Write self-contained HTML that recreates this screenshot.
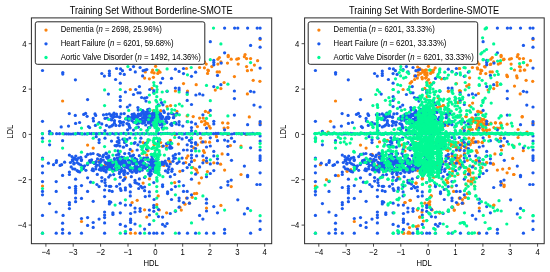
<!DOCTYPE html>
<html><head><meta charset="utf-8"><title>Borderline-SMOTE scatter</title>
<style>
html,body{margin:0;padding:0;background:#fff;}
svg{display:block;}
text{font-family:"Liberation Sans",Arial,sans-serif;fill:#000;}
.t{font-size:9px;}
.l{font-size:9px;}
.ti{font-size:10px;}
</style></head><body>
<svg width="550" height="272" viewBox="0 0 550 272">
<rect width="550" height="272" fill="#fff"/>
<g fill="#fb820c">
<circle cx="62.6" cy="101.0" r="1.62"/>
<circle cx="152.6" cy="70.0" r="1.62"/>
<circle cx="151.9" cy="72.2" r="1.62"/>
<circle cx="154.1" cy="72.9" r="1.62"/>
<circle cx="158.5" cy="70.7" r="1.62"/>
<circle cx="160.0" cy="72.2" r="1.62"/>
<circle cx="157.8" cy="73.4" r="1.62"/>
<circle cx="155.6" cy="66.3" r="1.62"/>
<circle cx="144.6" cy="78.1" r="1.62"/>
<circle cx="149.4" cy="78.8" r="1.62"/>
<circle cx="153.4" cy="77.3" r="1.62"/>
<circle cx="145.3" cy="71.9" r="1.62"/>
<circle cx="186.5" cy="68.5" r="1.62"/>
<circle cx="183.5" cy="83.6" r="1.62"/>
<circle cx="130.3" cy="89.5" r="1.62"/>
<circle cx="151.9" cy="88.4" r="1.62"/>
<circle cx="175.4" cy="91.0" r="1.62"/>
<circle cx="187.5" cy="91.0" r="1.62"/>
<circle cx="219.4" cy="57.5" r="1.62"/>
<circle cx="217.9" cy="59.2" r="1.62"/>
<circle cx="220.9" cy="61.9" r="1.62"/>
<circle cx="217.9" cy="64.1" r="1.62"/>
<circle cx="228.2" cy="56.7" r="1.62"/>
<circle cx="231.2" cy="59.2" r="1.62"/>
<circle cx="227.5" cy="63.1" r="1.62"/>
<circle cx="236.8" cy="59.2" r="1.62"/>
<circle cx="238.5" cy="58.6" r="1.62"/>
<circle cx="238.2" cy="64.1" r="1.62"/>
<circle cx="244.4" cy="56.7" r="1.62"/>
<circle cx="246.6" cy="58.6" r="1.62"/>
<circle cx="250.6" cy="58.6" r="1.62"/>
<circle cx="254.4" cy="65.1" r="1.62"/>
<circle cx="257.6" cy="60.7" r="1.62"/>
<circle cx="246.6" cy="66.6" r="1.62"/>
<circle cx="247.4" cy="70.7" r="1.62"/>
<circle cx="251.5" cy="70.0" r="1.62"/>
<circle cx="204.4" cy="61.9" r="1.62"/>
<circle cx="206.2" cy="64.1" r="1.62"/>
<circle cx="199.6" cy="67.5" r="1.62"/>
<circle cx="204.4" cy="67.8" r="1.62"/>
<circle cx="207.9" cy="70.0" r="1.62"/>
<circle cx="208.4" cy="70.7" r="1.62"/>
<circle cx="207.6" cy="73.4" r="1.62"/>
<circle cx="211.8" cy="66.6" r="1.62"/>
<circle cx="217.2" cy="71.9" r="1.62"/>
<circle cx="219.4" cy="71.9" r="1.62"/>
<circle cx="234.4" cy="76.6" r="1.62"/>
<circle cx="253.2" cy="80.3" r="1.62"/>
<circle cx="259.9" cy="81.3" r="1.62"/>
<circle cx="196.2" cy="84.7" r="1.62"/>
<circle cx="224.1" cy="82.5" r="1.62"/>
<circle cx="220.9" cy="88.6" r="1.62"/>
<circle cx="215.3" cy="90.1" r="1.62"/>
<circle cx="247.4" cy="93.9" r="1.62"/>
<circle cx="260.1" cy="39.5" r="1.62"/>
<circle cx="228.2" cy="55.4" r="1.62"/>
<circle cx="245.1" cy="54.5" r="1.62"/>
<circle cx="167.1" cy="106.6" r="1.62"/>
<circle cx="170.6" cy="105.6" r="1.62"/>
<circle cx="176.9" cy="111.4" r="1.62"/>
<circle cx="160.7" cy="110.7" r="1.62"/>
<circle cx="174.7" cy="115.1" r="1.62"/>
<circle cx="187.2" cy="115.9" r="1.62"/>
<circle cx="153.4" cy="110.7" r="1.62"/>
<circle cx="205.4" cy="111.4" r="1.62"/>
<circle cx="208.4" cy="112.5" r="1.62"/>
<circle cx="199.6" cy="118.1" r="1.62"/>
<circle cx="193.2" cy="116.6" r="1.62"/>
<circle cx="203.2" cy="118.1" r="1.62"/>
<circle cx="201.5" cy="121.7" r="1.62"/>
<circle cx="204.7" cy="121.0" r="1.62"/>
<circle cx="206.2" cy="123.2" r="1.62"/>
<circle cx="207.6" cy="123.6" r="1.62"/>
<circle cx="204.7" cy="124.7" r="1.62"/>
<circle cx="209.1" cy="126.1" r="1.62"/>
<circle cx="210.3" cy="128.1" r="1.62"/>
<circle cx="197.4" cy="126.6" r="1.62"/>
<circle cx="222.6" cy="122.8" r="1.62"/>
<circle cx="227.9" cy="123.2" r="1.62"/>
<circle cx="227.9" cy="127.6" r="1.62"/>
<circle cx="224.1" cy="128.1" r="1.62"/>
<circle cx="249.3" cy="116.9" r="1.62"/>
<circle cx="260.1" cy="123.2" r="1.62"/>
<circle cx="87.6" cy="145.1" r="1.62"/>
<circle cx="93.2" cy="148.1" r="1.62"/>
<circle cx="99.1" cy="155.1" r="1.62"/>
<circle cx="99.1" cy="161.3" r="1.62"/>
<circle cx="105.0" cy="165.4" r="1.62"/>
<circle cx="147.5" cy="141.6" r="1.62"/>
<circle cx="143.1" cy="142.6" r="1.62"/>
<circle cx="132.1" cy="151.0" r="1.62"/>
<circle cx="154.1" cy="144.8" r="1.62"/>
<circle cx="160.7" cy="142.6" r="1.62"/>
<circle cx="162.2" cy="146.3" r="1.62"/>
<circle cx="166.6" cy="145.6" r="1.62"/>
<circle cx="170.3" cy="140.4" r="1.62"/>
<circle cx="178.4" cy="144.1" r="1.62"/>
<circle cx="147.9" cy="150.7" r="1.62"/>
<circle cx="143.1" cy="153.6" r="1.62"/>
<circle cx="146.8" cy="155.1" r="1.62"/>
<circle cx="151.9" cy="159.5" r="1.62"/>
<circle cx="168.8" cy="160.3" r="1.62"/>
<circle cx="170.3" cy="162.5" r="1.62"/>
<circle cx="149.7" cy="167.2" r="1.62"/>
<circle cx="186.5" cy="158.1" r="1.62"/>
<circle cx="187.9" cy="155.9" r="1.62"/>
<circle cx="185.7" cy="162.5" r="1.62"/>
<circle cx="179.9" cy="171.3" r="1.62"/>
<circle cx="163.7" cy="165.4" r="1.62"/>
<circle cx="200.6" cy="138.2" r="1.62"/>
<circle cx="216.5" cy="136.7" r="1.62"/>
<circle cx="201.5" cy="142.2" r="1.62"/>
<circle cx="205.4" cy="141.9" r="1.62"/>
<circle cx="209.6" cy="142.2" r="1.62"/>
<circle cx="193.7" cy="147.8" r="1.62"/>
<circle cx="197.4" cy="144.8" r="1.62"/>
<circle cx="203.5" cy="150.7" r="1.62"/>
<circle cx="204.4" cy="152.5" r="1.62"/>
<circle cx="230.4" cy="145.6" r="1.62"/>
<circle cx="241.0" cy="146.0" r="1.62"/>
<circle cx="222.1" cy="153.9" r="1.62"/>
<circle cx="194.4" cy="160.3" r="1.62"/>
<circle cx="203.5" cy="160.3" r="1.62"/>
<circle cx="206.9" cy="162.5" r="1.62"/>
<circle cx="213.8" cy="162.8" r="1.62"/>
<circle cx="220.6" cy="164.2" r="1.62"/>
<circle cx="224.6" cy="170.1" r="1.62"/>
<circle cx="196.6" cy="170.1" r="1.62"/>
<circle cx="195.6" cy="169.1" r="1.62"/>
<circle cx="197.4" cy="172.5" r="1.62"/>
<circle cx="207.4" cy="171.6" r="1.62"/>
<circle cx="241.0" cy="174.5" r="1.62"/>
<circle cx="192.9" cy="167.6" r="1.62"/>
<circle cx="42.5" cy="186.0" r="1.62"/>
<circle cx="125.4" cy="177.5" r="1.62"/>
<circle cx="149.4" cy="178.9" r="1.62"/>
<circle cx="143.1" cy="183.1" r="1.62"/>
<circle cx="174.7" cy="182.6" r="1.62"/>
<circle cx="137.2" cy="200.3" r="1.62"/>
<circle cx="132.1" cy="202.5" r="1.62"/>
<circle cx="158.2" cy="195.9" r="1.62"/>
<circle cx="156.8" cy="204.7" r="1.62"/>
<circle cx="144.6" cy="209.8" r="1.62"/>
<circle cx="166.6" cy="212.8" r="1.62"/>
<circle cx="181.3" cy="210.1" r="1.62"/>
<circle cx="185.0" cy="204.2" r="1.62"/>
<circle cx="186.5" cy="198.1" r="1.62"/>
<circle cx="189.4" cy="203.2" r="1.62"/>
<circle cx="179.9" cy="207.2" r="1.62"/>
<circle cx="201.5" cy="177.8" r="1.62"/>
<circle cx="199.1" cy="183.1" r="1.62"/>
<circle cx="231.2" cy="186.6" r="1.62"/>
<circle cx="194.4" cy="193.6" r="1.62"/>
<circle cx="196.6" cy="193.4" r="1.62"/>
<circle cx="192.2" cy="197.3" r="1.62"/>
<circle cx="220.9" cy="205.4" r="1.62"/>
<circle cx="206.5" cy="208.1" r="1.62"/>
<circle cx="81.5" cy="221.5" r="1.62"/>
<circle cx="159.3" cy="210.0" r="1.62"/>
<circle cx="146.8" cy="217.1" r="1.62"/>
<circle cx="130.6" cy="233.2" r="1.62"/>
<circle cx="135.3" cy="233.2" r="1.62"/>
<circle cx="175.0" cy="134.5" r="1.62"/>
<circle cx="216.0" cy="134.5" r="1.62"/>
<circle cx="228.0" cy="134.5" r="1.62"/>
<circle cx="246.0" cy="134.5" r="1.62"/>
</g>
<g fill="#1b5aec">
<circle cx="42.5" cy="70.5" r="1.62"/>
<circle cx="62.8" cy="72.6" r="1.62"/>
<circle cx="62.8" cy="74.1" r="1.62"/>
<circle cx="75.4" cy="79.8" r="1.62"/>
<circle cx="101.8" cy="73.5" r="1.62"/>
<circle cx="104.4" cy="76.1" r="1.62"/>
<circle cx="109.4" cy="71.1" r="1.62"/>
<circle cx="109.4" cy="73.5" r="1.62"/>
<circle cx="109.4" cy="75.5" r="1.62"/>
<circle cx="87.6" cy="99.6" r="1.62"/>
<circle cx="108.4" cy="94.1" r="1.62"/>
<circle cx="69.3" cy="113.6" r="1.62"/>
<circle cx="75.3" cy="115.4" r="1.62"/>
<circle cx="83.7" cy="114.4" r="1.62"/>
<circle cx="85.6" cy="113.4" r="1.62"/>
<circle cx="87.1" cy="116.3" r="1.62"/>
<circle cx="95.0" cy="113.9" r="1.62"/>
<circle cx="95.7" cy="115.4" r="1.62"/>
<circle cx="93.2" cy="118.4" r="1.62"/>
<circle cx="93.5" cy="121.0" r="1.62"/>
<circle cx="103.5" cy="114.8" r="1.62"/>
<circle cx="106.5" cy="114.4" r="1.62"/>
<circle cx="109.4" cy="113.9" r="1.62"/>
<circle cx="105.0" cy="118.4" r="1.62"/>
<circle cx="107.2" cy="118.1" r="1.62"/>
<circle cx="42.5" cy="121.3" r="1.62"/>
<circle cx="75.6" cy="123.4" r="1.62"/>
<circle cx="79.6" cy="122.5" r="1.62"/>
<circle cx="61.2" cy="126.9" r="1.62"/>
<circle cx="68.5" cy="126.1" r="1.62"/>
<circle cx="88.5" cy="126.6" r="1.62"/>
<circle cx="89.6" cy="127.6" r="1.62"/>
<circle cx="95.4" cy="125.4" r="1.62"/>
<circle cx="99.1" cy="122.5" r="1.62"/>
<circle cx="101.8" cy="123.9" r="1.62"/>
<circle cx="106.5" cy="125.4" r="1.62"/>
<circle cx="109.4" cy="126.9" r="1.62"/>
<circle cx="49.6" cy="131.3" r="1.62"/>
<circle cx="105.0" cy="130.6" r="1.62"/>
<circle cx="116.6" cy="68.5" r="1.62"/>
<circle cx="120.6" cy="68.9" r="1.62"/>
<circle cx="122.5" cy="70.7" r="1.62"/>
<circle cx="120.3" cy="73.6" r="1.62"/>
<circle cx="124.3" cy="74.4" r="1.62"/>
<circle cx="115.6" cy="79.5" r="1.62"/>
<circle cx="120.3" cy="83.2" r="1.62"/>
<circle cx="130.3" cy="69.5" r="1.62"/>
<circle cx="135.3" cy="71.9" r="1.62"/>
<circle cx="133.5" cy="66.6" r="1.62"/>
<circle cx="140.1" cy="67.5" r="1.62"/>
<circle cx="143.1" cy="70.7" r="1.62"/>
<circle cx="145.3" cy="70.0" r="1.62"/>
<circle cx="146.8" cy="69.5" r="1.62"/>
<circle cx="142.6" cy="75.9" r="1.62"/>
<circle cx="162.6" cy="78.4" r="1.62"/>
<circle cx="160.7" cy="82.8" r="1.62"/>
<circle cx="171.5" cy="78.4" r="1.62"/>
<circle cx="175.4" cy="69.2" r="1.62"/>
<circle cx="179.1" cy="71.4" r="1.62"/>
<circle cx="183.5" cy="68.5" r="1.62"/>
<circle cx="183.5" cy="73.6" r="1.62"/>
<circle cx="139.4" cy="86.6" r="1.62"/>
<circle cx="135.7" cy="89.5" r="1.62"/>
<circle cx="125.4" cy="92.0" r="1.62"/>
<circle cx="137.9" cy="92.8" r="1.62"/>
<circle cx="140.1" cy="92.8" r="1.62"/>
<circle cx="133.5" cy="94.5" r="1.62"/>
<circle cx="149.7" cy="89.5" r="1.62"/>
<circle cx="153.8" cy="90.6" r="1.62"/>
<circle cx="153.8" cy="92.5" r="1.62"/>
<circle cx="167.1" cy="91.3" r="1.62"/>
<circle cx="175.4" cy="88.1" r="1.62"/>
<circle cx="179.1" cy="88.1" r="1.62"/>
<circle cx="179.1" cy="90.1" r="1.62"/>
<circle cx="187.2" cy="92.8" r="1.62"/>
<circle cx="213.8" cy="60.4" r="1.62"/>
<circle cx="213.8" cy="62.6" r="1.62"/>
<circle cx="213.8" cy="64.8" r="1.62"/>
<circle cx="221.2" cy="63.1" r="1.62"/>
<circle cx="195.6" cy="72.2" r="1.62"/>
<circle cx="191.5" cy="76.3" r="1.62"/>
<circle cx="217.5" cy="75.4" r="1.62"/>
<circle cx="260.1" cy="68.1" r="1.62"/>
<circle cx="220.9" cy="84.7" r="1.62"/>
<circle cx="213.8" cy="86.6" r="1.62"/>
<circle cx="234.4" cy="91.0" r="1.62"/>
<circle cx="250.6" cy="91.3" r="1.62"/>
<circle cx="254.0" cy="92.0" r="1.62"/>
<circle cx="195.9" cy="95.0" r="1.62"/>
<circle cx="199.6" cy="93.9" r="1.62"/>
<circle cx="202.9" cy="95.0" r="1.62"/>
<circle cx="224.6" cy="28.1" r="1.62"/>
<circle cx="234.6" cy="28.1" r="1.62"/>
<circle cx="237.8" cy="28.1" r="1.62"/>
<circle cx="247.6" cy="28.1" r="1.62"/>
<circle cx="257.2" cy="28.1" r="1.62"/>
<circle cx="260.1" cy="28.1" r="1.62"/>
<circle cx="210.3" cy="41.7" r="1.62"/>
<circle cx="260.1" cy="38.4" r="1.62"/>
<circle cx="250.6" cy="45.4" r="1.62"/>
<circle cx="260.1" cy="47.2" r="1.62"/>
<circle cx="224.6" cy="52.8" r="1.62"/>
<circle cx="120.3" cy="96.7" r="1.62"/>
<circle cx="120.3" cy="100.4" r="1.62"/>
<circle cx="120.3" cy="106.6" r="1.62"/>
<circle cx="129.9" cy="105.1" r="1.62"/>
<circle cx="127.4" cy="107.0" r="1.62"/>
<circle cx="137.9" cy="107.5" r="1.62"/>
<circle cx="141.6" cy="97.5" r="1.62"/>
<circle cx="144.6" cy="98.2" r="1.62"/>
<circle cx="146.8" cy="97.5" r="1.62"/>
<circle cx="146.0" cy="101.1" r="1.62"/>
<circle cx="187.2" cy="100.4" r="1.62"/>
<circle cx="161.5" cy="102.6" r="1.62"/>
<circle cx="158.5" cy="104.8" r="1.62"/>
<circle cx="162.9" cy="104.8" r="1.62"/>
<circle cx="176.2" cy="123.9" r="1.62"/>
<circle cx="179.1" cy="121.7" r="1.62"/>
<circle cx="182.8" cy="126.1" r="1.62"/>
<circle cx="179.1" cy="124.7" r="1.62"/>
<circle cx="187.2" cy="121.7" r="1.62"/>
<circle cx="111.5" cy="115.1" r="1.62"/>
<circle cx="113.7" cy="114.4" r="1.62"/>
<circle cx="110.7" cy="119.5" r="1.62"/>
<circle cx="111.5" cy="126.1" r="1.62"/>
<circle cx="115.9" cy="125.4" r="1.62"/>
<circle cx="114.4" cy="123.2" r="1.62"/>
<circle cx="127.6" cy="129.8" r="1.62"/>
<circle cx="133.5" cy="130.1" r="1.62"/>
<circle cx="162.2" cy="127.6" r="1.62"/>
<circle cx="171.8" cy="125.4" r="1.62"/>
<circle cx="174.7" cy="122.5" r="1.62"/>
<circle cx="191.5" cy="104.5" r="1.62"/>
<circle cx="234.4" cy="98.6" r="1.62"/>
<circle cx="254.0" cy="105.1" r="1.62"/>
<circle cx="260.1" cy="107.0" r="1.62"/>
<circle cx="210.3" cy="110.4" r="1.62"/>
<circle cx="202.9" cy="114.8" r="1.62"/>
<circle cx="234.4" cy="115.1" r="1.62"/>
<circle cx="191.5" cy="122.2" r="1.62"/>
<circle cx="195.6" cy="123.9" r="1.62"/>
<circle cx="191.5" cy="127.6" r="1.62"/>
<circle cx="213.8" cy="121.3" r="1.62"/>
<circle cx="213.8" cy="123.9" r="1.62"/>
<circle cx="206.5" cy="128.1" r="1.62"/>
<circle cx="224.6" cy="129.8" r="1.62"/>
<circle cx="247.6" cy="124.7" r="1.62"/>
<circle cx="260.1" cy="121.7" r="1.62"/>
<circle cx="260.1" cy="124.7" r="1.62"/>
<circle cx="191.5" cy="130.6" r="1.62"/>
<circle cx="42.5" cy="138.2" r="1.62"/>
<circle cx="62.6" cy="140.7" r="1.62"/>
<circle cx="49.6" cy="144.8" r="1.62"/>
<circle cx="42.5" cy="158.1" r="1.62"/>
<circle cx="42.5" cy="166.1" r="1.62"/>
<circle cx="42.5" cy="172.8" r="1.62"/>
<circle cx="48.4" cy="163.2" r="1.62"/>
<circle cx="53.5" cy="164.7" r="1.62"/>
<circle cx="56.5" cy="160.7" r="1.62"/>
<circle cx="56.2" cy="162.5" r="1.62"/>
<circle cx="60.1" cy="165.4" r="1.62"/>
<circle cx="61.6" cy="164.7" r="1.62"/>
<circle cx="64.6" cy="162.2" r="1.62"/>
<circle cx="62.6" cy="175.4" r="1.62"/>
<circle cx="69.4" cy="174.5" r="1.62"/>
<circle cx="69.4" cy="172.0" r="1.62"/>
<circle cx="99.1" cy="139.7" r="1.62"/>
<circle cx="99.1" cy="142.6" r="1.62"/>
<circle cx="105.0" cy="138.2" r="1.62"/>
<circle cx="96.2" cy="136.7" r="1.62"/>
<circle cx="69.4" cy="155.1" r="1.62"/>
<circle cx="71.9" cy="156.6" r="1.62"/>
<circle cx="74.1" cy="158.1" r="1.62"/>
<circle cx="75.6" cy="159.2" r="1.62"/>
<circle cx="72.6" cy="161.0" r="1.62"/>
<circle cx="70.4" cy="162.5" r="1.62"/>
<circle cx="74.1" cy="163.2" r="1.62"/>
<circle cx="77.1" cy="162.5" r="1.62"/>
<circle cx="71.2" cy="166.9" r="1.62"/>
<circle cx="74.9" cy="169.1" r="1.62"/>
<circle cx="77.1" cy="170.6" r="1.62"/>
<circle cx="78.5" cy="158.1" r="1.62"/>
<circle cx="80.7" cy="157.3" r="1.62"/>
<circle cx="81.5" cy="159.5" r="1.62"/>
<circle cx="87.6" cy="154.4" r="1.62"/>
<circle cx="90.6" cy="153.9" r="1.62"/>
<circle cx="85.9" cy="156.6" r="1.62"/>
<circle cx="103.5" cy="155.1" r="1.62"/>
<circle cx="106.5" cy="153.6" r="1.62"/>
<circle cx="108.7" cy="155.9" r="1.62"/>
<circle cx="179.1" cy="137.5" r="1.62"/>
<circle cx="182.1" cy="138.9" r="1.62"/>
<circle cx="186.5" cy="137.5" r="1.62"/>
<circle cx="189.4" cy="140.4" r="1.62"/>
<circle cx="187.2" cy="144.8" r="1.62"/>
<circle cx="183.5" cy="150.0" r="1.62"/>
<circle cx="187.2" cy="150.0" r="1.62"/>
<circle cx="175.4" cy="154.4" r="1.62"/>
<circle cx="179.1" cy="153.6" r="1.62"/>
<circle cx="173.2" cy="155.9" r="1.62"/>
<circle cx="175.4" cy="158.1" r="1.62"/>
<circle cx="182.1" cy="158.1" r="1.62"/>
<circle cx="179.1" cy="161.7" r="1.62"/>
<circle cx="183.5" cy="163.2" r="1.62"/>
<circle cx="189.4" cy="164.7" r="1.62"/>
<circle cx="171.8" cy="171.3" r="1.62"/>
<circle cx="174.7" cy="174.5" r="1.62"/>
<circle cx="182.8" cy="170.6" r="1.62"/>
<circle cx="187.2" cy="167.6" r="1.62"/>
<circle cx="171.8" cy="147.8" r="1.62"/>
<circle cx="170.3" cy="146.3" r="1.62"/>
<circle cx="115.1" cy="145.6" r="1.62"/>
<circle cx="111.5" cy="141.1" r="1.62"/>
<circle cx="118.8" cy="154.4" r="1.62"/>
<circle cx="124.7" cy="153.6" r="1.62"/>
<circle cx="129.1" cy="153.4" r="1.62"/>
<circle cx="135.0" cy="142.6" r="1.62"/>
<circle cx="137.9" cy="144.8" r="1.62"/>
<circle cx="137.2" cy="150.0" r="1.62"/>
<circle cx="140.9" cy="138.2" r="1.62"/>
<circle cx="140.1" cy="141.9" r="1.62"/>
<circle cx="191.5" cy="138.9" r="1.62"/>
<circle cx="191.5" cy="142.6" r="1.62"/>
<circle cx="191.5" cy="146.3" r="1.62"/>
<circle cx="191.5" cy="150.7" r="1.62"/>
<circle cx="191.5" cy="155.1" r="1.62"/>
<circle cx="191.5" cy="158.1" r="1.62"/>
<circle cx="191.5" cy="161.7" r="1.62"/>
<circle cx="195.6" cy="142.6" r="1.62"/>
<circle cx="195.6" cy="144.1" r="1.62"/>
<circle cx="195.6" cy="148.5" r="1.62"/>
<circle cx="196.6" cy="155.9" r="1.62"/>
<circle cx="199.6" cy="166.9" r="1.62"/>
<circle cx="195.6" cy="174.2" r="1.62"/>
<circle cx="202.9" cy="141.9" r="1.62"/>
<circle cx="206.5" cy="147.0" r="1.62"/>
<circle cx="210.3" cy="137.8" r="1.62"/>
<circle cx="210.3" cy="146.0" r="1.62"/>
<circle cx="202.9" cy="155.9" r="1.62"/>
<circle cx="206.5" cy="158.1" r="1.62"/>
<circle cx="202.9" cy="162.8" r="1.62"/>
<circle cx="206.5" cy="161.0" r="1.62"/>
<circle cx="210.3" cy="163.9" r="1.62"/>
<circle cx="213.8" cy="151.4" r="1.62"/>
<circle cx="213.8" cy="155.9" r="1.62"/>
<circle cx="217.5" cy="158.8" r="1.62"/>
<circle cx="217.5" cy="163.2" r="1.62"/>
<circle cx="213.8" cy="170.6" r="1.62"/>
<circle cx="210.3" cy="173.5" r="1.62"/>
<circle cx="217.5" cy="140.7" r="1.62"/>
<circle cx="224.6" cy="140.1" r="1.62"/>
<circle cx="227.9" cy="141.1" r="1.62"/>
<circle cx="231.5" cy="138.2" r="1.62"/>
<circle cx="234.4" cy="141.6" r="1.62"/>
<circle cx="227.9" cy="146.3" r="1.62"/>
<circle cx="227.9" cy="154.4" r="1.62"/>
<circle cx="231.5" cy="160.3" r="1.62"/>
<circle cx="250.6" cy="147.8" r="1.62"/>
<circle cx="244.4" cy="166.1" r="1.62"/>
<circle cx="247.6" cy="175.4" r="1.62"/>
<circle cx="260.1" cy="136.0" r="1.62"/>
<circle cx="260.1" cy="141.1" r="1.62"/>
<circle cx="260.1" cy="150.0" r="1.62"/>
<circle cx="260.1" cy="155.9" r="1.62"/>
<circle cx="260.1" cy="158.1" r="1.62"/>
<circle cx="260.1" cy="160.3" r="1.62"/>
<circle cx="260.1" cy="172.8" r="1.62"/>
<circle cx="42.5" cy="181.6" r="1.62"/>
<circle cx="42.5" cy="191.4" r="1.62"/>
<circle cx="42.5" cy="194.8" r="1.62"/>
<circle cx="42.5" cy="215.4" r="1.62"/>
<circle cx="56.2" cy="181.6" r="1.62"/>
<circle cx="56.2" cy="191.4" r="1.62"/>
<circle cx="56.2" cy="212.0" r="1.62"/>
<circle cx="49.6" cy="203.6" r="1.62"/>
<circle cx="69.4" cy="187.5" r="1.62"/>
<circle cx="69.4" cy="202.5" r="1.62"/>
<circle cx="69.4" cy="204.7" r="1.62"/>
<circle cx="69.4" cy="208.6" r="1.62"/>
<circle cx="75.6" cy="179.2" r="1.62"/>
<circle cx="75.6" cy="186.3" r="1.62"/>
<circle cx="75.6" cy="188.5" r="1.62"/>
<circle cx="75.6" cy="190.7" r="1.62"/>
<circle cx="75.6" cy="192.9" r="1.62"/>
<circle cx="75.6" cy="198.1" r="1.62"/>
<circle cx="75.6" cy="201.7" r="1.62"/>
<circle cx="81.5" cy="185.6" r="1.62"/>
<circle cx="81.5" cy="198.4" r="1.62"/>
<circle cx="87.6" cy="177.8" r="1.62"/>
<circle cx="87.6" cy="191.4" r="1.62"/>
<circle cx="90.6" cy="182.2" r="1.62"/>
<circle cx="93.2" cy="201.3" r="1.62"/>
<circle cx="96.9" cy="184.5" r="1.62"/>
<circle cx="99.1" cy="186.6" r="1.62"/>
<circle cx="101.8" cy="177.5" r="1.62"/>
<circle cx="101.8" cy="181.1" r="1.62"/>
<circle cx="105.0" cy="179.7" r="1.62"/>
<circle cx="105.0" cy="182.6" r="1.62"/>
<circle cx="105.7" cy="185.6" r="1.62"/>
<circle cx="109.4" cy="186.3" r="1.62"/>
<circle cx="104.6" cy="190.0" r="1.62"/>
<circle cx="109.4" cy="190.7" r="1.62"/>
<circle cx="104.6" cy="196.6" r="1.62"/>
<circle cx="109.4" cy="201.7" r="1.62"/>
<circle cx="109.4" cy="203.9" r="1.62"/>
<circle cx="104.6" cy="212.0" r="1.62"/>
<circle cx="104.6" cy="215.0" r="1.62"/>
<circle cx="63.1" cy="215.4" r="1.62"/>
<circle cx="120.3" cy="177.2" r="1.62"/>
<circle cx="123.2" cy="180.4" r="1.62"/>
<circle cx="124.7" cy="178.9" r="1.62"/>
<circle cx="131.3" cy="176.7" r="1.62"/>
<circle cx="135.0" cy="180.4" r="1.62"/>
<circle cx="136.5" cy="183.1" r="1.62"/>
<circle cx="139.4" cy="178.9" r="1.62"/>
<circle cx="144.6" cy="177.5" r="1.62"/>
<circle cx="110.7" cy="186.3" r="1.62"/>
<circle cx="112.2" cy="191.4" r="1.62"/>
<circle cx="116.6" cy="186.3" r="1.62"/>
<circle cx="119.6" cy="184.1" r="1.62"/>
<circle cx="120.3" cy="188.5" r="1.62"/>
<circle cx="121.0" cy="190.4" r="1.62"/>
<circle cx="125.4" cy="187.8" r="1.62"/>
<circle cx="125.4" cy="190.0" r="1.62"/>
<circle cx="129.9" cy="184.8" r="1.62"/>
<circle cx="130.6" cy="186.3" r="1.62"/>
<circle cx="130.3" cy="191.9" r="1.62"/>
<circle cx="130.3" cy="195.9" r="1.62"/>
<circle cx="135.0" cy="182.6" r="1.62"/>
<circle cx="138.7" cy="184.1" r="1.62"/>
<circle cx="138.7" cy="188.5" r="1.62"/>
<circle cx="140.9" cy="186.3" r="1.62"/>
<circle cx="142.4" cy="187.8" r="1.62"/>
<circle cx="144.6" cy="187.0" r="1.62"/>
<circle cx="144.6" cy="190.7" r="1.62"/>
<circle cx="145.3" cy="196.6" r="1.62"/>
<circle cx="149.4" cy="191.9" r="1.62"/>
<circle cx="149.4" cy="195.9" r="1.62"/>
<circle cx="153.8" cy="182.6" r="1.62"/>
<circle cx="162.6" cy="184.8" r="1.62"/>
<circle cx="162.6" cy="186.6" r="1.62"/>
<circle cx="167.6" cy="191.9" r="1.62"/>
<circle cx="167.6" cy="193.6" r="1.62"/>
<circle cx="171.5" cy="189.5" r="1.62"/>
<circle cx="175.4" cy="186.6" r="1.62"/>
<circle cx="179.1" cy="181.6" r="1.62"/>
<circle cx="183.5" cy="185.6" r="1.62"/>
<circle cx="183.5" cy="191.4" r="1.62"/>
<circle cx="187.2" cy="191.4" r="1.62"/>
<circle cx="171.5" cy="199.5" r="1.62"/>
<circle cx="179.1" cy="198.1" r="1.62"/>
<circle cx="179.1" cy="200.7" r="1.62"/>
<circle cx="183.5" cy="202.5" r="1.62"/>
<circle cx="187.2" cy="198.1" r="1.62"/>
<circle cx="110.7" cy="202.2" r="1.62"/>
<circle cx="120.3" cy="203.2" r="1.62"/>
<circle cx="125.4" cy="205.1" r="1.62"/>
<circle cx="130.6" cy="205.1" r="1.62"/>
<circle cx="135.0" cy="208.1" r="1.62"/>
<circle cx="135.0" cy="212.0" r="1.62"/>
<circle cx="140.1" cy="208.6" r="1.62"/>
<circle cx="140.1" cy="211.3" r="1.62"/>
<circle cx="149.4" cy="210.1" r="1.62"/>
<circle cx="153.8" cy="205.4" r="1.62"/>
<circle cx="153.8" cy="207.6" r="1.62"/>
<circle cx="153.8" cy="211.3" r="1.62"/>
<circle cx="158.5" cy="209.5" r="1.62"/>
<circle cx="120.3" cy="212.8" r="1.62"/>
<circle cx="112.9" cy="212.8" r="1.62"/>
<circle cx="130.6" cy="213.5" r="1.62"/>
<circle cx="149.4" cy="215.0" r="1.62"/>
<circle cx="170.3" cy="213.5" r="1.62"/>
<circle cx="175.4" cy="211.3" r="1.62"/>
<circle cx="179.1" cy="207.2" r="1.62"/>
<circle cx="189.4" cy="203.2" r="1.62"/>
<circle cx="170.3" cy="176.7" r="1.62"/>
<circle cx="154.1" cy="199.5" r="1.62"/>
<circle cx="191.5" cy="179.2" r="1.62"/>
<circle cx="206.5" cy="176.7" r="1.62"/>
<circle cx="247.6" cy="176.7" r="1.62"/>
<circle cx="227.9" cy="181.6" r="1.62"/>
<circle cx="231.2" cy="180.1" r="1.62"/>
<circle cx="227.9" cy="185.1" r="1.62"/>
<circle cx="220.9" cy="187.5" r="1.62"/>
<circle cx="256.9" cy="184.5" r="1.62"/>
<circle cx="260.1" cy="184.5" r="1.62"/>
<circle cx="191.5" cy="194.8" r="1.62"/>
<circle cx="206.5" cy="199.2" r="1.62"/>
<circle cx="206.5" cy="203.2" r="1.62"/>
<circle cx="237.8" cy="199.8" r="1.62"/>
<circle cx="213.8" cy="206.6" r="1.62"/>
<circle cx="206.5" cy="211.0" r="1.62"/>
<circle cx="217.5" cy="212.8" r="1.62"/>
<circle cx="247.6" cy="208.4" r="1.62"/>
<circle cx="244.4" cy="213.9" r="1.62"/>
<circle cx="199.6" cy="215.4" r="1.62"/>
<circle cx="62.6" cy="223.2" r="1.62"/>
<circle cx="62.6" cy="229.4" r="1.62"/>
<circle cx="62.6" cy="233.2" r="1.62"/>
<circle cx="56.2" cy="233.2" r="1.62"/>
<circle cx="69.4" cy="233.2" r="1.62"/>
<circle cx="42.5" cy="233.2" r="1.62"/>
<circle cx="81.5" cy="233.2" r="1.62"/>
<circle cx="104.6" cy="233.2" r="1.62"/>
<circle cx="81.5" cy="218.5" r="1.62"/>
<circle cx="87.6" cy="217.6" r="1.62"/>
<circle cx="87.6" cy="225.4" r="1.62"/>
<circle cx="93.2" cy="222.5" r="1.62"/>
<circle cx="93.2" cy="227.4" r="1.62"/>
<circle cx="99.1" cy="219.1" r="1.62"/>
<circle cx="104.6" cy="217.6" r="1.62"/>
<circle cx="104.6" cy="222.9" r="1.62"/>
<circle cx="112.9" cy="214.4" r="1.62"/>
<circle cx="158.5" cy="216.6" r="1.62"/>
<circle cx="162.6" cy="217.1" r="1.62"/>
<circle cx="130.6" cy="219.1" r="1.62"/>
<circle cx="130.6" cy="220.6" r="1.62"/>
<circle cx="130.6" cy="222.5" r="1.62"/>
<circle cx="120.3" cy="224.4" r="1.62"/>
<circle cx="125.4" cy="226.2" r="1.62"/>
<circle cx="135.0" cy="224.0" r="1.62"/>
<circle cx="149.4" cy="224.4" r="1.62"/>
<circle cx="162.6" cy="224.4" r="1.62"/>
<circle cx="165.1" cy="226.2" r="1.62"/>
<circle cx="167.1" cy="223.5" r="1.62"/>
<circle cx="130.6" cy="229.4" r="1.62"/>
<circle cx="144.6" cy="229.1" r="1.62"/>
<circle cx="125.4" cy="233.2" r="1.62"/>
<circle cx="140.1" cy="233.2" r="1.62"/>
<circle cx="149.4" cy="233.2" r="1.62"/>
<circle cx="153.8" cy="233.2" r="1.62"/>
<circle cx="156.8" cy="233.2" r="1.62"/>
<circle cx="162.6" cy="233.2" r="1.62"/>
<circle cx="179.1" cy="233.2" r="1.62"/>
<circle cx="187.5" cy="233.2" r="1.62"/>
<circle cx="202.9" cy="219.1" r="1.62"/>
<circle cx="260.1" cy="221.0" r="1.62"/>
<circle cx="260.1" cy="229.4" r="1.62"/>
<circle cx="224.6" cy="229.4" r="1.62"/>
<circle cx="224.6" cy="233.2" r="1.62"/>
<circle cx="195.6" cy="233.2" r="1.62"/>
<circle cx="206.5" cy="233.2" r="1.62"/>
<circle cx="213.8" cy="233.2" r="1.62"/>
<circle cx="250.6" cy="233.2" r="1.62"/>
<circle cx="119.6" cy="121.4" r="1.62"/>
<circle cx="128.6" cy="120.0" r="1.62"/>
<circle cx="120.6" cy="121.8" r="1.62"/>
<circle cx="114.5" cy="120.7" r="1.62"/>
<circle cx="123.0" cy="124.9" r="1.62"/>
<circle cx="112.8" cy="117.6" r="1.62"/>
<circle cx="112.7" cy="125.1" r="1.62"/>
<circle cx="124.2" cy="113.6" r="1.62"/>
<circle cx="129.7" cy="127.5" r="1.62"/>
<circle cx="123.4" cy="122.2" r="1.62"/>
<circle cx="114.0" cy="113.2" r="1.62"/>
<circle cx="121.0" cy="113.9" r="1.62"/>
<circle cx="114.6" cy="116.6" r="1.62"/>
<circle cx="111.6" cy="120.0" r="1.62"/>
<circle cx="119.4" cy="125.6" r="1.62"/>
<circle cx="120.9" cy="122.6" r="1.62"/>
<circle cx="120.5" cy="122.9" r="1.62"/>
<circle cx="119.7" cy="117.2" r="1.62"/>
<circle cx="130.0" cy="127.9" r="1.62"/>
<circle cx="127.0" cy="123.6" r="1.62"/>
<circle cx="117.0" cy="116.4" r="1.62"/>
<circle cx="116.5" cy="114.1" r="1.62"/>
<circle cx="125.6" cy="119.0" r="1.62"/>
<circle cx="127.1" cy="118.8" r="1.62"/>
<circle cx="129.2" cy="125.7" r="1.62"/>
<circle cx="111.0" cy="116.1" r="1.62"/>
<circle cx="166.6" cy="143.6" r="1.62"/>
<circle cx="170.8" cy="142.6" r="1.62"/>
<circle cx="116.4" cy="145.8" r="1.62"/>
<circle cx="158.7" cy="140.8" r="1.62"/>
<circle cx="117.2" cy="141.7" r="1.62"/>
<circle cx="169.8" cy="147.6" r="1.62"/>
<circle cx="119.1" cy="140.4" r="1.62"/>
<circle cx="118.1" cy="137.8" r="1.62"/>
<circle cx="159.8" cy="139.5" r="1.62"/>
<circle cx="145.6" cy="143.3" r="1.62"/>
<circle cx="123.4" cy="147.2" r="1.62"/>
<circle cx="119.9" cy="146.0" r="1.62"/>
<circle cx="119.0" cy="142.9" r="1.62"/>
<circle cx="124.8" cy="140.8" r="1.62"/>
<circle cx="170.3" cy="148.2" r="1.62"/>
<circle cx="130.2" cy="149.4" r="1.62"/>
<circle cx="124.6" cy="142.5" r="1.62"/>
<circle cx="163.3" cy="146.0" r="1.62"/>
<circle cx="118.0" cy="150.9" r="1.62"/>
<circle cx="124.8" cy="140.6" r="1.62"/>
<circle cx="158.4" cy="141.6" r="1.62"/>
<circle cx="129.8" cy="138.0" r="1.62"/>
<circle cx="117.4" cy="145.2" r="1.62"/>
<circle cx="126.6" cy="145.4" r="1.62"/>
<circle cx="134.3" cy="143.3" r="1.62"/>
<circle cx="169.5" cy="143.8" r="1.62"/>
<circle cx="146.5" cy="149.1" r="1.62"/>
<circle cx="123.0" cy="139.2" r="1.62"/>
<circle cx="166.5" cy="148.4" r="1.62"/>
<circle cx="127.0" cy="139.7" r="1.62"/>
<circle cx="156.1" cy="117.5" r="1.62"/>
<circle cx="150.5" cy="117.6" r="1.62"/>
<circle cx="153.2" cy="121.3" r="1.62"/>
<circle cx="145.6" cy="115.1" r="1.62"/>
<circle cx="138.9" cy="123.1" r="1.62"/>
<circle cx="166.7" cy="122.7" r="1.62"/>
<circle cx="161.1" cy="122.0" r="1.62"/>
<circle cx="150.0" cy="121.3" r="1.62"/>
<circle cx="136.3" cy="117.6" r="1.62"/>
<circle cx="140.5" cy="121.6" r="1.62"/>
<circle cx="142.5" cy="118.0" r="1.62"/>
<circle cx="155.2" cy="124.2" r="1.62"/>
<circle cx="139.7" cy="114.6" r="1.62"/>
<circle cx="160.6" cy="113.9" r="1.62"/>
<circle cx="155.9" cy="116.1" r="1.62"/>
<circle cx="148.6" cy="110.9" r="1.62"/>
<circle cx="159.3" cy="116.4" r="1.62"/>
<circle cx="138.3" cy="127.2" r="1.62"/>
<circle cx="155.3" cy="117.0" r="1.62"/>
<circle cx="151.4" cy="125.2" r="1.62"/>
<circle cx="149.6" cy="120.4" r="1.62"/>
<circle cx="156.7" cy="114.7" r="1.62"/>
<circle cx="151.7" cy="116.4" r="1.62"/>
<circle cx="133.8" cy="122.2" r="1.62"/>
<circle cx="158.7" cy="118.8" r="1.62"/>
<circle cx="138.2" cy="110.1" r="1.62"/>
<circle cx="156.3" cy="118.1" r="1.62"/>
<circle cx="128.1" cy="118.2" r="1.62"/>
<circle cx="130.2" cy="118.4" r="1.62"/>
<circle cx="151.9" cy="120.0" r="1.62"/>
<circle cx="152.8" cy="119.2" r="1.62"/>
<circle cx="135.2" cy="116.9" r="1.62"/>
<circle cx="143.4" cy="117.5" r="1.62"/>
<circle cx="153.5" cy="121.1" r="1.62"/>
<circle cx="155.2" cy="117.7" r="1.62"/>
<circle cx="128.5" cy="120.2" r="1.62"/>
<circle cx="143.2" cy="122.7" r="1.62"/>
<circle cx="136.3" cy="118.1" r="1.62"/>
<circle cx="148.3" cy="118.1" r="1.62"/>
<circle cx="142.4" cy="110.8" r="1.62"/>
<circle cx="156.0" cy="122.7" r="1.62"/>
<circle cx="149.1" cy="114.2" r="1.62"/>
<circle cx="152.6" cy="120.9" r="1.62"/>
<circle cx="147.7" cy="118.4" r="1.62"/>
<circle cx="168.3" cy="113.8" r="1.62"/>
<circle cx="142.7" cy="110.5" r="1.62"/>
<circle cx="140.9" cy="115.4" r="1.62"/>
<circle cx="137.5" cy="115.6" r="1.62"/>
<circle cx="173.4" cy="117.7" r="1.62"/>
<circle cx="148.5" cy="127.7" r="1.62"/>
<circle cx="149.2" cy="111.2" r="1.62"/>
<circle cx="155.2" cy="114.6" r="1.62"/>
<circle cx="171.3" cy="113.3" r="1.62"/>
<circle cx="142.5" cy="111.8" r="1.62"/>
<circle cx="151.3" cy="114.2" r="1.62"/>
<circle cx="149.1" cy="116.9" r="1.62"/>
<circle cx="142.0" cy="122.5" r="1.62"/>
<circle cx="162.2" cy="118.8" r="1.62"/>
<circle cx="138.3" cy="114.0" r="1.62"/>
<circle cx="144.1" cy="115.2" r="1.62"/>
<circle cx="140.9" cy="113.9" r="1.62"/>
<circle cx="137.4" cy="117.6" r="1.62"/>
<circle cx="168.6" cy="118.5" r="1.62"/>
<circle cx="143.4" cy="111.7" r="1.62"/>
<circle cx="152.8" cy="118.4" r="1.62"/>
<circle cx="134.1" cy="113.9" r="1.62"/>
<circle cx="149.5" cy="122.8" r="1.62"/>
<circle cx="158.1" cy="119.4" r="1.62"/>
<circle cx="145.8" cy="119.8" r="1.62"/>
<circle cx="149.8" cy="127.6" r="1.62"/>
<circle cx="135.3" cy="117.0" r="1.62"/>
<circle cx="166.5" cy="117.4" r="1.62"/>
<circle cx="168.5" cy="118.3" r="1.62"/>
<circle cx="151.9" cy="116.9" r="1.62"/>
<circle cx="132.1" cy="114.4" r="1.62"/>
<circle cx="157.9" cy="122.5" r="1.62"/>
<circle cx="157.4" cy="122.8" r="1.62"/>
<circle cx="146.5" cy="117.6" r="1.62"/>
<circle cx="162.8" cy="117.0" r="1.62"/>
<circle cx="132.7" cy="117.6" r="1.62"/>
<circle cx="142.9" cy="121.1" r="1.62"/>
<circle cx="140.6" cy="114.0" r="1.62"/>
<circle cx="145.7" cy="125.0" r="1.62"/>
<circle cx="149.4" cy="119.2" r="1.62"/>
<circle cx="150.1" cy="119.7" r="1.62"/>
<circle cx="162.1" cy="124.4" r="1.62"/>
<circle cx="128.6" cy="124.2" r="1.62"/>
<circle cx="150.0" cy="117.2" r="1.62"/>
<circle cx="175.3" cy="122.6" r="1.62"/>
<circle cx="136.6" cy="120.6" r="1.62"/>
<circle cx="159.6" cy="118.0" r="1.62"/>
<circle cx="119.7" cy="117.1" r="1.62"/>
<circle cx="147.5" cy="113.8" r="1.62"/>
<circle cx="173.7" cy="117.5" r="1.62"/>
<circle cx="144.9" cy="117.2" r="1.62"/>
<circle cx="139.8" cy="115.2" r="1.62"/>
<circle cx="151.2" cy="119.8" r="1.62"/>
<circle cx="143.4" cy="118.1" r="1.62"/>
<circle cx="131.9" cy="120.7" r="1.62"/>
<circle cx="140.3" cy="119.4" r="1.62"/>
<circle cx="138.2" cy="116.3" r="1.62"/>
<circle cx="152.8" cy="113.4" r="1.62"/>
<circle cx="149.1" cy="115.4" r="1.62"/>
<circle cx="170.7" cy="124.3" r="1.62"/>
<circle cx="153.9" cy="112.8" r="1.62"/>
<circle cx="143.4" cy="121.1" r="1.62"/>
<circle cx="143.3" cy="113.5" r="1.62"/>
<circle cx="134.6" cy="115.3" r="1.62"/>
<circle cx="150.2" cy="115.8" r="1.62"/>
<circle cx="173.0" cy="114.1" r="1.62"/>
<circle cx="154.5" cy="118.9" r="1.62"/>
<circle cx="148.2" cy="122.9" r="1.62"/>
<circle cx="145.7" cy="117.1" r="1.62"/>
<circle cx="145.1" cy="118.1" r="1.62"/>
<circle cx="166.7" cy="121.8" r="1.62"/>
<circle cx="132.6" cy="116.6" r="1.62"/>
<circle cx="139.6" cy="121.9" r="1.62"/>
<circle cx="152.9" cy="122.2" r="1.62"/>
<circle cx="149.2" cy="110.5" r="1.62"/>
<circle cx="155.9" cy="119.5" r="1.62"/>
<circle cx="156.6" cy="113.0" r="1.62"/>
<circle cx="151.1" cy="115.6" r="1.62"/>
<circle cx="141.1" cy="120.0" r="1.62"/>
<circle cx="154.6" cy="114.8" r="1.62"/>
<circle cx="142.5" cy="123.2" r="1.62"/>
<circle cx="149.3" cy="109.0" r="1.62"/>
<circle cx="138.8" cy="120.3" r="1.62"/>
<circle cx="171.7" cy="123.4" r="1.62"/>
<circle cx="154.8" cy="119.3" r="1.62"/>
<circle cx="136.2" cy="116.6" r="1.62"/>
<circle cx="145.7" cy="115.2" r="1.62"/>
<circle cx="150.8" cy="116.9" r="1.62"/>
<circle cx="154.4" cy="124.5" r="1.62"/>
<circle cx="159.6" cy="120.3" r="1.62"/>
<circle cx="146.9" cy="112.1" r="1.62"/>
<circle cx="148.5" cy="120.8" r="1.62"/>
<circle cx="136.9" cy="123.8" r="1.62"/>
<circle cx="145.7" cy="120.1" r="1.62"/>
<circle cx="145.7" cy="113.2" r="1.62"/>
<circle cx="176.9" cy="113.6" r="1.62"/>
<circle cx="161.9" cy="116.2" r="1.62"/>
<circle cx="153.6" cy="115.1" r="1.62"/>
<circle cx="144.6" cy="122.4" r="1.62"/>
<circle cx="175.3" cy="114.9" r="1.62"/>
<circle cx="150.1" cy="122.5" r="1.62"/>
<circle cx="141.8" cy="121.5" r="1.62"/>
<circle cx="139.8" cy="121.0" r="1.62"/>
<circle cx="155.7" cy="123.6" r="1.62"/>
<circle cx="154.7" cy="113.5" r="1.62"/>
<circle cx="158.6" cy="113.9" r="1.62"/>
<circle cx="159.8" cy="124.8" r="1.62"/>
<circle cx="157.7" cy="116.2" r="1.62"/>
<circle cx="165.5" cy="119.2" r="1.62"/>
<circle cx="133.8" cy="117.0" r="1.62"/>
<circle cx="168.4" cy="117.2" r="1.62"/>
<circle cx="151.6" cy="117.1" r="1.62"/>
<circle cx="128.1" cy="116.4" r="1.62"/>
<circle cx="154.6" cy="119.4" r="1.62"/>
<circle cx="147.7" cy="109.5" r="1.62"/>
<circle cx="165.9" cy="121.5" r="1.62"/>
<circle cx="163.3" cy="124.0" r="1.62"/>
<circle cx="144.2" cy="116.0" r="1.62"/>
<circle cx="154.1" cy="125.5" r="1.62"/>
<circle cx="128.1" cy="117.5" r="1.62"/>
<circle cx="140.7" cy="120.8" r="1.62"/>
<circle cx="169.0" cy="117.3" r="1.62"/>
<circle cx="133.9" cy="118.7" r="1.62"/>
<circle cx="146.3" cy="112.0" r="1.62"/>
<circle cx="161.5" cy="116.3" r="1.62"/>
<circle cx="158.9" cy="113.0" r="1.62"/>
<circle cx="164.3" cy="112.4" r="1.62"/>
<circle cx="163.7" cy="110.9" r="1.62"/>
<circle cx="167.9" cy="116.9" r="1.62"/>
<circle cx="129.8" cy="117.5" r="1.62"/>
<circle cx="154.4" cy="114.3" r="1.62"/>
<circle cx="114.2" cy="165.6" r="1.62"/>
<circle cx="116.0" cy="166.4" r="1.62"/>
<circle cx="136.3" cy="169.3" r="1.62"/>
<circle cx="108.7" cy="177.1" r="1.62"/>
<circle cx="150.4" cy="165.9" r="1.62"/>
<circle cx="158.4" cy="169.1" r="1.62"/>
<circle cx="130.9" cy="161.2" r="1.62"/>
<circle cx="156.7" cy="166.4" r="1.62"/>
<circle cx="75.0" cy="158.8" r="1.62"/>
<circle cx="141.1" cy="164.8" r="1.62"/>
<circle cx="135.8" cy="167.5" r="1.62"/>
<circle cx="132.1" cy="172.2" r="1.62"/>
<circle cx="111.5" cy="162.3" r="1.62"/>
<circle cx="137.0" cy="168.0" r="1.62"/>
<circle cx="150.1" cy="171.7" r="1.62"/>
<circle cx="114.7" cy="170.1" r="1.62"/>
<circle cx="141.1" cy="159.1" r="1.62"/>
<circle cx="124.2" cy="174.7" r="1.62"/>
<circle cx="150.0" cy="162.0" r="1.62"/>
<circle cx="108.3" cy="164.7" r="1.62"/>
<circle cx="136.8" cy="159.6" r="1.62"/>
<circle cx="94.8" cy="163.3" r="1.62"/>
<circle cx="116.7" cy="161.2" r="1.62"/>
<circle cx="159.6" cy="164.7" r="1.62"/>
<circle cx="93.4" cy="170.7" r="1.62"/>
<circle cx="119.3" cy="157.7" r="1.62"/>
<circle cx="137.0" cy="166.7" r="1.62"/>
<circle cx="118.5" cy="167.8" r="1.62"/>
<circle cx="151.0" cy="159.9" r="1.62"/>
<circle cx="124.4" cy="170.5" r="1.62"/>
<circle cx="156.1" cy="171.3" r="1.62"/>
<circle cx="157.6" cy="156.7" r="1.62"/>
<circle cx="147.3" cy="166.3" r="1.62"/>
<circle cx="125.4" cy="162.1" r="1.62"/>
<circle cx="96.8" cy="165.0" r="1.62"/>
<circle cx="163.8" cy="162.5" r="1.62"/>
<circle cx="142.9" cy="161.0" r="1.62"/>
<circle cx="135.1" cy="159.3" r="1.62"/>
<circle cx="138.6" cy="163.2" r="1.62"/>
<circle cx="136.8" cy="161.3" r="1.62"/>
<circle cx="95.1" cy="162.7" r="1.62"/>
<circle cx="157.0" cy="172.2" r="1.62"/>
<circle cx="118.9" cy="168.3" r="1.62"/>
<circle cx="149.2" cy="166.3" r="1.62"/>
<circle cx="84.6" cy="165.9" r="1.62"/>
<circle cx="100.9" cy="170.2" r="1.62"/>
<circle cx="150.1" cy="167.4" r="1.62"/>
<circle cx="147.6" cy="157.9" r="1.62"/>
<circle cx="155.2" cy="164.7" r="1.62"/>
<circle cx="122.9" cy="160.7" r="1.62"/>
<circle cx="99.5" cy="162.1" r="1.62"/>
<circle cx="133.8" cy="161.1" r="1.62"/>
<circle cx="110.7" cy="161.5" r="1.62"/>
<circle cx="103.2" cy="168.7" r="1.62"/>
<circle cx="120.4" cy="168.6" r="1.62"/>
<circle cx="95.7" cy="168.9" r="1.62"/>
<circle cx="127.2" cy="167.6" r="1.62"/>
<circle cx="125.1" cy="159.9" r="1.62"/>
<circle cx="161.9" cy="162.1" r="1.62"/>
<circle cx="123.9" cy="159.9" r="1.62"/>
<circle cx="133.7" cy="162.4" r="1.62"/>
<circle cx="135.9" cy="166.0" r="1.62"/>
<circle cx="108.7" cy="157.2" r="1.62"/>
<circle cx="140.1" cy="168.9" r="1.62"/>
<circle cx="147.5" cy="158.6" r="1.62"/>
<circle cx="144.9" cy="166.2" r="1.62"/>
<circle cx="135.9" cy="166.4" r="1.62"/>
<circle cx="118.9" cy="165.4" r="1.62"/>
<circle cx="153.9" cy="161.8" r="1.62"/>
<circle cx="87.7" cy="163.8" r="1.62"/>
<circle cx="133.5" cy="155.1" r="1.62"/>
<circle cx="109.1" cy="167.2" r="1.62"/>
<circle cx="123.8" cy="164.8" r="1.62"/>
<circle cx="92.7" cy="168.8" r="1.62"/>
<circle cx="177.1" cy="163.3" r="1.62"/>
<circle cx="107.5" cy="158.5" r="1.62"/>
<circle cx="152.9" cy="164.8" r="1.62"/>
<circle cx="105.8" cy="170.4" r="1.62"/>
<circle cx="149.4" cy="167.3" r="1.62"/>
<circle cx="78.7" cy="163.8" r="1.62"/>
<circle cx="145.5" cy="158.2" r="1.62"/>
<circle cx="154.0" cy="171.5" r="1.62"/>
<circle cx="156.9" cy="160.7" r="1.62"/>
<circle cx="108.2" cy="169.0" r="1.62"/>
<circle cx="155.8" cy="170.4" r="1.62"/>
<circle cx="161.6" cy="163.8" r="1.62"/>
<circle cx="116.5" cy="155.0" r="1.62"/>
<circle cx="150.0" cy="175.7" r="1.62"/>
<circle cx="115.0" cy="161.9" r="1.62"/>
<circle cx="146.2" cy="166.2" r="1.62"/>
<circle cx="89.6" cy="160.7" r="1.62"/>
<circle cx="97.3" cy="174.4" r="1.62"/>
<circle cx="107.9" cy="168.6" r="1.62"/>
<circle cx="167.9" cy="172.4" r="1.62"/>
<circle cx="93.4" cy="162.6" r="1.62"/>
<circle cx="107.6" cy="162.8" r="1.62"/>
<circle cx="143.6" cy="158.1" r="1.62"/>
<circle cx="165.5" cy="170.8" r="1.62"/>
<circle cx="113.7" cy="174.6" r="1.62"/>
<circle cx="130.1" cy="170.8" r="1.62"/>
<circle cx="136.7" cy="161.5" r="1.62"/>
<circle cx="117.3" cy="163.7" r="1.62"/>
<circle cx="145.3" cy="164.9" r="1.62"/>
<circle cx="114.9" cy="160.7" r="1.62"/>
<circle cx="106.2" cy="157.1" r="1.62"/>
<circle cx="100.4" cy="168.8" r="1.62"/>
<circle cx="129.7" cy="163.4" r="1.62"/>
<circle cx="137.8" cy="169.6" r="1.62"/>
<circle cx="145.2" cy="168.2" r="1.62"/>
<circle cx="112.3" cy="163.0" r="1.62"/>
<circle cx="106.3" cy="163.8" r="1.62"/>
<circle cx="105.1" cy="162.4" r="1.62"/>
<circle cx="123.1" cy="163.2" r="1.62"/>
<circle cx="120.5" cy="161.8" r="1.62"/>
<circle cx="164.7" cy="162.6" r="1.62"/>
<circle cx="99.7" cy="165.3" r="1.62"/>
<circle cx="97.5" cy="158.9" r="1.62"/>
<circle cx="130.4" cy="156.0" r="1.62"/>
<circle cx="157.0" cy="155.9" r="1.62"/>
<circle cx="102.9" cy="167.2" r="1.62"/>
<circle cx="72.4" cy="159.9" r="1.62"/>
<circle cx="94.3" cy="163.3" r="1.62"/>
<circle cx="72.8" cy="168.8" r="1.62"/>
<circle cx="124.0" cy="165.8" r="1.62"/>
<circle cx="118.8" cy="153.7" r="1.62"/>
<circle cx="123.7" cy="157.6" r="1.62"/>
<circle cx="128.3" cy="160.0" r="1.62"/>
<circle cx="119.1" cy="163.2" r="1.62"/>
<circle cx="149.6" cy="168.1" r="1.62"/>
<circle cx="99.9" cy="164.2" r="1.62"/>
<circle cx="168.9" cy="166.8" r="1.62"/>
<circle cx="107.6" cy="163.7" r="1.62"/>
<circle cx="118.3" cy="169.0" r="1.62"/>
<circle cx="128.9" cy="166.2" r="1.62"/>
<circle cx="99.6" cy="155.6" r="1.62"/>
<circle cx="83.4" cy="168.6" r="1.62"/>
<circle cx="136.2" cy="172.5" r="1.62"/>
<circle cx="72.7" cy="159.9" r="1.62"/>
<circle cx="168.4" cy="169.4" r="1.62"/>
<circle cx="152.8" cy="168.7" r="1.62"/>
<circle cx="128.9" cy="164.2" r="1.62"/>
<circle cx="128.9" cy="168.5" r="1.62"/>
<circle cx="123.4" cy="165.9" r="1.62"/>
<circle cx="168.7" cy="158.7" r="1.62"/>
<circle cx="107.0" cy="167.1" r="1.62"/>
<circle cx="120.6" cy="163.5" r="1.62"/>
<circle cx="116.3" cy="169.8" r="1.62"/>
<circle cx="109.2" cy="164.9" r="1.62"/>
<circle cx="110.2" cy="175.2" r="1.62"/>
<circle cx="142.7" cy="162.3" r="1.62"/>
<circle cx="141.7" cy="160.3" r="1.62"/>
<circle cx="111.1" cy="164.8" r="1.62"/>
<circle cx="139.8" cy="171.1" r="1.62"/>
<circle cx="148.7" cy="173.9" r="1.62"/>
<circle cx="140.6" cy="165.0" r="1.62"/>
<circle cx="124.3" cy="160.0" r="1.62"/>
<circle cx="173.8" cy="158.4" r="1.62"/>
<circle cx="124.5" cy="161.7" r="1.62"/>
<circle cx="106.0" cy="153.2" r="1.62"/>
<circle cx="117.3" cy="165.0" r="1.62"/>
<circle cx="132.0" cy="168.5" r="1.62"/>
<circle cx="123.5" cy="161.1" r="1.62"/>
<circle cx="136.6" cy="167.6" r="1.62"/>
<circle cx="102.7" cy="156.7" r="1.62"/>
<circle cx="99.3" cy="169.6" r="1.62"/>
<circle cx="156.0" cy="159.9" r="1.62"/>
<circle cx="131.1" cy="168.5" r="1.62"/>
<circle cx="165.2" cy="161.0" r="1.62"/>
<circle cx="121.3" cy="171.3" r="1.62"/>
<circle cx="96.1" cy="166.5" r="1.62"/>
<circle cx="119.6" cy="164.0" r="1.62"/>
<circle cx="109.4" cy="161.9" r="1.62"/>
<circle cx="127.7" cy="173.3" r="1.62"/>
<circle cx="147.6" cy="166.4" r="1.62"/>
<circle cx="128.8" cy="160.5" r="1.62"/>
<circle cx="121.6" cy="170.5" r="1.62"/>
<circle cx="151.2" cy="174.1" r="1.62"/>
<circle cx="135.3" cy="164.2" r="1.62"/>
<circle cx="82.7" cy="166.3" r="1.62"/>
<circle cx="79.7" cy="171.9" r="1.62"/>
<circle cx="110.4" cy="164.3" r="1.62"/>
<circle cx="90.2" cy="161.8" r="1.62"/>
<circle cx="101.9" cy="170.0" r="1.62"/>
<circle cx="135.0" cy="158.4" r="1.62"/>
<circle cx="73.9" cy="164.0" r="1.62"/>
<circle cx="114.4" cy="158.7" r="1.62"/>
<circle cx="144.5" cy="163.4" r="1.62"/>
<circle cx="131.1" cy="161.3" r="1.62"/>
<circle cx="112.0" cy="162.0" r="1.62"/>
<circle cx="83.1" cy="167.4" r="1.62"/>
<circle cx="139.3" cy="155.7" r="1.62"/>
<circle cx="130.9" cy="170.1" r="1.62"/>
<circle cx="134.6" cy="170.8" r="1.62"/>
<circle cx="120.5" cy="164.3" r="1.62"/>
<circle cx="91.6" cy="159.8" r="1.62"/>
<circle cx="77.0" cy="159.8" r="1.62"/>
<circle cx="134.8" cy="166.9" r="1.62"/>
<circle cx="160.6" cy="165.0" r="1.62"/>
<circle cx="100.3" cy="166.5" r="1.62"/>
<circle cx="123.9" cy="173.2" r="1.62"/>
<circle cx="96.2" cy="161.7" r="1.62"/>
<circle cx="133.3" cy="160.7" r="1.62"/>
<circle cx="142.7" cy="167.7" r="1.62"/>
<circle cx="151.5" cy="165.4" r="1.62"/>
<circle cx="103.3" cy="160.1" r="1.62"/>
<circle cx="124.6" cy="170.9" r="1.62"/>
<circle cx="172.1" cy="169.2" r="1.62"/>
<circle cx="138.2" cy="167.7" r="1.62"/>
<circle cx="151.0" cy="170.8" r="1.62"/>
<circle cx="152.0" cy="156.6" r="1.62"/>
<circle cx="154.7" cy="166.2" r="1.62"/>
<circle cx="115.1" cy="166.9" r="1.62"/>
<circle cx="136.1" cy="164.0" r="1.62"/>
<circle cx="80.7" cy="164.9" r="1.62"/>
<circle cx="143.6" cy="164.1" r="1.62"/>
<circle cx="83.5" cy="166.6" r="1.62"/>
<circle cx="148.1" cy="165.2" r="1.62"/>
<circle cx="139.9" cy="162.5" r="1.62"/>
<circle cx="109.6" cy="166.9" r="1.62"/>
<circle cx="118.1" cy="165.2" r="1.62"/>
<circle cx="131.8" cy="156.2" r="1.62"/>
<circle cx="130.7" cy="168.1" r="1.62"/>
<circle cx="108.3" cy="163.1" r="1.62"/>
<circle cx="111.3" cy="167.7" r="1.62"/>
<circle cx="166.2" cy="163.5" r="1.62"/>
<circle cx="155.6" cy="165.6" r="1.62"/>
<circle cx="122.3" cy="162.9" r="1.62"/>
<circle cx="104.2" cy="170.7" r="1.62"/>
<circle cx="152.6" cy="159.3" r="1.62"/>
<circle cx="151.6" cy="160.7" r="1.62"/>
<circle cx="85.9" cy="170.3" r="1.62"/>
<circle cx="92.2" cy="170.2" r="1.62"/>
<circle cx="133.6" cy="168.8" r="1.62"/>
<circle cx="142.3" cy="170.1" r="1.62"/>
<circle cx="137.7" cy="167.2" r="1.62"/>
<circle cx="135.0" cy="169.8" r="1.62"/>
<circle cx="117.0" cy="169.4" r="1.62"/>
<circle cx="170.2" cy="164.0" r="1.62"/>
<circle cx="140.3" cy="161.7" r="1.62"/>
<circle cx="119.9" cy="165.6" r="1.62"/>
<circle cx="118.4" cy="159.9" r="1.62"/>
<circle cx="127.2" cy="165.3" r="1.62"/>
<circle cx="137.0" cy="167.9" r="1.62"/>
<circle cx="78.3" cy="171.4" r="1.62"/>
<circle cx="123.2" cy="160.4" r="1.62"/>
<circle cx="117.6" cy="166.5" r="1.62"/>
<circle cx="152.4" cy="162.5" r="1.62"/>
<circle cx="132.4" cy="156.3" r="1.62"/>
<circle cx="132.7" cy="163.7" r="1.62"/>
<circle cx="115.9" cy="168.7" r="1.62"/>
<circle cx="106.1" cy="171.9" r="1.62"/>
<circle cx="118.7" cy="164.1" r="1.62"/>
<circle cx="111.8" cy="166.6" r="1.62"/>
<circle cx="143.5" cy="165.0" r="1.62"/>
<circle cx="122.1" cy="163.6" r="1.62"/>
<circle cx="116.8" cy="169.2" r="1.62"/>
<circle cx="113.4" cy="163.6" r="1.62"/>
<circle cx="122.1" cy="160.6" r="1.62"/>
<circle cx="121.6" cy="157.0" r="1.62"/>
<circle cx="139.4" cy="167.0" r="1.62"/>
<circle cx="119.6" cy="172.1" r="1.62"/>
<circle cx="105.1" cy="167.1" r="1.62"/>
<circle cx="141.3" cy="161.6" r="1.62"/>
<circle cx="121.3" cy="168.7" r="1.62"/>
<circle cx="129.7" cy="165.7" r="1.62"/>
<circle cx="167.0" cy="165.4" r="1.62"/>
<circle cx="81.4" cy="160.6" r="1.62"/>
<circle cx="151.3" cy="163.7" r="1.62"/>
<circle cx="97.9" cy="154.5" r="1.62"/>
<circle cx="137.0" cy="171.8" r="1.62"/>
<circle cx="93.1" cy="153.5" r="1.62"/>
<circle cx="141.9" cy="161.6" r="1.62"/>
<circle cx="119.8" cy="162.7" r="1.62"/>
<circle cx="102.9" cy="166.5" r="1.62"/>
<circle cx="153.6" cy="166.1" r="1.62"/>
<circle cx="112.5" cy="169.5" r="1.62"/>
<circle cx="124.9" cy="167.2" r="1.62"/>
<circle cx="102.0" cy="167.6" r="1.62"/>
<circle cx="148.7" cy="170.7" r="1.62"/>
<circle cx="128.8" cy="166.5" r="1.62"/>
<circle cx="112.0" cy="168.7" r="1.62"/>
<circle cx="149.6" cy="169.7" r="1.62"/>
<circle cx="117.3" cy="158.2" r="1.62"/>
<circle cx="126.1" cy="163.3" r="1.62"/>
<circle cx="107.3" cy="167.3" r="1.62"/>
<circle cx="154.3" cy="166.3" r="1.62"/>
<circle cx="158.8" cy="166.3" r="1.62"/>
<circle cx="101.0" cy="161.4" r="1.62"/>
<circle cx="118.2" cy="167.7" r="1.62"/>
<circle cx="153.6" cy="165.0" r="1.62"/>
<circle cx="156.1" cy="160.2" r="1.62"/>
<circle cx="124.9" cy="171.7" r="1.62"/>
<circle cx="140.3" cy="169.5" r="1.62"/>
<circle cx="75.8" cy="156.1" r="1.62"/>
<circle cx="104.2" cy="169.3" r="1.62"/>
<circle cx="173.0" cy="161.3" r="1.62"/>
<circle cx="100.8" cy="159.3" r="1.62"/>
<circle cx="103.4" cy="167.1" r="1.62"/>
<circle cx="119.4" cy="173.6" r="1.62"/>
<circle cx="148.0" cy="160.9" r="1.62"/>
<circle cx="134.6" cy="163.6" r="1.62"/>
<circle cx="149.9" cy="168.8" r="1.62"/>
<circle cx="118.5" cy="168.7" r="1.62"/>
<circle cx="143.8" cy="163.9" r="1.62"/>
<circle cx="135.1" cy="167.7" r="1.62"/>
<circle cx="119.3" cy="161.0" r="1.62"/>
<circle cx="163.1" cy="164.3" r="1.62"/>
<circle cx="111.7" cy="166.6" r="1.62"/>
<circle cx="87.5" cy="164.6" r="1.62"/>
<circle cx="90.6" cy="162.2" r="1.62"/>
<circle cx="64.0" cy="133.8" r="1.62"/>
<circle cx="66.3" cy="133.8" r="1.62"/>
<circle cx="68.6" cy="133.9" r="1.62"/>
<circle cx="70.9" cy="134.0" r="1.62"/>
<circle cx="73.2" cy="133.8" r="1.62"/>
<circle cx="75.5" cy="134.0" r="1.62"/>
<circle cx="77.8" cy="133.4" r="1.62"/>
<circle cx="80.1" cy="133.7" r="1.62"/>
<circle cx="82.4" cy="134.0" r="1.62"/>
<circle cx="84.7" cy="133.8" r="1.62"/>
<circle cx="87.0" cy="133.9" r="1.62"/>
<circle cx="89.3" cy="133.5" r="1.62"/>
<circle cx="91.6" cy="133.7" r="1.62"/>
<circle cx="93.9" cy="133.5" r="1.62"/>
<circle cx="96.2" cy="133.7" r="1.62"/>
<circle cx="98.5" cy="133.7" r="1.62"/>
<circle cx="100.8" cy="133.4" r="1.62"/>
<circle cx="103.1" cy="133.5" r="1.62"/>
<circle cx="105.4" cy="133.6" r="1.62"/>
<circle cx="107.7" cy="133.9" r="1.62"/>
<circle cx="110.0" cy="133.9" r="1.62"/>
<circle cx="112.3" cy="133.5" r="1.62"/>
<circle cx="114.6" cy="133.9" r="1.62"/>
<circle cx="116.9" cy="133.5" r="1.62"/>
<circle cx="119.2" cy="133.8" r="1.62"/>
<circle cx="121.5" cy="133.5" r="1.62"/>
<circle cx="123.8" cy="133.4" r="1.62"/>
<circle cx="126.1" cy="133.9" r="1.62"/>
<circle cx="128.4" cy="133.5" r="1.62"/>
<circle cx="130.7" cy="133.5" r="1.62"/>
<circle cx="133.0" cy="134.0" r="1.62"/>
<circle cx="135.3" cy="133.9" r="1.62"/>
<circle cx="137.6" cy="133.6" r="1.62"/>
<circle cx="139.9" cy="134.0" r="1.62"/>
<circle cx="142.2" cy="133.7" r="1.62"/>
<circle cx="144.5" cy="133.8" r="1.62"/>
<circle cx="146.8" cy="133.5" r="1.62"/>
<circle cx="149.1" cy="134.0" r="1.62"/>
<circle cx="151.4" cy="133.8" r="1.62"/>
<circle cx="153.7" cy="134.0" r="1.62"/>
<circle cx="156.0" cy="133.9" r="1.62"/>
<circle cx="158.3" cy="133.6" r="1.62"/>
<circle cx="160.6" cy="133.6" r="1.62"/>
<circle cx="162.9" cy="133.5" r="1.62"/>
<circle cx="165.2" cy="133.5" r="1.62"/>
<circle cx="167.5" cy="133.4" r="1.62"/>
<circle cx="169.8" cy="133.6" r="1.62"/>
<circle cx="172.1" cy="133.8" r="1.62"/>
<circle cx="174.4" cy="133.4" r="1.62"/>
<circle cx="176.7" cy="133.8" r="1.62"/>
<circle cx="179.0" cy="133.6" r="1.62"/>
<circle cx="181.3" cy="133.6" r="1.62"/>
<circle cx="183.6" cy="133.9" r="1.62"/>
<circle cx="185.9" cy="133.7" r="1.62"/>
<circle cx="188.2" cy="133.6" r="1.62"/>
<circle cx="190.5" cy="133.7" r="1.62"/>
<circle cx="192.8" cy="133.8" r="1.62"/>
<circle cx="195.1" cy="133.4" r="1.62"/>
<circle cx="197.4" cy="134.0" r="1.62"/>
<circle cx="199.7" cy="133.4" r="1.62"/>
<circle cx="202.0" cy="133.8" r="1.62"/>
<circle cx="204.3" cy="133.9" r="1.62"/>
<circle cx="206.6" cy="133.4" r="1.62"/>
<circle cx="208.9" cy="133.9" r="1.62"/>
<circle cx="211.2" cy="133.6" r="1.62"/>
<circle cx="213.5" cy="133.7" r="1.62"/>
<circle cx="215.8" cy="133.4" r="1.62"/>
<circle cx="218.1" cy="133.4" r="1.62"/>
<circle cx="220.4" cy="133.5" r="1.62"/>
<circle cx="222.7" cy="134.0" r="1.62"/>
<circle cx="225.0" cy="133.5" r="1.62"/>
<circle cx="227.3" cy="133.9" r="1.62"/>
<circle cx="229.6" cy="134.0" r="1.62"/>
<circle cx="231.9" cy="134.0" r="1.62"/>
<circle cx="234.2" cy="133.6" r="1.62"/>
<circle cx="236.5" cy="133.6" r="1.62"/>
<circle cx="238.8" cy="133.7" r="1.62"/>
<circle cx="241.1" cy="133.9" r="1.62"/>
<circle cx="243.4" cy="133.5" r="1.62"/>
<circle cx="245.7" cy="133.8" r="1.62"/>
<circle cx="248.0" cy="133.9" r="1.62"/>
<circle cx="250.3" cy="133.9" r="1.62"/>
<circle cx="252.6" cy="133.4" r="1.62"/>
<circle cx="254.9" cy="134.0" r="1.62"/>
<circle cx="257.2" cy="133.5" r="1.62"/>
<circle cx="42.4" cy="133.7" r="1.62"/>
<circle cx="49.6" cy="133.7" r="1.62"/>
<circle cx="52.2" cy="133.7" r="1.62"/>
<circle cx="56.6" cy="133.7" r="1.62"/>
<circle cx="59.5" cy="133.7" r="1.62"/>
</g>
<g fill="#00f994">
<circle cx="104.6" cy="89.9" r="1.62"/>
<circle cx="104.6" cy="105.6" r="1.62"/>
<circle cx="81.5" cy="128.1" r="1.62"/>
<circle cx="97.9" cy="124.2" r="1.62"/>
<circle cx="100.3" cy="127.6" r="1.62"/>
<circle cx="108.7" cy="119.5" r="1.62"/>
<circle cx="127.9" cy="66.6" r="1.62"/>
<circle cx="156.8" cy="70.0" r="1.62"/>
<circle cx="167.1" cy="68.9" r="1.62"/>
<circle cx="187.5" cy="74.8" r="1.62"/>
<circle cx="153.8" cy="82.5" r="1.62"/>
<circle cx="154.1" cy="85.4" r="1.62"/>
<circle cx="156.8" cy="86.6" r="1.62"/>
<circle cx="157.1" cy="89.5" r="1.62"/>
<circle cx="156.8" cy="92.0" r="1.62"/>
<circle cx="154.1" cy="93.5" r="1.62"/>
<circle cx="162.2" cy="92.0" r="1.62"/>
<circle cx="167.1" cy="91.0" r="1.62"/>
<circle cx="179.1" cy="92.0" r="1.62"/>
<circle cx="120.3" cy="89.5" r="1.62"/>
<circle cx="149.4" cy="95.0" r="1.62"/>
<circle cx="187.2" cy="94.5" r="1.62"/>
<circle cx="210.3" cy="59.7" r="1.62"/>
<circle cx="250.6" cy="62.6" r="1.62"/>
<circle cx="191.2" cy="67.5" r="1.62"/>
<circle cx="206.5" cy="85.4" r="1.62"/>
<circle cx="227.9" cy="84.2" r="1.62"/>
<circle cx="217.5" cy="87.6" r="1.62"/>
<circle cx="213.5" cy="28.1" r="1.62"/>
<circle cx="220.9" cy="43.9" r="1.62"/>
<circle cx="149.4" cy="102.2" r="1.62"/>
<circle cx="156.8" cy="96.7" r="1.62"/>
<circle cx="156.8" cy="101.9" r="1.62"/>
<circle cx="160.7" cy="99.7" r="1.62"/>
<circle cx="164.7" cy="101.9" r="1.62"/>
<circle cx="159.3" cy="105.6" r="1.62"/>
<circle cx="167.6" cy="108.9" r="1.62"/>
<circle cx="171.8" cy="109.5" r="1.62"/>
<circle cx="175.4" cy="105.6" r="1.62"/>
<circle cx="179.4" cy="104.1" r="1.62"/>
<circle cx="182.1" cy="106.0" r="1.62"/>
<circle cx="174.7" cy="110.0" r="1.62"/>
<circle cx="171.5" cy="112.5" r="1.62"/>
<circle cx="176.2" cy="115.1" r="1.62"/>
<circle cx="179.4" cy="114.8" r="1.62"/>
<circle cx="128.7" cy="110.4" r="1.62"/>
<circle cx="150.0" cy="110.0" r="1.62"/>
<circle cx="154.1" cy="110.7" r="1.62"/>
<circle cx="125.9" cy="118.4" r="1.62"/>
<circle cx="129.4" cy="118.8" r="1.62"/>
<circle cx="136.5" cy="119.5" r="1.62"/>
<circle cx="135.0" cy="122.5" r="1.62"/>
<circle cx="140.1" cy="121.7" r="1.62"/>
<circle cx="148.5" cy="119.5" r="1.62"/>
<circle cx="149.7" cy="115.9" r="1.62"/>
<circle cx="153.4" cy="122.5" r="1.62"/>
<circle cx="154.1" cy="125.4" r="1.62"/>
<circle cx="160.0" cy="121.7" r="1.62"/>
<circle cx="136.5" cy="127.6" r="1.62"/>
<circle cx="140.9" cy="129.5" r="1.62"/>
<circle cx="146.8" cy="130.6" r="1.62"/>
<circle cx="187.9" cy="115.1" r="1.62"/>
<circle cx="187.9" cy="121.7" r="1.62"/>
<circle cx="156.8" cy="106.3" r="1.62"/>
<circle cx="156.8" cy="109.2" r="1.62"/>
<circle cx="156.8" cy="111.4" r="1.62"/>
<circle cx="156.8" cy="113.6" r="1.62"/>
<circle cx="156.8" cy="115.9" r="1.62"/>
<circle cx="156.8" cy="118.1" r="1.62"/>
<circle cx="156.8" cy="120.3" r="1.62"/>
<circle cx="156.8" cy="122.5" r="1.62"/>
<circle cx="156.8" cy="124.7" r="1.62"/>
<circle cx="156.8" cy="126.9" r="1.62"/>
<circle cx="156.8" cy="129.1" r="1.62"/>
<circle cx="156.8" cy="131.3" r="1.62"/>
<circle cx="154.9" cy="127.6" r="1.62"/>
<circle cx="158.5" cy="129.8" r="1.62"/>
<circle cx="210.3" cy="100.7" r="1.62"/>
<circle cx="210.3" cy="115.4" r="1.62"/>
<circle cx="206.5" cy="118.4" r="1.62"/>
<circle cx="227.9" cy="115.9" r="1.62"/>
<circle cx="195.6" cy="131.3" r="1.62"/>
<circle cx="42.5" cy="141.6" r="1.62"/>
<circle cx="49.6" cy="141.1" r="1.62"/>
<circle cx="62.6" cy="148.1" r="1.62"/>
<circle cx="93.2" cy="138.2" r="1.62"/>
<circle cx="104.6" cy="146.6" r="1.62"/>
<circle cx="81.5" cy="152.2" r="1.62"/>
<circle cx="42.5" cy="159.2" r="1.62"/>
<circle cx="87.6" cy="163.2" r="1.62"/>
<circle cx="93.2" cy="162.5" r="1.62"/>
<circle cx="81.5" cy="167.6" r="1.62"/>
<circle cx="81.5" cy="170.1" r="1.62"/>
<circle cx="101.3" cy="165.1" r="1.62"/>
<circle cx="109.4" cy="151.9" r="1.62"/>
<circle cx="115.1" cy="150.7" r="1.62"/>
<circle cx="120.3" cy="151.4" r="1.62"/>
<circle cx="112.9" cy="155.1" r="1.62"/>
<circle cx="120.3" cy="158.8" r="1.62"/>
<circle cx="112.9" cy="162.5" r="1.62"/>
<circle cx="116.6" cy="163.9" r="1.62"/>
<circle cx="124.7" cy="158.1" r="1.62"/>
<circle cx="132.1" cy="158.8" r="1.62"/>
<circle cx="129.1" cy="162.5" r="1.62"/>
<circle cx="124.0" cy="165.4" r="1.62"/>
<circle cx="130.6" cy="167.6" r="1.62"/>
<circle cx="136.5" cy="163.9" r="1.62"/>
<circle cx="140.9" cy="158.1" r="1.62"/>
<circle cx="145.3" cy="159.5" r="1.62"/>
<circle cx="143.8" cy="163.2" r="1.62"/>
<circle cx="139.4" cy="169.1" r="1.62"/>
<circle cx="112.9" cy="171.3" r="1.62"/>
<circle cx="149.7" cy="167.6" r="1.62"/>
<circle cx="147.5" cy="170.6" r="1.62"/>
<circle cx="124.7" cy="138.9" r="1.62"/>
<circle cx="126.2" cy="141.6" r="1.62"/>
<circle cx="131.3" cy="143.4" r="1.62"/>
<circle cx="135.3" cy="138.2" r="1.62"/>
<circle cx="179.1" cy="158.8" r="1.62"/>
<circle cx="168.1" cy="142.6" r="1.62"/>
<circle cx="171.8" cy="143.4" r="1.62"/>
<circle cx="166.6" cy="149.2" r="1.62"/>
<circle cx="164.4" cy="155.1" r="1.62"/>
<circle cx="174.7" cy="137.5" r="1.62"/>
<circle cx="191.5" cy="137.8" r="1.62"/>
<circle cx="195.6" cy="151.0" r="1.62"/>
<circle cx="199.1" cy="151.0" r="1.62"/>
<circle cx="217.5" cy="155.9" r="1.62"/>
<circle cx="210.3" cy="159.8" r="1.62"/>
<circle cx="241.0" cy="147.5" r="1.62"/>
<circle cx="260.1" cy="143.4" r="1.62"/>
<circle cx="260.1" cy="147.0" r="1.62"/>
<circle cx="191.5" cy="167.6" r="1.62"/>
<circle cx="191.5" cy="172.8" r="1.62"/>
<circle cx="206.5" cy="174.5" r="1.62"/>
<circle cx="42.5" cy="188.5" r="1.62"/>
<circle cx="93.2" cy="182.6" r="1.62"/>
<circle cx="115.1" cy="179.2" r="1.62"/>
<circle cx="145.3" cy="176.7" r="1.62"/>
<circle cx="156.8" cy="177.5" r="1.62"/>
<circle cx="156.8" cy="179.7" r="1.62"/>
<circle cx="157.1" cy="181.1" r="1.62"/>
<circle cx="149.4" cy="184.5" r="1.62"/>
<circle cx="156.8" cy="186.6" r="1.62"/>
<circle cx="156.8" cy="191.4" r="1.62"/>
<circle cx="171.5" cy="183.1" r="1.62"/>
<circle cx="179.1" cy="186.0" r="1.62"/>
<circle cx="175.4" cy="194.8" r="1.62"/>
<circle cx="125.4" cy="199.8" r="1.62"/>
<circle cx="156.8" cy="198.1" r="1.62"/>
<circle cx="115.1" cy="205.1" r="1.62"/>
<circle cx="156.8" cy="207.2" r="1.62"/>
<circle cx="156.8" cy="213.9" r="1.62"/>
<circle cx="175.4" cy="210.6" r="1.62"/>
<circle cx="162.9" cy="176.7" r="1.62"/>
<circle cx="202.9" cy="195.9" r="1.62"/>
<circle cx="195.6" cy="198.4" r="1.62"/>
<circle cx="224.6" cy="210.1" r="1.62"/>
<circle cx="250.6" cy="210.6" r="1.62"/>
<circle cx="260.1" cy="215.7" r="1.62"/>
<circle cx="42.5" cy="233.2" r="1.62"/>
<circle cx="153.8" cy="220.6" r="1.62"/>
<circle cx="140.1" cy="225.9" r="1.62"/>
<circle cx="125.4" cy="231.3" r="1.62"/>
<circle cx="120.3" cy="233.2" r="1.62"/>
<circle cx="144.6" cy="233.2" r="1.62"/>
<circle cx="175.4" cy="233.2" r="1.62"/>
<circle cx="191.5" cy="222.9" r="1.62"/>
<circle cx="199.1" cy="233.2" r="1.62"/>
<circle cx="140.5" cy="169.2" r="1.62"/>
<circle cx="116.6" cy="169.4" r="1.62"/>
<circle cx="146.8" cy="164.8" r="1.62"/>
<circle cx="126.5" cy="158.3" r="1.62"/>
<circle cx="109.7" cy="169.5" r="1.62"/>
<circle cx="118.5" cy="166.2" r="1.62"/>
<circle cx="119.3" cy="167.7" r="1.62"/>
<circle cx="134.2" cy="160.8" r="1.62"/>
<circle cx="115.7" cy="166.4" r="1.62"/>
<circle cx="111.0" cy="160.0" r="1.62"/>
<circle cx="132.6" cy="168.1" r="1.62"/>
<circle cx="135.0" cy="160.6" r="1.62"/>
<circle cx="148.4" cy="159.7" r="1.62"/>
<circle cx="108.7" cy="160.5" r="1.62"/>
<circle cx="127.6" cy="157.8" r="1.62"/>
<circle cx="115.8" cy="161.8" r="1.62"/>
<circle cx="157.9" cy="111.8" r="1.62"/>
<circle cx="149.5" cy="127.7" r="1.62"/>
<circle cx="174.2" cy="122.8" r="1.62"/>
<circle cx="162.6" cy="121.3" r="1.62"/>
<circle cx="140.6" cy="109.7" r="1.62"/>
<circle cx="135.7" cy="128.1" r="1.62"/>
<circle cx="163.0" cy="129.2" r="1.62"/>
<circle cx="135.9" cy="122.4" r="1.62"/>
<circle cx="154.3" cy="124.3" r="1.62"/>
<circle cx="147.8" cy="130.0" r="1.62"/>
<circle cx="138.0" cy="120.5" r="1.62"/>
<circle cx="164.5" cy="127.9" r="1.62"/>
<circle cx="164.5" cy="123.8" r="1.62"/>
<circle cx="166.7" cy="128.2" r="1.62"/>
<circle cx="156.3" cy="122.6" r="1.62"/>
<circle cx="158.2" cy="128.7" r="1.62"/>
<circle cx="156.5" cy="126.1" r="1.62"/>
<circle cx="158.1" cy="118.9" r="1.62"/>
<circle cx="157.2" cy="112.6" r="1.62"/>
<circle cx="157.1" cy="120.1" r="1.62"/>
<circle cx="155.3" cy="121.1" r="1.62"/>
<circle cx="158.6" cy="129.0" r="1.62"/>
<circle cx="157.6" cy="112.8" r="1.62"/>
<circle cx="157.6" cy="119.2" r="1.62"/>
<circle cx="156.6" cy="127.7" r="1.62"/>
<circle cx="155.3" cy="124.8" r="1.62"/>
<circle cx="155.1" cy="119.8" r="1.62"/>
<circle cx="156.7" cy="107.6" r="1.62"/>
<circle cx="157.5" cy="116.4" r="1.62"/>
<circle cx="157.2" cy="130.4" r="1.62"/>
<circle cx="155.9" cy="100.4" r="1.62"/>
<circle cx="156.1" cy="122.4" r="1.62"/>
<circle cx="154.9" cy="143.6" r="1.62"/>
<circle cx="159.4" cy="162.7" r="1.62"/>
<circle cx="156.4" cy="171.8" r="1.62"/>
<circle cx="155.7" cy="163.0" r="1.62"/>
<circle cx="154.9" cy="153.8" r="1.62"/>
<circle cx="158.8" cy="172.7" r="1.62"/>
<circle cx="159.2" cy="152.0" r="1.62"/>
<circle cx="157.3" cy="149.3" r="1.62"/>
<circle cx="154.5" cy="156.4" r="1.62"/>
<circle cx="159.0" cy="170.1" r="1.62"/>
<circle cx="158.2" cy="174.1" r="1.62"/>
<circle cx="155.4" cy="143.6" r="1.62"/>
<circle cx="156.5" cy="147.7" r="1.62"/>
<circle cx="155.0" cy="153.1" r="1.62"/>
<circle cx="157.6" cy="156.3" r="1.62"/>
<circle cx="155.6" cy="169.7" r="1.62"/>
<circle cx="159.9" cy="154.6" r="1.62"/>
<circle cx="154.1" cy="138.2" r="1.62"/>
<circle cx="159.2" cy="138.6" r="1.62"/>
<circle cx="158.1" cy="159.3" r="1.62"/>
<circle cx="155.6" cy="167.9" r="1.62"/>
<circle cx="153.7" cy="142.3" r="1.62"/>
<circle cx="156.5" cy="138.0" r="1.62"/>
<circle cx="158.9" cy="146.3" r="1.62"/>
<circle cx="154.5" cy="138.8" r="1.62"/>
<circle cx="157.6" cy="154.4" r="1.62"/>
<circle cx="157.6" cy="162.5" r="1.62"/>
<circle cx="158.8" cy="174.4" r="1.62"/>
<circle cx="158.0" cy="144.8" r="1.62"/>
<circle cx="156.6" cy="144.0" r="1.62"/>
<circle cx="153.7" cy="155.4" r="1.62"/>
<circle cx="158.2" cy="144.0" r="1.62"/>
<circle cx="155.3" cy="150.5" r="1.62"/>
<circle cx="158.1" cy="157.3" r="1.62"/>
<circle cx="157.5" cy="166.5" r="1.62"/>
<circle cx="156.1" cy="167.9" r="1.62"/>
<circle cx="159.4" cy="140.4" r="1.62"/>
<circle cx="159.6" cy="165.2" r="1.62"/>
<circle cx="154.4" cy="154.7" r="1.62"/>
<circle cx="157.6" cy="172.5" r="1.62"/>
<circle cx="156.0" cy="159.2" r="1.62"/>
<circle cx="159.2" cy="168.1" r="1.62"/>
<circle cx="159.6" cy="155.1" r="1.62"/>
<circle cx="157.8" cy="145.0" r="1.62"/>
<circle cx="158.2" cy="168.9" r="1.62"/>
<circle cx="157.7" cy="165.0" r="1.62"/>
<circle cx="155.0" cy="172.1" r="1.62"/>
<circle cx="159.9" cy="175.1" r="1.62"/>
<circle cx="157.0" cy="167.8" r="1.62"/>
<circle cx="155.7" cy="172.5" r="1.62"/>
<circle cx="159.1" cy="150.6" r="1.62"/>
<circle cx="154.1" cy="154.2" r="1.62"/>
<circle cx="157.1" cy="167.0" r="1.62"/>
<circle cx="156.7" cy="138.1" r="1.62"/>
<circle cx="158.8" cy="139.5" r="1.62"/>
<circle cx="158.7" cy="143.7" r="1.62"/>
<circle cx="155.7" cy="167.7" r="1.62"/>
<circle cx="154.5" cy="142.8" r="1.62"/>
<circle cx="156.9" cy="165.2" r="1.62"/>
<circle cx="159.0" cy="163.9" r="1.62"/>
<circle cx="153.2" cy="147.4" r="1.62"/>
<circle cx="153.2" cy="140.5" r="1.62"/>
<circle cx="142.3" cy="148.0" r="1.62"/>
<circle cx="143.4" cy="151.4" r="1.62"/>
<circle cx="148.6" cy="147.9" r="1.62"/>
<circle cx="151.7" cy="148.5" r="1.62"/>
<circle cx="143.7" cy="145.5" r="1.62"/>
<circle cx="151.7" cy="154.3" r="1.62"/>
<circle cx="142.1" cy="153.5" r="1.62"/>
<circle cx="153.5" cy="147.9" r="1.62"/>
<circle cx="147.6" cy="142.4" r="1.62"/>
<circle cx="147.0" cy="147.6" r="1.62"/>
<circle cx="148.1" cy="139.5" r="1.62"/>
<circle cx="153.5" cy="147.8" r="1.62"/>
<circle cx="145.0" cy="152.6" r="1.62"/>
<circle cx="147.4" cy="147.3" r="1.62"/>
<circle cx="149.4" cy="140.1" r="1.62"/>
<circle cx="147.1" cy="146.0" r="1.62"/>
<circle cx="153.4" cy="154.7" r="1.62"/>
<circle cx="143.0" cy="147.0" r="1.62"/>
<circle cx="140.9" cy="146.4" r="1.62"/>
<circle cx="151.2" cy="154.3" r="1.62"/>
<circle cx="146.1" cy="144.4" r="1.62"/>
<circle cx="141.9" cy="149.5" r="1.62"/>
<circle cx="42.4" cy="133.7" r="1.62"/>
<circle cx="51.0" cy="133.7" r="1.62"/>
<circle cx="62.7" cy="133.7" r="1.62"/>
<circle cx="75.4" cy="133.7" r="1.62"/>
<circle cx="82.0" cy="133.7" r="1.62"/>
<circle cx="87.6" cy="133.7" r="1.62"/>
<circle cx="93.5" cy="133.7" r="1.62"/>
<circle cx="99.5" cy="133.7" r="1.62"/>
<circle cx="104.5" cy="133.7" r="1.62"/>
<circle cx="110.0" cy="133.7" r="1.62"/>
<circle cx="116.0" cy="133.7" r="1.62"/>
<circle cx="121.0" cy="133.7" r="1.62"/>
<circle cx="126.0" cy="133.7" r="1.62"/>
<circle cx="131.0" cy="133.7" r="1.62"/>
<circle cx="136.0" cy="133.7" r="1.62"/>
<circle cx="140.0" cy="133.7" r="1.62"/>
<circle cx="144.0" cy="133.7" r="1.62"/>
<circle cx="148.0" cy="133.7" r="1.62"/>
<circle cx="151.0" cy="133.7" r="1.62"/>
<circle cx="153.5" cy="133.7" r="1.62"/>
<circle cx="156.0" cy="133.8" r="1.62"/>
<circle cx="161.2" cy="134.0" r="1.62"/>
<circle cx="163.8" cy="133.6" r="1.62"/>
<circle cx="166.4" cy="133.5" r="1.62"/>
<circle cx="169.0" cy="133.5" r="1.62"/>
<circle cx="171.6" cy="134.0" r="1.62"/>
<circle cx="174.2" cy="133.4" r="1.62"/>
<circle cx="179.4" cy="133.6" r="1.62"/>
<circle cx="182.0" cy="133.8" r="1.62"/>
<circle cx="187.2" cy="133.7" r="1.62"/>
<circle cx="189.8" cy="133.9" r="1.62"/>
<circle cx="192.4" cy="133.7" r="1.62"/>
<circle cx="197.6" cy="133.8" r="1.62"/>
<circle cx="202.8" cy="133.9" r="1.62"/>
<circle cx="205.4" cy="133.7" r="1.62"/>
<circle cx="208.0" cy="133.9" r="1.62"/>
<circle cx="210.6" cy="133.7" r="1.62"/>
<circle cx="221.0" cy="133.7" r="1.62"/>
<circle cx="223.6" cy="133.7" r="1.62"/>
<circle cx="226.2" cy="133.6" r="1.62"/>
<circle cx="228.8" cy="133.6" r="1.62"/>
<circle cx="236.6" cy="133.7" r="1.62"/>
<circle cx="239.2" cy="133.5" r="1.62"/>
<circle cx="241.8" cy="133.9" r="1.62"/>
<circle cx="247.0" cy="133.9" r="1.62"/>
<circle cx="249.6" cy="133.8" r="1.62"/>
<circle cx="252.2" cy="133.9" r="1.62"/>
<circle cx="254.8" cy="133.8" r="1.62"/>
<circle cx="257.4" cy="133.7" r="1.62"/>
<circle cx="260.0" cy="133.8" r="1.62"/>
<circle cx="259.2" cy="133.7" r="1.62"/>
</g>
<rect x="31.4" y="17.9" width="240.3" height="225.8" fill="none" stroke="#2a2a2a" stroke-width="1"/>
<line x1="45.9" y1="243.7" x2="45.9" y2="246.7" stroke="#222" stroke-width="0.8"/>
<text transform="translate(45.9,255.4) scale(0.856,1)" text-anchor="middle" class="t">−4</text>
<line x1="73.2" y1="243.7" x2="73.2" y2="246.7" stroke="#222" stroke-width="0.8"/>
<text transform="translate(73.2,255.4) scale(0.856,1)" text-anchor="middle" class="t">−3</text>
<line x1="100.6" y1="243.7" x2="100.6" y2="246.7" stroke="#222" stroke-width="0.8"/>
<text transform="translate(100.6,255.4) scale(0.856,1)" text-anchor="middle" class="t">−2</text>
<line x1="128.0" y1="243.7" x2="128.0" y2="246.7" stroke="#222" stroke-width="0.8"/>
<text transform="translate(128.0,255.4) scale(0.856,1)" text-anchor="middle" class="t">−1</text>
<line x1="155.3" y1="243.7" x2="155.3" y2="246.7" stroke="#222" stroke-width="0.8"/>
<text transform="translate(155.3,255.4) scale(0.856,1)" text-anchor="middle" class="t">0</text>
<line x1="182.7" y1="243.7" x2="182.7" y2="246.7" stroke="#222" stroke-width="0.8"/>
<text transform="translate(182.7,255.4) scale(0.856,1)" text-anchor="middle" class="t">1</text>
<line x1="210.0" y1="243.7" x2="210.0" y2="246.7" stroke="#222" stroke-width="0.8"/>
<text transform="translate(210.0,255.4) scale(0.856,1)" text-anchor="middle" class="t">2</text>
<line x1="237.4" y1="243.7" x2="237.4" y2="246.7" stroke="#222" stroke-width="0.8"/>
<text transform="translate(237.4,255.4) scale(0.856,1)" text-anchor="middle" class="t">3</text>
<line x1="264.7" y1="243.7" x2="264.7" y2="246.7" stroke="#222" stroke-width="0.8"/>
<text transform="translate(264.7,255.4) scale(0.856,1)" text-anchor="middle" class="t">4</text>
<line x1="28.7" y1="225.1" x2="31.4" y2="225.1" stroke="#222" stroke-width="0.8"/>
<text transform="translate(26.5,228.3) scale(0.856,1)" text-anchor="end" class="t">−4</text>
<line x1="28.7" y1="179.7" x2="31.4" y2="179.7" stroke="#222" stroke-width="0.8"/>
<text transform="translate(26.5,182.9) scale(0.856,1)" text-anchor="end" class="t">−2</text>
<line x1="28.7" y1="134.4" x2="31.4" y2="134.4" stroke="#222" stroke-width="0.8"/>
<text transform="translate(26.5,137.6) scale(0.856,1)" text-anchor="end" class="t">0</text>
<line x1="28.7" y1="89.1" x2="31.4" y2="89.1" stroke="#222" stroke-width="0.8"/>
<text transform="translate(26.5,92.3) scale(0.856,1)" text-anchor="end" class="t">2</text>
<line x1="28.7" y1="43.7" x2="31.4" y2="43.7" stroke="#222" stroke-width="0.8"/>
<text transform="translate(26.5,46.9) scale(0.856,1)" text-anchor="end" class="t">4</text>
<text transform="translate(151.2,266.3) scale(0.856,1)" text-anchor="middle" class="t">HDL</text>
<text transform="translate(12.9,131.8) rotate(-90) scale(0.856,1)" text-anchor="middle" class="t">LDL</text>
<text transform="translate(151.2,13.6) scale(0.92,1)" text-anchor="middle" class="ti">Training Set Without Borderline-SMOTE</text>
<rect x="35.3" y="21.8" width="169.5" height="42.5" rx="2" ry="2" fill="#fff" stroke="#1a1a1a" stroke-width="0.95"/>
<circle cx="46.0" cy="30.1" r="1.65" fill="#fb820c"/>
<text transform="translate(60.7,32.2) scale(0.861,1)" class="l">Dementia (<tspan font-style="italic">n</tspan> = 2698, 25.96%)</text>
<circle cx="46.0" cy="43.8" r="1.65" fill="#1b5aec"/>
<text transform="translate(60.7,45.9) scale(0.861,1)" class="l">Heart Failure (<tspan font-style="italic">n</tspan> = 6201, 59.68%)</text>
<circle cx="46.0" cy="57.5" r="1.65" fill="#00f994"/>
<text transform="translate(60.7,59.5) scale(0.861,1)" class="l">Aortic Valve Disorder (<tspan font-style="italic">n</tspan> = 1492, 14.36%)</text>
<g fill="#fb820c">
<circle cx="335.5" cy="101.0" r="1.62"/>
<circle cx="425.5" cy="70.0" r="1.62"/>
<circle cx="424.8" cy="72.2" r="1.62"/>
<circle cx="427.0" cy="72.9" r="1.62"/>
<circle cx="431.4" cy="70.7" r="1.62"/>
<circle cx="432.9" cy="72.2" r="1.62"/>
<circle cx="430.6" cy="73.4" r="1.62"/>
<circle cx="428.4" cy="66.3" r="1.62"/>
<circle cx="417.4" cy="78.1" r="1.62"/>
<circle cx="422.3" cy="78.8" r="1.62"/>
<circle cx="426.2" cy="77.3" r="1.62"/>
<circle cx="418.1" cy="71.9" r="1.62"/>
<circle cx="459.3" cy="68.5" r="1.62"/>
<circle cx="456.4" cy="83.6" r="1.62"/>
<circle cx="403.1" cy="89.5" r="1.62"/>
<circle cx="424.8" cy="88.4" r="1.62"/>
<circle cx="448.3" cy="91.0" r="1.62"/>
<circle cx="460.4" cy="91.0" r="1.62"/>
<circle cx="492.3" cy="57.5" r="1.62"/>
<circle cx="490.8" cy="59.2" r="1.62"/>
<circle cx="493.7" cy="61.9" r="1.62"/>
<circle cx="490.8" cy="64.1" r="1.62"/>
<circle cx="501.1" cy="56.7" r="1.62"/>
<circle cx="504.0" cy="59.2" r="1.62"/>
<circle cx="500.4" cy="63.1" r="1.62"/>
<circle cx="509.6" cy="59.2" r="1.62"/>
<circle cx="511.4" cy="58.6" r="1.62"/>
<circle cx="511.1" cy="64.1" r="1.62"/>
<circle cx="517.3" cy="56.7" r="1.62"/>
<circle cx="519.5" cy="58.6" r="1.62"/>
<circle cx="523.4" cy="58.6" r="1.62"/>
<circle cx="527.3" cy="65.1" r="1.62"/>
<circle cx="530.5" cy="60.7" r="1.62"/>
<circle cx="519.5" cy="66.6" r="1.62"/>
<circle cx="520.2" cy="70.7" r="1.62"/>
<circle cx="524.3" cy="70.0" r="1.62"/>
<circle cx="477.3" cy="61.9" r="1.62"/>
<circle cx="479.0" cy="64.1" r="1.62"/>
<circle cx="472.4" cy="67.5" r="1.62"/>
<circle cx="477.3" cy="67.8" r="1.62"/>
<circle cx="480.8" cy="70.0" r="1.62"/>
<circle cx="481.2" cy="70.7" r="1.62"/>
<circle cx="480.5" cy="73.4" r="1.62"/>
<circle cx="484.6" cy="66.6" r="1.62"/>
<circle cx="490.1" cy="71.9" r="1.62"/>
<circle cx="492.3" cy="71.9" r="1.62"/>
<circle cx="507.3" cy="76.6" r="1.62"/>
<circle cx="526.1" cy="80.3" r="1.62"/>
<circle cx="532.7" cy="81.3" r="1.62"/>
<circle cx="469.0" cy="84.7" r="1.62"/>
<circle cx="497.0" cy="82.5" r="1.62"/>
<circle cx="493.7" cy="88.6" r="1.62"/>
<circle cx="488.1" cy="90.1" r="1.62"/>
<circle cx="520.2" cy="93.9" r="1.62"/>
<circle cx="533.0" cy="39.5" r="1.62"/>
<circle cx="501.1" cy="55.4" r="1.62"/>
<circle cx="518.0" cy="54.5" r="1.62"/>
<circle cx="439.9" cy="106.6" r="1.62"/>
<circle cx="443.4" cy="105.6" r="1.62"/>
<circle cx="449.8" cy="111.4" r="1.62"/>
<circle cx="433.6" cy="110.7" r="1.62"/>
<circle cx="447.6" cy="115.1" r="1.62"/>
<circle cx="460.1" cy="115.9" r="1.62"/>
<circle cx="426.2" cy="110.7" r="1.62"/>
<circle cx="478.3" cy="111.4" r="1.62"/>
<circle cx="481.2" cy="112.5" r="1.62"/>
<circle cx="472.4" cy="118.1" r="1.62"/>
<circle cx="466.1" cy="116.6" r="1.62"/>
<circle cx="476.1" cy="118.1" r="1.62"/>
<circle cx="474.3" cy="121.7" r="1.62"/>
<circle cx="477.6" cy="121.0" r="1.62"/>
<circle cx="479.0" cy="123.2" r="1.62"/>
<circle cx="480.5" cy="123.6" r="1.62"/>
<circle cx="477.6" cy="124.7" r="1.62"/>
<circle cx="482.0" cy="126.1" r="1.62"/>
<circle cx="483.1" cy="128.1" r="1.62"/>
<circle cx="470.2" cy="126.6" r="1.62"/>
<circle cx="495.5" cy="122.8" r="1.62"/>
<circle cx="500.8" cy="123.2" r="1.62"/>
<circle cx="500.8" cy="127.6" r="1.62"/>
<circle cx="497.0" cy="128.1" r="1.62"/>
<circle cx="522.1" cy="116.9" r="1.62"/>
<circle cx="533.0" cy="123.2" r="1.62"/>
<circle cx="360.5" cy="145.1" r="1.62"/>
<circle cx="366.1" cy="148.1" r="1.62"/>
<circle cx="372.0" cy="155.1" r="1.62"/>
<circle cx="372.0" cy="161.3" r="1.62"/>
<circle cx="377.9" cy="165.4" r="1.62"/>
<circle cx="420.4" cy="141.6" r="1.62"/>
<circle cx="415.9" cy="142.6" r="1.62"/>
<circle cx="404.9" cy="151.0" r="1.62"/>
<circle cx="427.0" cy="144.8" r="1.62"/>
<circle cx="433.6" cy="142.6" r="1.62"/>
<circle cx="435.1" cy="146.3" r="1.62"/>
<circle cx="439.5" cy="145.6" r="1.62"/>
<circle cx="443.1" cy="140.4" r="1.62"/>
<circle cx="451.2" cy="144.1" r="1.62"/>
<circle cx="420.8" cy="150.7" r="1.62"/>
<circle cx="415.9" cy="153.6" r="1.62"/>
<circle cx="419.6" cy="155.1" r="1.62"/>
<circle cx="424.8" cy="159.5" r="1.62"/>
<circle cx="441.7" cy="160.3" r="1.62"/>
<circle cx="443.1" cy="162.5" r="1.62"/>
<circle cx="422.6" cy="167.2" r="1.62"/>
<circle cx="459.3" cy="158.1" r="1.62"/>
<circle cx="460.8" cy="155.9" r="1.62"/>
<circle cx="458.6" cy="162.5" r="1.62"/>
<circle cx="452.7" cy="171.3" r="1.62"/>
<circle cx="436.5" cy="165.4" r="1.62"/>
<circle cx="473.4" cy="138.2" r="1.62"/>
<circle cx="489.3" cy="136.7" r="1.62"/>
<circle cx="474.3" cy="142.2" r="1.62"/>
<circle cx="478.3" cy="141.9" r="1.62"/>
<circle cx="482.4" cy="142.2" r="1.62"/>
<circle cx="466.5" cy="147.8" r="1.62"/>
<circle cx="470.2" cy="144.8" r="1.62"/>
<circle cx="476.4" cy="150.7" r="1.62"/>
<circle cx="477.3" cy="152.5" r="1.62"/>
<circle cx="503.3" cy="145.6" r="1.62"/>
<circle cx="513.9" cy="146.0" r="1.62"/>
<circle cx="494.9" cy="153.9" r="1.62"/>
<circle cx="467.3" cy="160.3" r="1.62"/>
<circle cx="476.4" cy="160.3" r="1.62"/>
<circle cx="479.8" cy="162.5" r="1.62"/>
<circle cx="486.7" cy="162.8" r="1.62"/>
<circle cx="493.4" cy="164.2" r="1.62"/>
<circle cx="497.4" cy="170.1" r="1.62"/>
<circle cx="469.5" cy="170.1" r="1.62"/>
<circle cx="468.4" cy="169.1" r="1.62"/>
<circle cx="470.2" cy="172.5" r="1.62"/>
<circle cx="480.2" cy="171.6" r="1.62"/>
<circle cx="513.9" cy="174.5" r="1.62"/>
<circle cx="465.8" cy="167.6" r="1.62"/>
<circle cx="315.4" cy="186.0" r="1.62"/>
<circle cx="398.3" cy="177.5" r="1.62"/>
<circle cx="422.3" cy="178.9" r="1.62"/>
<circle cx="415.9" cy="183.1" r="1.62"/>
<circle cx="447.6" cy="182.6" r="1.62"/>
<circle cx="410.1" cy="200.3" r="1.62"/>
<circle cx="404.9" cy="202.5" r="1.62"/>
<circle cx="431.1" cy="195.9" r="1.62"/>
<circle cx="429.6" cy="204.7" r="1.62"/>
<circle cx="417.4" cy="209.8" r="1.62"/>
<circle cx="439.5" cy="212.8" r="1.62"/>
<circle cx="454.2" cy="210.1" r="1.62"/>
<circle cx="457.9" cy="204.2" r="1.62"/>
<circle cx="459.3" cy="198.1" r="1.62"/>
<circle cx="462.3" cy="203.2" r="1.62"/>
<circle cx="452.7" cy="207.2" r="1.62"/>
<circle cx="474.3" cy="177.8" r="1.62"/>
<circle cx="472.0" cy="183.1" r="1.62"/>
<circle cx="504.0" cy="186.6" r="1.62"/>
<circle cx="467.3" cy="193.6" r="1.62"/>
<circle cx="469.5" cy="193.4" r="1.62"/>
<circle cx="465.1" cy="197.3" r="1.62"/>
<circle cx="493.7" cy="205.4" r="1.62"/>
<circle cx="479.3" cy="208.1" r="1.62"/>
<circle cx="354.3" cy="221.5" r="1.62"/>
<circle cx="432.1" cy="210.0" r="1.62"/>
<circle cx="419.6" cy="217.1" r="1.62"/>
<circle cx="403.4" cy="233.2" r="1.62"/>
<circle cx="408.1" cy="233.2" r="1.62"/>
<circle cx="447.9" cy="134.5" r="1.62"/>
<circle cx="488.9" cy="134.5" r="1.62"/>
<circle cx="500.9" cy="134.5" r="1.62"/>
<circle cx="518.9" cy="134.5" r="1.62"/>
<circle cx="417.6" cy="67.0" r="1.62"/>
<circle cx="419.8" cy="68.5" r="1.62"/>
<circle cx="422.0" cy="70.0" r="1.62"/>
<circle cx="424.2" cy="70.7" r="1.62"/>
<circle cx="426.4" cy="70.0" r="1.62"/>
<circle cx="422.7" cy="72.2" r="1.62"/>
<circle cx="424.9" cy="74.4" r="1.62"/>
<circle cx="420.5" cy="73.6" r="1.62"/>
<circle cx="418.3" cy="75.1" r="1.62"/>
<circle cx="427.1" cy="75.1" r="1.62"/>
<circle cx="422.0" cy="77.3" r="1.62"/>
<circle cx="425.6" cy="78.1" r="1.62"/>
<circle cx="428.6" cy="79.5" r="1.62"/>
<circle cx="427.1" cy="81.7" r="1.62"/>
<circle cx="430.1" cy="83.2" r="1.62"/>
<circle cx="431.5" cy="70.7" r="1.62"/>
<circle cx="433.7" cy="70.0" r="1.62"/>
<circle cx="435.2" cy="67.8" r="1.62"/>
<circle cx="414.6" cy="79.5" r="1.62"/>
<circle cx="411.7" cy="81.7" r="1.62"/>
<circle cx="410.2" cy="83.2" r="1.62"/>
<circle cx="414.6" cy="75.9" r="1.62"/>
<circle cx="459.5" cy="68.5" r="1.62"/>
<circle cx="441.5" cy="78.8" r="1.62"/>
<circle cx="459.5" cy="90.6" r="1.62"/>
<circle cx="448.4" cy="91.3" r="1.62"/>
<circle cx="503.4" cy="59.7" r="1.62"/>
<circle cx="498.3" cy="64.1" r="1.62"/>
<circle cx="514.5" cy="70.0" r="1.62"/>
<circle cx="506.8" cy="75.1" r="1.62"/>
<circle cx="507.4" cy="76.6" r="1.62"/>
<circle cx="516.7" cy="75.9" r="1.62"/>
<circle cx="517.1" cy="77.8" r="1.62"/>
<circle cx="514.5" cy="86.1" r="1.62"/>
<circle cx="485.8" cy="73.6" r="1.62"/>
<circle cx="481.8" cy="70.7" r="1.62"/>
<circle cx="477.7" cy="68.9" r="1.62"/>
<circle cx="485.1" cy="67.0" r="1.62"/>
<circle cx="490.2" cy="64.5" r="1.62"/>
<circle cx="469.6" cy="77.8" r="1.62"/>
<circle cx="466.7" cy="86.1" r="1.62"/>
<circle cx="497.1" cy="85.4" r="1.62"/>
<circle cx="520.4" cy="67.0" r="1.62"/>
<circle cx="524.8" cy="70.0" r="1.62"/>
<circle cx="478.4" cy="93.5" r="1.62"/>
<circle cx="330.5" cy="121.3" r="1.62"/>
<circle cx="328.0" cy="132.0" r="1.62"/>
<circle cx="427.1" cy="96.7" r="1.62"/>
<circle cx="438.1" cy="97.8" r="1.62"/>
<circle cx="443.3" cy="105.6" r="1.62"/>
<circle cx="440.4" cy="106.6" r="1.62"/>
<circle cx="437.4" cy="107.5" r="1.62"/>
<circle cx="458.0" cy="102.6" r="1.62"/>
<circle cx="460.2" cy="100.4" r="1.62"/>
<circle cx="444.0" cy="122.5" r="1.62"/>
<circle cx="447.7" cy="125.4" r="1.62"/>
<circle cx="442.6" cy="127.6" r="1.62"/>
<circle cx="436.7" cy="130.6" r="1.62"/>
<circle cx="447.0" cy="114.4" r="1.62"/>
<circle cx="444.8" cy="123.9" r="1.62"/>
<circle cx="438.1" cy="129.1" r="1.62"/>
<circle cx="469.6" cy="105.6" r="1.62"/>
<circle cx="472.6" cy="103.1" r="1.62"/>
<circle cx="477.7" cy="111.4" r="1.62"/>
<circle cx="480.6" cy="112.2" r="1.62"/>
<circle cx="471.8" cy="118.1" r="1.62"/>
<circle cx="465.9" cy="116.6" r="1.62"/>
<circle cx="490.9" cy="123.2" r="1.62"/>
<circle cx="495.4" cy="122.8" r="1.62"/>
<circle cx="500.5" cy="123.2" r="1.62"/>
<circle cx="507.1" cy="124.2" r="1.62"/>
<circle cx="493.9" cy="127.6" r="1.62"/>
<circle cx="498.3" cy="128.4" r="1.62"/>
<circle cx="518.1" cy="129.5" r="1.62"/>
<circle cx="522.3" cy="116.6" r="1.62"/>
<circle cx="527.0" cy="132.0" r="1.62"/>
<circle cx="489.5" cy="129.8" r="1.62"/>
<circle cx="379.5" cy="141.9" r="1.62"/>
<circle cx="372.1" cy="154.4" r="1.62"/>
<circle cx="379.5" cy="154.4" r="1.62"/>
<circle cx="372.1" cy="161.0" r="1.62"/>
<circle cx="379.5" cy="158.1" r="1.62"/>
<circle cx="350.8" cy="169.5" r="1.62"/>
<circle cx="320.4" cy="164.7" r="1.62"/>
<circle cx="347.1" cy="171.3" r="1.62"/>
<circle cx="338.3" cy="175.7" r="1.62"/>
<circle cx="387.4" cy="140.4" r="1.62"/>
<circle cx="405.1" cy="147.0" r="1.62"/>
<circle cx="402.1" cy="144.8" r="1.62"/>
<circle cx="422.7" cy="166.9" r="1.62"/>
<circle cx="417.6" cy="170.6" r="1.62"/>
<circle cx="400.6" cy="162.5" r="1.62"/>
<circle cx="433.7" cy="142.6" r="1.62"/>
<circle cx="449.2" cy="141.9" r="1.62"/>
<circle cx="468.9" cy="138.2" r="1.62"/>
<circle cx="471.8" cy="140.4" r="1.62"/>
<circle cx="473.3" cy="142.6" r="1.62"/>
<circle cx="470.4" cy="143.4" r="1.62"/>
<circle cx="467.4" cy="144.1" r="1.62"/>
<circle cx="465.9" cy="147.8" r="1.62"/>
<circle cx="477.7" cy="141.9" r="1.62"/>
<circle cx="482.1" cy="142.6" r="1.62"/>
<circle cx="500.5" cy="138.2" r="1.62"/>
<circle cx="518.1" cy="137.5" r="1.62"/>
<circle cx="501.5" cy="150.0" r="1.62"/>
<circle cx="523.3" cy="150.7" r="1.62"/>
<circle cx="512.7" cy="158.4" r="1.62"/>
<circle cx="502.7" cy="169.1" r="1.62"/>
<circle cx="509.3" cy="168.4" r="1.62"/>
<circle cx="507.1" cy="172.8" r="1.62"/>
<circle cx="513.7" cy="174.5" r="1.62"/>
<circle cx="493.1" cy="163.9" r="1.62"/>
<circle cx="486.5" cy="162.5" r="1.62"/>
<circle cx="473.3" cy="166.1" r="1.62"/>
<circle cx="468.9" cy="170.6" r="1.62"/>
<circle cx="469.6" cy="172.8" r="1.62"/>
<circle cx="482.1" cy="167.6" r="1.62"/>
<circle cx="464.5" cy="153.6" r="1.62"/>
<circle cx="476.2" cy="160.3" r="1.62"/>
<circle cx="326.5" cy="179.7" r="1.62"/>
<circle cx="398.4" cy="177.5" r="1.62"/>
<circle cx="422.4" cy="178.2" r="1.62"/>
<circle cx="433.7" cy="177.2" r="1.62"/>
<circle cx="416.1" cy="183.1" r="1.62"/>
<circle cx="430.1" cy="185.6" r="1.62"/>
<circle cx="447.7" cy="182.6" r="1.62"/>
<circle cx="453.6" cy="191.4" r="1.62"/>
<circle cx="410.2" cy="200.3" r="1.62"/>
<circle cx="405.1" cy="202.5" r="1.62"/>
<circle cx="431.2" cy="195.9" r="1.62"/>
<circle cx="429.8" cy="201.7" r="1.62"/>
<circle cx="428.6" cy="203.2" r="1.62"/>
<circle cx="424.9" cy="203.2" r="1.62"/>
<circle cx="417.6" cy="209.8" r="1.62"/>
<circle cx="431.5" cy="209.1" r="1.62"/>
<circle cx="439.6" cy="212.8" r="1.62"/>
<circle cx="454.3" cy="210.1" r="1.62"/>
<circle cx="458.0" cy="204.2" r="1.62"/>
<circle cx="459.5" cy="198.1" r="1.62"/>
<circle cx="462.4" cy="199.5" r="1.62"/>
<circle cx="422.0" cy="212.0" r="1.62"/>
<circle cx="471.8" cy="178.2" r="1.62"/>
<circle cx="473.3" cy="179.7" r="1.62"/>
<circle cx="471.1" cy="181.1" r="1.62"/>
<circle cx="504.2" cy="185.1" r="1.62"/>
<circle cx="501.5" cy="183.4" r="1.62"/>
<circle cx="465.2" cy="197.3" r="1.62"/>
<circle cx="463.0" cy="203.2" r="1.62"/>
<circle cx="493.9" cy="205.1" r="1.62"/>
<circle cx="419.8" cy="217.1" r="1.62"/>
<circle cx="423.4" cy="221.0" r="1.62"/>
<circle cx="416.1" cy="226.5" r="1.62"/>
<circle cx="418.3" cy="225.9" r="1.62"/>
<circle cx="409.5" cy="227.6" r="1.62"/>
<circle cx="408.7" cy="232.1" r="1.62"/>
<circle cx="410.2" cy="233.2" r="1.62"/>
<circle cx="403.6" cy="233.2" r="1.62"/>
<circle cx="478.4" cy="233.2" r="1.62"/>
<circle cx="469.2" cy="130.2" r="1.62"/>
<circle cx="470.3" cy="123.2" r="1.62"/>
<circle cx="479.8" cy="118.4" r="1.62"/>
<circle cx="476.5" cy="128.8" r="1.62"/>
<circle cx="475.3" cy="120.4" r="1.62"/>
<circle cx="469.1" cy="130.8" r="1.62"/>
<circle cx="470.0" cy="127.0" r="1.62"/>
<circle cx="480.1" cy="121.8" r="1.62"/>
<circle cx="478.6" cy="127.3" r="1.62"/>
<circle cx="472.0" cy="121.3" r="1.62"/>
<circle cx="485.6" cy="120.8" r="1.62"/>
<circle cx="477.3" cy="124.1" r="1.62"/>
<circle cx="482.8" cy="129.6" r="1.62"/>
<circle cx="482.5" cy="126.5" r="1.62"/>
<circle cx="478.3" cy="119.2" r="1.62"/>
<circle cx="478.9" cy="123.8" r="1.62"/>
<circle cx="482.4" cy="123.1" r="1.62"/>
<circle cx="470.3" cy="123.2" r="1.62"/>
<circle cx="483.8" cy="124.7" r="1.62"/>
<circle cx="480.7" cy="118.8" r="1.62"/>
<circle cx="472.2" cy="121.6" r="1.62"/>
<circle cx="477.2" cy="119.6" r="1.62"/>
<circle cx="486.0" cy="122.5" r="1.62"/>
<circle cx="468.0" cy="121.2" r="1.62"/>
<circle cx="477.5" cy="126.3" r="1.62"/>
<circle cx="483.5" cy="119.2" r="1.62"/>
<circle cx="486.4" cy="129.6" r="1.62"/>
<circle cx="477.8" cy="126.7" r="1.62"/>
<circle cx="473.8" cy="120.0" r="1.62"/>
<circle cx="468.2" cy="131.0" r="1.62"/>
<circle cx="484.9" cy="124.0" r="1.62"/>
<circle cx="479.4" cy="124.4" r="1.62"/>
<circle cx="481.1" cy="119.3" r="1.62"/>
<circle cx="482.3" cy="120.4" r="1.62"/>
<circle cx="479.3" cy="124.6" r="1.62"/>
<circle cx="488.5" cy="124.4" r="1.62"/>
<circle cx="464.4" cy="127.9" r="1.62"/>
<circle cx="471.5" cy="123.6" r="1.62"/>
<circle cx="486.8" cy="130.6" r="1.62"/>
<circle cx="461.7" cy="121.7" r="1.62"/>
<circle cx="469.3" cy="128.4" r="1.62"/>
<circle cx="472.3" cy="129.5" r="1.62"/>
<circle cx="486.6" cy="121.1" r="1.62"/>
<circle cx="485.5" cy="125.5" r="1.62"/>
<circle cx="462.2" cy="119.0" r="1.62"/>
<circle cx="462.9" cy="128.2" r="1.62"/>
<circle cx="472.2" cy="119.1" r="1.62"/>
<circle cx="483.8" cy="130.8" r="1.62"/>
<circle cx="453.6" cy="145.5" r="1.62"/>
<circle cx="447.5" cy="157.0" r="1.62"/>
<circle cx="448.5" cy="157.0" r="1.62"/>
<circle cx="447.9" cy="150.6" r="1.62"/>
<circle cx="451.4" cy="163.1" r="1.62"/>
<circle cx="448.6" cy="163.9" r="1.62"/>
<circle cx="451.5" cy="145.7" r="1.62"/>
<circle cx="454.4" cy="163.9" r="1.62"/>
<circle cx="455.7" cy="144.8" r="1.62"/>
<circle cx="461.9" cy="145.3" r="1.62"/>
<circle cx="459.7" cy="160.3" r="1.62"/>
<circle cx="462.1" cy="165.8" r="1.62"/>
<circle cx="457.0" cy="158.2" r="1.62"/>
<circle cx="460.0" cy="164.0" r="1.62"/>
<circle cx="451.5" cy="162.0" r="1.62"/>
<circle cx="455.7" cy="156.7" r="1.62"/>
<circle cx="452.3" cy="156.3" r="1.62"/>
<circle cx="453.4" cy="146.3" r="1.62"/>
<circle cx="456.4" cy="146.3" r="1.62"/>
<circle cx="453.6" cy="163.0" r="1.62"/>
<circle cx="458.1" cy="142.5" r="1.62"/>
<circle cx="462.3" cy="142.5" r="1.62"/>
<circle cx="449.8" cy="140.9" r="1.62"/>
<circle cx="460.6" cy="148.2" r="1.62"/>
<circle cx="447.3" cy="149.1" r="1.62"/>
<circle cx="456.9" cy="148.6" r="1.62"/>
<circle cx="446.4" cy="149.7" r="1.62"/>
<circle cx="456.8" cy="160.8" r="1.62"/>
<circle cx="461.8" cy="165.2" r="1.62"/>
<circle cx="455.1" cy="146.6" r="1.62"/>
<circle cx="451.7" cy="164.0" r="1.62"/>
<circle cx="456.7" cy="155.3" r="1.62"/>
<circle cx="459.5" cy="150.4" r="1.62"/>
<circle cx="452.8" cy="155.5" r="1.62"/>
<circle cx="449.2" cy="174.8" r="1.62"/>
<circle cx="464.7" cy="173.7" r="1.62"/>
<circle cx="468.1" cy="169.7" r="1.62"/>
<circle cx="468.3" cy="180.9" r="1.62"/>
<circle cx="452.0" cy="175.3" r="1.62"/>
<circle cx="446.2" cy="179.9" r="1.62"/>
<circle cx="451.8" cy="187.0" r="1.62"/>
<circle cx="447.4" cy="179.1" r="1.62"/>
<circle cx="457.9" cy="174.4" r="1.62"/>
<circle cx="469.7" cy="174.9" r="1.62"/>
<circle cx="466.1" cy="184.7" r="1.62"/>
<circle cx="471.0" cy="182.2" r="1.62"/>
<circle cx="474.5" cy="186.1" r="1.62"/>
<circle cx="459.1" cy="168.0" r="1.62"/>
<circle cx="449.5" cy="168.4" r="1.62"/>
<circle cx="465.3" cy="177.1" r="1.62"/>
</g>
<g fill="#1b5aec">
<circle cx="315.4" cy="70.5" r="1.62"/>
<circle cx="335.6" cy="72.6" r="1.62"/>
<circle cx="335.6" cy="74.1" r="1.62"/>
<circle cx="348.3" cy="79.8" r="1.62"/>
<circle cx="374.6" cy="73.5" r="1.62"/>
<circle cx="377.3" cy="76.1" r="1.62"/>
<circle cx="382.3" cy="71.1" r="1.62"/>
<circle cx="382.3" cy="73.5" r="1.62"/>
<circle cx="382.3" cy="75.5" r="1.62"/>
<circle cx="360.5" cy="99.6" r="1.62"/>
<circle cx="381.2" cy="94.1" r="1.62"/>
<circle cx="342.1" cy="113.6" r="1.62"/>
<circle cx="348.1" cy="115.4" r="1.62"/>
<circle cx="356.5" cy="114.4" r="1.62"/>
<circle cx="358.4" cy="113.4" r="1.62"/>
<circle cx="359.9" cy="116.3" r="1.62"/>
<circle cx="367.9" cy="113.9" r="1.62"/>
<circle cx="368.6" cy="115.4" r="1.62"/>
<circle cx="366.1" cy="118.4" r="1.62"/>
<circle cx="366.4" cy="121.0" r="1.62"/>
<circle cx="376.4" cy="114.8" r="1.62"/>
<circle cx="379.3" cy="114.4" r="1.62"/>
<circle cx="382.3" cy="113.9" r="1.62"/>
<circle cx="377.9" cy="118.4" r="1.62"/>
<circle cx="380.1" cy="118.1" r="1.62"/>
<circle cx="315.4" cy="121.3" r="1.62"/>
<circle cx="348.4" cy="123.4" r="1.62"/>
<circle cx="352.4" cy="122.5" r="1.62"/>
<circle cx="334.0" cy="126.9" r="1.62"/>
<circle cx="341.4" cy="126.1" r="1.62"/>
<circle cx="361.4" cy="126.6" r="1.62"/>
<circle cx="362.4" cy="127.6" r="1.62"/>
<circle cx="368.3" cy="125.4" r="1.62"/>
<circle cx="372.0" cy="122.5" r="1.62"/>
<circle cx="374.6" cy="123.9" r="1.62"/>
<circle cx="379.3" cy="125.4" r="1.62"/>
<circle cx="382.3" cy="126.9" r="1.62"/>
<circle cx="322.4" cy="131.3" r="1.62"/>
<circle cx="377.9" cy="130.6" r="1.62"/>
<circle cx="389.5" cy="68.5" r="1.62"/>
<circle cx="393.4" cy="68.9" r="1.62"/>
<circle cx="395.4" cy="70.7" r="1.62"/>
<circle cx="393.1" cy="73.6" r="1.62"/>
<circle cx="397.1" cy="74.4" r="1.62"/>
<circle cx="388.4" cy="79.5" r="1.62"/>
<circle cx="393.1" cy="83.2" r="1.62"/>
<circle cx="403.1" cy="69.5" r="1.62"/>
<circle cx="408.1" cy="71.9" r="1.62"/>
<circle cx="406.4" cy="66.6" r="1.62"/>
<circle cx="413.0" cy="67.5" r="1.62"/>
<circle cx="415.9" cy="70.7" r="1.62"/>
<circle cx="418.1" cy="70.0" r="1.62"/>
<circle cx="419.6" cy="69.5" r="1.62"/>
<circle cx="415.5" cy="75.9" r="1.62"/>
<circle cx="435.5" cy="78.4" r="1.62"/>
<circle cx="433.6" cy="82.8" r="1.62"/>
<circle cx="444.3" cy="78.4" r="1.62"/>
<circle cx="448.3" cy="69.2" r="1.62"/>
<circle cx="452.0" cy="71.4" r="1.62"/>
<circle cx="456.4" cy="68.5" r="1.62"/>
<circle cx="456.4" cy="73.6" r="1.62"/>
<circle cx="412.3" cy="86.6" r="1.62"/>
<circle cx="408.6" cy="89.5" r="1.62"/>
<circle cx="398.3" cy="92.0" r="1.62"/>
<circle cx="410.8" cy="92.8" r="1.62"/>
<circle cx="413.0" cy="92.8" r="1.62"/>
<circle cx="406.4" cy="94.5" r="1.62"/>
<circle cx="422.6" cy="89.5" r="1.62"/>
<circle cx="426.7" cy="90.6" r="1.62"/>
<circle cx="426.7" cy="92.5" r="1.62"/>
<circle cx="439.9" cy="91.3" r="1.62"/>
<circle cx="448.3" cy="88.1" r="1.62"/>
<circle cx="452.0" cy="88.1" r="1.62"/>
<circle cx="452.0" cy="90.1" r="1.62"/>
<circle cx="460.1" cy="92.8" r="1.62"/>
<circle cx="486.7" cy="60.4" r="1.62"/>
<circle cx="486.7" cy="62.6" r="1.62"/>
<circle cx="486.7" cy="64.8" r="1.62"/>
<circle cx="494.0" cy="63.1" r="1.62"/>
<circle cx="468.4" cy="72.2" r="1.62"/>
<circle cx="464.3" cy="76.3" r="1.62"/>
<circle cx="490.4" cy="75.4" r="1.62"/>
<circle cx="533.0" cy="68.1" r="1.62"/>
<circle cx="493.7" cy="84.7" r="1.62"/>
<circle cx="486.7" cy="86.6" r="1.62"/>
<circle cx="507.3" cy="91.0" r="1.62"/>
<circle cx="523.4" cy="91.3" r="1.62"/>
<circle cx="526.8" cy="92.0" r="1.62"/>
<circle cx="468.7" cy="95.0" r="1.62"/>
<circle cx="472.4" cy="93.9" r="1.62"/>
<circle cx="475.8" cy="95.0" r="1.62"/>
<circle cx="497.4" cy="28.1" r="1.62"/>
<circle cx="507.4" cy="28.1" r="1.62"/>
<circle cx="510.6" cy="28.1" r="1.62"/>
<circle cx="520.5" cy="28.1" r="1.62"/>
<circle cx="530.1" cy="28.1" r="1.62"/>
<circle cx="533.0" cy="28.1" r="1.62"/>
<circle cx="483.1" cy="41.7" r="1.62"/>
<circle cx="533.0" cy="38.4" r="1.62"/>
<circle cx="523.4" cy="45.4" r="1.62"/>
<circle cx="533.0" cy="47.2" r="1.62"/>
<circle cx="497.4" cy="52.8" r="1.62"/>
<circle cx="393.1" cy="96.7" r="1.62"/>
<circle cx="393.1" cy="100.4" r="1.62"/>
<circle cx="393.1" cy="106.6" r="1.62"/>
<circle cx="402.7" cy="105.1" r="1.62"/>
<circle cx="400.2" cy="107.0" r="1.62"/>
<circle cx="410.8" cy="107.5" r="1.62"/>
<circle cx="414.5" cy="97.5" r="1.62"/>
<circle cx="417.4" cy="98.2" r="1.62"/>
<circle cx="419.6" cy="97.5" r="1.62"/>
<circle cx="418.9" cy="101.1" r="1.62"/>
<circle cx="460.1" cy="100.4" r="1.62"/>
<circle cx="434.3" cy="102.6" r="1.62"/>
<circle cx="431.4" cy="104.8" r="1.62"/>
<circle cx="435.8" cy="104.8" r="1.62"/>
<circle cx="449.0" cy="123.9" r="1.62"/>
<circle cx="452.0" cy="121.7" r="1.62"/>
<circle cx="455.6" cy="126.1" r="1.62"/>
<circle cx="452.0" cy="124.7" r="1.62"/>
<circle cx="460.1" cy="121.7" r="1.62"/>
<circle cx="384.3" cy="115.1" r="1.62"/>
<circle cx="386.5" cy="114.4" r="1.62"/>
<circle cx="383.6" cy="119.5" r="1.62"/>
<circle cx="384.3" cy="126.1" r="1.62"/>
<circle cx="388.7" cy="125.4" r="1.62"/>
<circle cx="387.3" cy="123.2" r="1.62"/>
<circle cx="400.5" cy="129.8" r="1.62"/>
<circle cx="406.4" cy="130.1" r="1.62"/>
<circle cx="435.1" cy="127.6" r="1.62"/>
<circle cx="444.6" cy="125.4" r="1.62"/>
<circle cx="447.6" cy="122.5" r="1.62"/>
<circle cx="464.3" cy="104.5" r="1.62"/>
<circle cx="507.3" cy="98.6" r="1.62"/>
<circle cx="526.8" cy="105.1" r="1.62"/>
<circle cx="533.0" cy="107.0" r="1.62"/>
<circle cx="483.1" cy="110.4" r="1.62"/>
<circle cx="475.8" cy="114.8" r="1.62"/>
<circle cx="507.3" cy="115.1" r="1.62"/>
<circle cx="464.3" cy="122.2" r="1.62"/>
<circle cx="468.4" cy="123.9" r="1.62"/>
<circle cx="464.3" cy="127.6" r="1.62"/>
<circle cx="486.7" cy="121.3" r="1.62"/>
<circle cx="486.7" cy="123.9" r="1.62"/>
<circle cx="479.3" cy="128.1" r="1.62"/>
<circle cx="497.4" cy="129.8" r="1.62"/>
<circle cx="520.5" cy="124.7" r="1.62"/>
<circle cx="533.0" cy="121.7" r="1.62"/>
<circle cx="533.0" cy="124.7" r="1.62"/>
<circle cx="464.3" cy="130.6" r="1.62"/>
<circle cx="315.4" cy="138.2" r="1.62"/>
<circle cx="335.5" cy="140.7" r="1.62"/>
<circle cx="322.4" cy="144.8" r="1.62"/>
<circle cx="315.4" cy="158.1" r="1.62"/>
<circle cx="315.4" cy="166.1" r="1.62"/>
<circle cx="315.4" cy="172.8" r="1.62"/>
<circle cx="321.2" cy="163.2" r="1.62"/>
<circle cx="326.4" cy="164.7" r="1.62"/>
<circle cx="329.3" cy="160.7" r="1.62"/>
<circle cx="329.0" cy="162.5" r="1.62"/>
<circle cx="333.0" cy="165.4" r="1.62"/>
<circle cx="334.5" cy="164.7" r="1.62"/>
<circle cx="337.4" cy="162.2" r="1.62"/>
<circle cx="335.5" cy="175.4" r="1.62"/>
<circle cx="342.3" cy="174.5" r="1.62"/>
<circle cx="342.3" cy="172.0" r="1.62"/>
<circle cx="372.0" cy="139.7" r="1.62"/>
<circle cx="372.0" cy="142.6" r="1.62"/>
<circle cx="377.9" cy="138.2" r="1.62"/>
<circle cx="369.0" cy="136.7" r="1.62"/>
<circle cx="342.3" cy="155.1" r="1.62"/>
<circle cx="344.8" cy="156.6" r="1.62"/>
<circle cx="347.0" cy="158.1" r="1.62"/>
<circle cx="348.4" cy="159.2" r="1.62"/>
<circle cx="345.5" cy="161.0" r="1.62"/>
<circle cx="343.3" cy="162.5" r="1.62"/>
<circle cx="347.0" cy="163.2" r="1.62"/>
<circle cx="349.9" cy="162.5" r="1.62"/>
<circle cx="344.0" cy="166.9" r="1.62"/>
<circle cx="347.7" cy="169.1" r="1.62"/>
<circle cx="349.9" cy="170.6" r="1.62"/>
<circle cx="351.4" cy="158.1" r="1.62"/>
<circle cx="353.6" cy="157.3" r="1.62"/>
<circle cx="354.3" cy="159.5" r="1.62"/>
<circle cx="360.5" cy="154.4" r="1.62"/>
<circle cx="363.4" cy="153.9" r="1.62"/>
<circle cx="358.7" cy="156.6" r="1.62"/>
<circle cx="376.4" cy="155.1" r="1.62"/>
<circle cx="379.3" cy="153.6" r="1.62"/>
<circle cx="381.5" cy="155.9" r="1.62"/>
<circle cx="452.0" cy="137.5" r="1.62"/>
<circle cx="454.9" cy="138.9" r="1.62"/>
<circle cx="459.3" cy="137.5" r="1.62"/>
<circle cx="462.3" cy="140.4" r="1.62"/>
<circle cx="460.1" cy="144.8" r="1.62"/>
<circle cx="456.4" cy="150.0" r="1.62"/>
<circle cx="460.1" cy="150.0" r="1.62"/>
<circle cx="448.3" cy="154.4" r="1.62"/>
<circle cx="452.0" cy="153.6" r="1.62"/>
<circle cx="446.1" cy="155.9" r="1.62"/>
<circle cx="448.3" cy="158.1" r="1.62"/>
<circle cx="454.9" cy="158.1" r="1.62"/>
<circle cx="452.0" cy="161.7" r="1.62"/>
<circle cx="456.4" cy="163.2" r="1.62"/>
<circle cx="462.3" cy="164.7" r="1.62"/>
<circle cx="444.6" cy="171.3" r="1.62"/>
<circle cx="447.6" cy="174.5" r="1.62"/>
<circle cx="455.6" cy="170.6" r="1.62"/>
<circle cx="460.1" cy="167.6" r="1.62"/>
<circle cx="444.6" cy="147.8" r="1.62"/>
<circle cx="443.1" cy="146.3" r="1.62"/>
<circle cx="388.0" cy="145.6" r="1.62"/>
<circle cx="384.3" cy="141.1" r="1.62"/>
<circle cx="391.7" cy="154.4" r="1.62"/>
<circle cx="397.6" cy="153.6" r="1.62"/>
<circle cx="402.0" cy="153.4" r="1.62"/>
<circle cx="407.9" cy="142.6" r="1.62"/>
<circle cx="410.8" cy="144.8" r="1.62"/>
<circle cx="410.1" cy="150.0" r="1.62"/>
<circle cx="413.7" cy="138.2" r="1.62"/>
<circle cx="413.0" cy="141.9" r="1.62"/>
<circle cx="464.3" cy="138.9" r="1.62"/>
<circle cx="464.3" cy="142.6" r="1.62"/>
<circle cx="464.3" cy="146.3" r="1.62"/>
<circle cx="464.3" cy="150.7" r="1.62"/>
<circle cx="464.3" cy="155.1" r="1.62"/>
<circle cx="464.3" cy="158.1" r="1.62"/>
<circle cx="464.3" cy="161.7" r="1.62"/>
<circle cx="468.4" cy="142.6" r="1.62"/>
<circle cx="468.4" cy="144.1" r="1.62"/>
<circle cx="468.4" cy="148.5" r="1.62"/>
<circle cx="469.5" cy="155.9" r="1.62"/>
<circle cx="472.4" cy="166.9" r="1.62"/>
<circle cx="468.4" cy="174.2" r="1.62"/>
<circle cx="475.8" cy="141.9" r="1.62"/>
<circle cx="479.3" cy="147.0" r="1.62"/>
<circle cx="483.1" cy="137.8" r="1.62"/>
<circle cx="483.1" cy="146.0" r="1.62"/>
<circle cx="475.8" cy="155.9" r="1.62"/>
<circle cx="479.3" cy="158.1" r="1.62"/>
<circle cx="475.8" cy="162.8" r="1.62"/>
<circle cx="479.3" cy="161.0" r="1.62"/>
<circle cx="483.1" cy="163.9" r="1.62"/>
<circle cx="486.7" cy="151.4" r="1.62"/>
<circle cx="486.7" cy="155.9" r="1.62"/>
<circle cx="490.4" cy="158.8" r="1.62"/>
<circle cx="490.4" cy="163.2" r="1.62"/>
<circle cx="486.7" cy="170.6" r="1.62"/>
<circle cx="483.1" cy="173.5" r="1.62"/>
<circle cx="490.4" cy="140.7" r="1.62"/>
<circle cx="497.4" cy="140.1" r="1.62"/>
<circle cx="500.8" cy="141.1" r="1.62"/>
<circle cx="504.3" cy="138.2" r="1.62"/>
<circle cx="507.3" cy="141.6" r="1.62"/>
<circle cx="500.8" cy="146.3" r="1.62"/>
<circle cx="500.8" cy="154.4" r="1.62"/>
<circle cx="504.3" cy="160.3" r="1.62"/>
<circle cx="523.4" cy="147.8" r="1.62"/>
<circle cx="517.3" cy="166.1" r="1.62"/>
<circle cx="520.5" cy="175.4" r="1.62"/>
<circle cx="533.0" cy="136.0" r="1.62"/>
<circle cx="533.0" cy="141.1" r="1.62"/>
<circle cx="533.0" cy="150.0" r="1.62"/>
<circle cx="533.0" cy="155.9" r="1.62"/>
<circle cx="533.0" cy="158.1" r="1.62"/>
<circle cx="533.0" cy="160.3" r="1.62"/>
<circle cx="533.0" cy="172.8" r="1.62"/>
<circle cx="315.4" cy="181.6" r="1.62"/>
<circle cx="315.4" cy="191.4" r="1.62"/>
<circle cx="315.4" cy="194.8" r="1.62"/>
<circle cx="315.4" cy="215.4" r="1.62"/>
<circle cx="329.0" cy="181.6" r="1.62"/>
<circle cx="329.0" cy="191.4" r="1.62"/>
<circle cx="329.0" cy="212.0" r="1.62"/>
<circle cx="322.4" cy="203.6" r="1.62"/>
<circle cx="342.3" cy="187.5" r="1.62"/>
<circle cx="342.3" cy="202.5" r="1.62"/>
<circle cx="342.3" cy="204.7" r="1.62"/>
<circle cx="342.3" cy="208.6" r="1.62"/>
<circle cx="348.4" cy="179.2" r="1.62"/>
<circle cx="348.4" cy="186.3" r="1.62"/>
<circle cx="348.4" cy="188.5" r="1.62"/>
<circle cx="348.4" cy="190.7" r="1.62"/>
<circle cx="348.4" cy="192.9" r="1.62"/>
<circle cx="348.4" cy="198.1" r="1.62"/>
<circle cx="348.4" cy="201.7" r="1.62"/>
<circle cx="354.3" cy="185.6" r="1.62"/>
<circle cx="354.3" cy="198.4" r="1.62"/>
<circle cx="360.5" cy="177.8" r="1.62"/>
<circle cx="360.5" cy="191.4" r="1.62"/>
<circle cx="363.4" cy="182.2" r="1.62"/>
<circle cx="366.1" cy="201.3" r="1.62"/>
<circle cx="369.8" cy="184.5" r="1.62"/>
<circle cx="372.0" cy="186.6" r="1.62"/>
<circle cx="374.6" cy="177.5" r="1.62"/>
<circle cx="374.6" cy="181.1" r="1.62"/>
<circle cx="377.9" cy="179.7" r="1.62"/>
<circle cx="377.9" cy="182.6" r="1.62"/>
<circle cx="378.6" cy="185.6" r="1.62"/>
<circle cx="382.3" cy="186.3" r="1.62"/>
<circle cx="377.4" cy="190.0" r="1.62"/>
<circle cx="382.3" cy="190.7" r="1.62"/>
<circle cx="377.4" cy="196.6" r="1.62"/>
<circle cx="382.3" cy="201.7" r="1.62"/>
<circle cx="382.3" cy="203.9" r="1.62"/>
<circle cx="377.4" cy="212.0" r="1.62"/>
<circle cx="377.4" cy="215.0" r="1.62"/>
<circle cx="335.9" cy="215.4" r="1.62"/>
<circle cx="393.1" cy="177.2" r="1.62"/>
<circle cx="396.1" cy="180.4" r="1.62"/>
<circle cx="397.6" cy="178.9" r="1.62"/>
<circle cx="404.2" cy="176.7" r="1.62"/>
<circle cx="407.9" cy="180.4" r="1.62"/>
<circle cx="409.3" cy="183.1" r="1.62"/>
<circle cx="412.3" cy="178.9" r="1.62"/>
<circle cx="417.4" cy="177.5" r="1.62"/>
<circle cx="383.6" cy="186.3" r="1.62"/>
<circle cx="385.1" cy="191.4" r="1.62"/>
<circle cx="389.5" cy="186.3" r="1.62"/>
<circle cx="392.4" cy="184.1" r="1.62"/>
<circle cx="393.1" cy="188.5" r="1.62"/>
<circle cx="393.9" cy="190.4" r="1.62"/>
<circle cx="398.3" cy="187.8" r="1.62"/>
<circle cx="398.3" cy="190.0" r="1.62"/>
<circle cx="402.7" cy="184.8" r="1.62"/>
<circle cx="403.4" cy="186.3" r="1.62"/>
<circle cx="403.1" cy="191.9" r="1.62"/>
<circle cx="403.1" cy="195.9" r="1.62"/>
<circle cx="407.9" cy="182.6" r="1.62"/>
<circle cx="411.5" cy="184.1" r="1.62"/>
<circle cx="411.5" cy="188.5" r="1.62"/>
<circle cx="413.7" cy="186.3" r="1.62"/>
<circle cx="415.2" cy="187.8" r="1.62"/>
<circle cx="417.4" cy="187.0" r="1.62"/>
<circle cx="417.4" cy="190.7" r="1.62"/>
<circle cx="418.1" cy="196.6" r="1.62"/>
<circle cx="422.3" cy="191.9" r="1.62"/>
<circle cx="422.3" cy="195.9" r="1.62"/>
<circle cx="426.7" cy="182.6" r="1.62"/>
<circle cx="435.5" cy="184.8" r="1.62"/>
<circle cx="435.5" cy="186.6" r="1.62"/>
<circle cx="440.5" cy="191.9" r="1.62"/>
<circle cx="440.5" cy="193.6" r="1.62"/>
<circle cx="444.3" cy="189.5" r="1.62"/>
<circle cx="448.3" cy="186.6" r="1.62"/>
<circle cx="452.0" cy="181.6" r="1.62"/>
<circle cx="456.4" cy="185.6" r="1.62"/>
<circle cx="456.4" cy="191.4" r="1.62"/>
<circle cx="460.1" cy="191.4" r="1.62"/>
<circle cx="444.3" cy="199.5" r="1.62"/>
<circle cx="452.0" cy="198.1" r="1.62"/>
<circle cx="452.0" cy="200.7" r="1.62"/>
<circle cx="456.4" cy="202.5" r="1.62"/>
<circle cx="460.1" cy="198.1" r="1.62"/>
<circle cx="383.6" cy="202.2" r="1.62"/>
<circle cx="393.1" cy="203.2" r="1.62"/>
<circle cx="398.3" cy="205.1" r="1.62"/>
<circle cx="403.4" cy="205.1" r="1.62"/>
<circle cx="407.9" cy="208.1" r="1.62"/>
<circle cx="407.9" cy="212.0" r="1.62"/>
<circle cx="413.0" cy="208.6" r="1.62"/>
<circle cx="413.0" cy="211.3" r="1.62"/>
<circle cx="422.3" cy="210.1" r="1.62"/>
<circle cx="426.7" cy="205.4" r="1.62"/>
<circle cx="426.7" cy="207.6" r="1.62"/>
<circle cx="426.7" cy="211.3" r="1.62"/>
<circle cx="431.4" cy="209.5" r="1.62"/>
<circle cx="393.1" cy="212.8" r="1.62"/>
<circle cx="385.8" cy="212.8" r="1.62"/>
<circle cx="403.4" cy="213.5" r="1.62"/>
<circle cx="422.3" cy="215.0" r="1.62"/>
<circle cx="443.1" cy="213.5" r="1.62"/>
<circle cx="448.3" cy="211.3" r="1.62"/>
<circle cx="452.0" cy="207.2" r="1.62"/>
<circle cx="462.3" cy="203.2" r="1.62"/>
<circle cx="443.1" cy="176.7" r="1.62"/>
<circle cx="427.0" cy="199.5" r="1.62"/>
<circle cx="464.3" cy="179.2" r="1.62"/>
<circle cx="479.3" cy="176.7" r="1.62"/>
<circle cx="520.5" cy="176.7" r="1.62"/>
<circle cx="500.8" cy="181.6" r="1.62"/>
<circle cx="504.0" cy="180.1" r="1.62"/>
<circle cx="500.8" cy="185.1" r="1.62"/>
<circle cx="493.7" cy="187.5" r="1.62"/>
<circle cx="529.8" cy="184.5" r="1.62"/>
<circle cx="533.0" cy="184.5" r="1.62"/>
<circle cx="464.3" cy="194.8" r="1.62"/>
<circle cx="479.3" cy="199.2" r="1.62"/>
<circle cx="479.3" cy="203.2" r="1.62"/>
<circle cx="510.6" cy="199.8" r="1.62"/>
<circle cx="486.7" cy="206.6" r="1.62"/>
<circle cx="479.3" cy="211.0" r="1.62"/>
<circle cx="490.4" cy="212.8" r="1.62"/>
<circle cx="520.5" cy="208.4" r="1.62"/>
<circle cx="517.3" cy="213.9" r="1.62"/>
<circle cx="472.4" cy="215.4" r="1.62"/>
<circle cx="335.5" cy="223.2" r="1.62"/>
<circle cx="335.5" cy="229.4" r="1.62"/>
<circle cx="335.5" cy="233.2" r="1.62"/>
<circle cx="329.0" cy="233.2" r="1.62"/>
<circle cx="342.3" cy="233.2" r="1.62"/>
<circle cx="315.4" cy="233.2" r="1.62"/>
<circle cx="354.3" cy="233.2" r="1.62"/>
<circle cx="377.4" cy="233.2" r="1.62"/>
<circle cx="354.3" cy="218.5" r="1.62"/>
<circle cx="360.5" cy="217.6" r="1.62"/>
<circle cx="360.5" cy="225.4" r="1.62"/>
<circle cx="366.1" cy="222.5" r="1.62"/>
<circle cx="366.1" cy="227.4" r="1.62"/>
<circle cx="372.0" cy="219.1" r="1.62"/>
<circle cx="377.4" cy="217.6" r="1.62"/>
<circle cx="377.4" cy="222.9" r="1.62"/>
<circle cx="385.8" cy="214.4" r="1.62"/>
<circle cx="431.4" cy="216.6" r="1.62"/>
<circle cx="435.5" cy="217.1" r="1.62"/>
<circle cx="403.4" cy="219.1" r="1.62"/>
<circle cx="403.4" cy="220.6" r="1.62"/>
<circle cx="403.4" cy="222.5" r="1.62"/>
<circle cx="393.1" cy="224.4" r="1.62"/>
<circle cx="398.3" cy="226.2" r="1.62"/>
<circle cx="407.9" cy="224.0" r="1.62"/>
<circle cx="422.3" cy="224.4" r="1.62"/>
<circle cx="435.5" cy="224.4" r="1.62"/>
<circle cx="438.0" cy="226.2" r="1.62"/>
<circle cx="439.9" cy="223.5" r="1.62"/>
<circle cx="403.4" cy="229.4" r="1.62"/>
<circle cx="417.4" cy="229.1" r="1.62"/>
<circle cx="398.3" cy="233.2" r="1.62"/>
<circle cx="413.0" cy="233.2" r="1.62"/>
<circle cx="422.3" cy="233.2" r="1.62"/>
<circle cx="426.7" cy="233.2" r="1.62"/>
<circle cx="429.6" cy="233.2" r="1.62"/>
<circle cx="435.5" cy="233.2" r="1.62"/>
<circle cx="452.0" cy="233.2" r="1.62"/>
<circle cx="460.4" cy="233.2" r="1.62"/>
<circle cx="475.8" cy="219.1" r="1.62"/>
<circle cx="533.0" cy="221.0" r="1.62"/>
<circle cx="533.0" cy="229.4" r="1.62"/>
<circle cx="497.4" cy="229.4" r="1.62"/>
<circle cx="497.4" cy="233.2" r="1.62"/>
<circle cx="468.4" cy="233.2" r="1.62"/>
<circle cx="479.3" cy="233.2" r="1.62"/>
<circle cx="486.7" cy="233.2" r="1.62"/>
<circle cx="523.4" cy="233.2" r="1.62"/>
<circle cx="392.4" cy="121.4" r="1.62"/>
<circle cx="401.4" cy="120.0" r="1.62"/>
<circle cx="393.5" cy="121.8" r="1.62"/>
<circle cx="387.4" cy="120.7" r="1.62"/>
<circle cx="395.8" cy="124.9" r="1.62"/>
<circle cx="385.6" cy="117.6" r="1.62"/>
<circle cx="385.6" cy="125.1" r="1.62"/>
<circle cx="397.0" cy="113.6" r="1.62"/>
<circle cx="402.5" cy="127.5" r="1.62"/>
<circle cx="396.3" cy="122.2" r="1.62"/>
<circle cx="386.8" cy="113.2" r="1.62"/>
<circle cx="393.9" cy="113.9" r="1.62"/>
<circle cx="387.5" cy="116.6" r="1.62"/>
<circle cx="384.4" cy="120.0" r="1.62"/>
<circle cx="392.2" cy="125.6" r="1.62"/>
<circle cx="393.7" cy="122.6" r="1.62"/>
<circle cx="393.3" cy="122.9" r="1.62"/>
<circle cx="392.5" cy="117.2" r="1.62"/>
<circle cx="402.8" cy="127.9" r="1.62"/>
<circle cx="399.8" cy="123.6" r="1.62"/>
<circle cx="389.8" cy="116.4" r="1.62"/>
<circle cx="389.3" cy="114.1" r="1.62"/>
<circle cx="398.4" cy="119.0" r="1.62"/>
<circle cx="399.9" cy="118.8" r="1.62"/>
<circle cx="402.1" cy="125.7" r="1.62"/>
<circle cx="383.9" cy="116.1" r="1.62"/>
<circle cx="439.5" cy="143.6" r="1.62"/>
<circle cx="443.7" cy="142.6" r="1.62"/>
<circle cx="389.2" cy="145.8" r="1.62"/>
<circle cx="431.6" cy="140.8" r="1.62"/>
<circle cx="390.1" cy="141.7" r="1.62"/>
<circle cx="442.7" cy="147.6" r="1.62"/>
<circle cx="391.9" cy="140.4" r="1.62"/>
<circle cx="390.9" cy="137.8" r="1.62"/>
<circle cx="432.7" cy="139.5" r="1.62"/>
<circle cx="418.4" cy="143.3" r="1.62"/>
<circle cx="396.3" cy="147.2" r="1.62"/>
<circle cx="392.7" cy="146.0" r="1.62"/>
<circle cx="391.8" cy="142.9" r="1.62"/>
<circle cx="397.6" cy="140.8" r="1.62"/>
<circle cx="443.1" cy="148.2" r="1.62"/>
<circle cx="403.1" cy="149.4" r="1.62"/>
<circle cx="397.5" cy="142.5" r="1.62"/>
<circle cx="436.1" cy="146.0" r="1.62"/>
<circle cx="390.9" cy="150.9" r="1.62"/>
<circle cx="397.6" cy="140.6" r="1.62"/>
<circle cx="431.2" cy="141.6" r="1.62"/>
<circle cx="402.6" cy="138.0" r="1.62"/>
<circle cx="390.3" cy="145.2" r="1.62"/>
<circle cx="399.4" cy="145.4" r="1.62"/>
<circle cx="407.2" cy="143.3" r="1.62"/>
<circle cx="442.4" cy="143.8" r="1.62"/>
<circle cx="419.3" cy="149.1" r="1.62"/>
<circle cx="395.8" cy="139.2" r="1.62"/>
<circle cx="439.4" cy="148.4" r="1.62"/>
<circle cx="399.8" cy="139.7" r="1.62"/>
<circle cx="429.0" cy="117.5" r="1.62"/>
<circle cx="423.4" cy="117.6" r="1.62"/>
<circle cx="426.1" cy="121.3" r="1.62"/>
<circle cx="418.4" cy="115.1" r="1.62"/>
<circle cx="411.7" cy="123.1" r="1.62"/>
<circle cx="439.5" cy="122.7" r="1.62"/>
<circle cx="434.0" cy="122.0" r="1.62"/>
<circle cx="422.8" cy="121.3" r="1.62"/>
<circle cx="409.2" cy="117.6" r="1.62"/>
<circle cx="413.3" cy="121.6" r="1.62"/>
<circle cx="415.3" cy="118.0" r="1.62"/>
<circle cx="428.1" cy="124.2" r="1.62"/>
<circle cx="412.6" cy="114.6" r="1.62"/>
<circle cx="433.5" cy="113.9" r="1.62"/>
<circle cx="428.7" cy="116.1" r="1.62"/>
<circle cx="421.5" cy="110.9" r="1.62"/>
<circle cx="432.1" cy="116.4" r="1.62"/>
<circle cx="411.2" cy="127.2" r="1.62"/>
<circle cx="428.2" cy="117.0" r="1.62"/>
<circle cx="424.3" cy="125.2" r="1.62"/>
<circle cx="422.5" cy="120.4" r="1.62"/>
<circle cx="429.6" cy="114.7" r="1.62"/>
<circle cx="424.5" cy="116.4" r="1.62"/>
<circle cx="406.7" cy="122.2" r="1.62"/>
<circle cx="431.5" cy="118.8" r="1.62"/>
<circle cx="411.1" cy="110.1" r="1.62"/>
<circle cx="429.2" cy="118.1" r="1.62"/>
<circle cx="401.0" cy="118.2" r="1.62"/>
<circle cx="403.1" cy="118.4" r="1.62"/>
<circle cx="424.7" cy="120.0" r="1.62"/>
<circle cx="425.7" cy="119.2" r="1.62"/>
<circle cx="408.0" cy="116.9" r="1.62"/>
<circle cx="416.2" cy="117.5" r="1.62"/>
<circle cx="426.4" cy="121.1" r="1.62"/>
<circle cx="428.1" cy="117.7" r="1.62"/>
<circle cx="401.4" cy="120.2" r="1.62"/>
<circle cx="416.1" cy="122.7" r="1.62"/>
<circle cx="409.1" cy="118.1" r="1.62"/>
<circle cx="421.1" cy="118.1" r="1.62"/>
<circle cx="415.3" cy="110.8" r="1.62"/>
<circle cx="428.8" cy="122.7" r="1.62"/>
<circle cx="422.0" cy="114.2" r="1.62"/>
<circle cx="425.5" cy="120.9" r="1.62"/>
<circle cx="420.6" cy="118.4" r="1.62"/>
<circle cx="441.2" cy="113.8" r="1.62"/>
<circle cx="415.6" cy="110.5" r="1.62"/>
<circle cx="413.8" cy="115.4" r="1.62"/>
<circle cx="410.4" cy="115.6" r="1.62"/>
<circle cx="446.2" cy="117.7" r="1.62"/>
<circle cx="421.4" cy="127.7" r="1.62"/>
<circle cx="422.1" cy="111.2" r="1.62"/>
<circle cx="428.1" cy="114.6" r="1.62"/>
<circle cx="444.2" cy="113.3" r="1.62"/>
<circle cx="415.3" cy="111.8" r="1.62"/>
<circle cx="424.1" cy="114.2" r="1.62"/>
<circle cx="422.0" cy="116.9" r="1.62"/>
<circle cx="414.9" cy="122.5" r="1.62"/>
<circle cx="435.0" cy="118.8" r="1.62"/>
<circle cx="411.1" cy="114.0" r="1.62"/>
<circle cx="416.9" cy="115.2" r="1.62"/>
<circle cx="413.8" cy="113.9" r="1.62"/>
<circle cx="410.2" cy="117.6" r="1.62"/>
<circle cx="441.5" cy="118.5" r="1.62"/>
<circle cx="416.2" cy="111.7" r="1.62"/>
<circle cx="425.6" cy="118.4" r="1.62"/>
<circle cx="406.9" cy="113.9" r="1.62"/>
<circle cx="422.3" cy="122.8" r="1.62"/>
<circle cx="431.0" cy="119.4" r="1.62"/>
<circle cx="418.6" cy="119.8" r="1.62"/>
<circle cx="422.7" cy="127.6" r="1.62"/>
<circle cx="408.1" cy="117.0" r="1.62"/>
<circle cx="439.3" cy="117.4" r="1.62"/>
<circle cx="441.4" cy="118.3" r="1.62"/>
<circle cx="424.7" cy="116.9" r="1.62"/>
<circle cx="404.9" cy="114.4" r="1.62"/>
<circle cx="430.7" cy="122.5" r="1.62"/>
<circle cx="430.2" cy="122.8" r="1.62"/>
<circle cx="419.4" cy="117.6" r="1.62"/>
<circle cx="435.6" cy="117.0" r="1.62"/>
<circle cx="405.6" cy="117.6" r="1.62"/>
<circle cx="415.8" cy="121.1" r="1.62"/>
<circle cx="413.5" cy="114.0" r="1.62"/>
<circle cx="418.5" cy="125.0" r="1.62"/>
<circle cx="422.2" cy="119.2" r="1.62"/>
<circle cx="423.0" cy="119.7" r="1.62"/>
<circle cx="434.9" cy="124.4" r="1.62"/>
<circle cx="401.5" cy="124.2" r="1.62"/>
<circle cx="422.8" cy="117.2" r="1.62"/>
<circle cx="448.1" cy="122.6" r="1.62"/>
<circle cx="409.5" cy="120.6" r="1.62"/>
<circle cx="432.4" cy="118.0" r="1.62"/>
<circle cx="392.6" cy="117.1" r="1.62"/>
<circle cx="420.4" cy="113.8" r="1.62"/>
<circle cx="446.6" cy="117.5" r="1.62"/>
<circle cx="417.7" cy="117.2" r="1.62"/>
<circle cx="412.7" cy="115.2" r="1.62"/>
<circle cx="424.1" cy="119.8" r="1.62"/>
<circle cx="416.3" cy="118.1" r="1.62"/>
<circle cx="404.8" cy="120.7" r="1.62"/>
<circle cx="413.1" cy="119.4" r="1.62"/>
<circle cx="411.1" cy="116.3" r="1.62"/>
<circle cx="425.6" cy="113.4" r="1.62"/>
<circle cx="421.9" cy="115.4" r="1.62"/>
<circle cx="443.6" cy="124.3" r="1.62"/>
<circle cx="426.7" cy="112.8" r="1.62"/>
<circle cx="416.3" cy="121.1" r="1.62"/>
<circle cx="416.2" cy="113.5" r="1.62"/>
<circle cx="407.4" cy="115.3" r="1.62"/>
<circle cx="423.0" cy="115.8" r="1.62"/>
<circle cx="445.9" cy="114.1" r="1.62"/>
<circle cx="427.3" cy="118.9" r="1.62"/>
<circle cx="421.1" cy="122.9" r="1.62"/>
<circle cx="418.5" cy="117.1" r="1.62"/>
<circle cx="418.0" cy="118.1" r="1.62"/>
<circle cx="439.6" cy="121.8" r="1.62"/>
<circle cx="405.4" cy="116.6" r="1.62"/>
<circle cx="412.5" cy="121.9" r="1.62"/>
<circle cx="425.8" cy="122.2" r="1.62"/>
<circle cx="422.0" cy="110.5" r="1.62"/>
<circle cx="428.7" cy="119.5" r="1.62"/>
<circle cx="429.5" cy="113.0" r="1.62"/>
<circle cx="423.9" cy="115.6" r="1.62"/>
<circle cx="413.9" cy="120.0" r="1.62"/>
<circle cx="427.4" cy="114.8" r="1.62"/>
<circle cx="415.4" cy="123.2" r="1.62"/>
<circle cx="422.1" cy="109.0" r="1.62"/>
<circle cx="411.6" cy="120.3" r="1.62"/>
<circle cx="444.6" cy="123.4" r="1.62"/>
<circle cx="427.6" cy="119.3" r="1.62"/>
<circle cx="409.1" cy="116.6" r="1.62"/>
<circle cx="418.5" cy="115.2" r="1.62"/>
<circle cx="423.7" cy="116.9" r="1.62"/>
<circle cx="427.2" cy="124.5" r="1.62"/>
<circle cx="432.5" cy="120.3" r="1.62"/>
<circle cx="419.7" cy="112.1" r="1.62"/>
<circle cx="421.4" cy="120.8" r="1.62"/>
<circle cx="409.7" cy="123.8" r="1.62"/>
<circle cx="418.5" cy="120.1" r="1.62"/>
<circle cx="418.6" cy="113.2" r="1.62"/>
<circle cx="449.7" cy="113.6" r="1.62"/>
<circle cx="434.8" cy="116.2" r="1.62"/>
<circle cx="426.5" cy="115.1" r="1.62"/>
<circle cx="417.4" cy="122.4" r="1.62"/>
<circle cx="448.1" cy="114.9" r="1.62"/>
<circle cx="423.0" cy="122.5" r="1.62"/>
<circle cx="414.6" cy="121.5" r="1.62"/>
<circle cx="412.6" cy="121.0" r="1.62"/>
<circle cx="428.5" cy="123.6" r="1.62"/>
<circle cx="427.6" cy="113.5" r="1.62"/>
<circle cx="431.5" cy="113.9" r="1.62"/>
<circle cx="432.6" cy="124.8" r="1.62"/>
<circle cx="430.6" cy="116.2" r="1.62"/>
<circle cx="438.4" cy="119.2" r="1.62"/>
<circle cx="406.7" cy="117.0" r="1.62"/>
<circle cx="441.3" cy="117.2" r="1.62"/>
<circle cx="424.4" cy="117.1" r="1.62"/>
<circle cx="400.9" cy="116.4" r="1.62"/>
<circle cx="427.5" cy="119.4" r="1.62"/>
<circle cx="420.6" cy="109.5" r="1.62"/>
<circle cx="438.7" cy="121.5" r="1.62"/>
<circle cx="436.2" cy="124.0" r="1.62"/>
<circle cx="417.1" cy="116.0" r="1.62"/>
<circle cx="426.9" cy="125.5" r="1.62"/>
<circle cx="400.9" cy="117.5" r="1.62"/>
<circle cx="413.6" cy="120.8" r="1.62"/>
<circle cx="441.9" cy="117.3" r="1.62"/>
<circle cx="406.7" cy="118.7" r="1.62"/>
<circle cx="419.1" cy="112.0" r="1.62"/>
<circle cx="434.4" cy="116.3" r="1.62"/>
<circle cx="431.7" cy="113.0" r="1.62"/>
<circle cx="437.1" cy="112.4" r="1.62"/>
<circle cx="436.5" cy="110.9" r="1.62"/>
<circle cx="440.8" cy="116.9" r="1.62"/>
<circle cx="402.6" cy="117.5" r="1.62"/>
<circle cx="427.2" cy="114.3" r="1.62"/>
<circle cx="387.0" cy="165.6" r="1.62"/>
<circle cx="388.8" cy="166.4" r="1.62"/>
<circle cx="409.2" cy="169.3" r="1.62"/>
<circle cx="381.5" cy="177.1" r="1.62"/>
<circle cx="423.3" cy="165.9" r="1.62"/>
<circle cx="431.2" cy="169.1" r="1.62"/>
<circle cx="403.7" cy="161.2" r="1.62"/>
<circle cx="429.5" cy="166.4" r="1.62"/>
<circle cx="347.9" cy="158.8" r="1.62"/>
<circle cx="413.9" cy="164.8" r="1.62"/>
<circle cx="408.7" cy="167.5" r="1.62"/>
<circle cx="404.9" cy="172.2" r="1.62"/>
<circle cx="384.3" cy="162.3" r="1.62"/>
<circle cx="409.9" cy="168.0" r="1.62"/>
<circle cx="422.9" cy="171.7" r="1.62"/>
<circle cx="387.5" cy="170.1" r="1.62"/>
<circle cx="413.9" cy="159.1" r="1.62"/>
<circle cx="397.0" cy="174.7" r="1.62"/>
<circle cx="422.8" cy="162.0" r="1.62"/>
<circle cx="381.2" cy="164.7" r="1.62"/>
<circle cx="409.6" cy="159.6" r="1.62"/>
<circle cx="367.6" cy="163.3" r="1.62"/>
<circle cx="389.5" cy="161.2" r="1.62"/>
<circle cx="432.5" cy="164.7" r="1.62"/>
<circle cx="366.3" cy="170.7" r="1.62"/>
<circle cx="392.1" cy="157.7" r="1.62"/>
<circle cx="409.8" cy="166.7" r="1.62"/>
<circle cx="391.4" cy="167.8" r="1.62"/>
<circle cx="423.8" cy="159.9" r="1.62"/>
<circle cx="397.3" cy="170.5" r="1.62"/>
<circle cx="428.9" cy="171.3" r="1.62"/>
<circle cx="430.4" cy="156.7" r="1.62"/>
<circle cx="420.1" cy="166.3" r="1.62"/>
<circle cx="398.2" cy="162.1" r="1.62"/>
<circle cx="369.6" cy="165.0" r="1.62"/>
<circle cx="436.6" cy="162.5" r="1.62"/>
<circle cx="415.7" cy="161.0" r="1.62"/>
<circle cx="408.0" cy="159.3" r="1.62"/>
<circle cx="411.4" cy="163.2" r="1.62"/>
<circle cx="409.7" cy="161.3" r="1.62"/>
<circle cx="367.9" cy="162.7" r="1.62"/>
<circle cx="429.9" cy="172.2" r="1.62"/>
<circle cx="391.8" cy="168.3" r="1.62"/>
<circle cx="422.1" cy="166.3" r="1.62"/>
<circle cx="357.4" cy="165.9" r="1.62"/>
<circle cx="373.7" cy="170.2" r="1.62"/>
<circle cx="422.9" cy="167.4" r="1.62"/>
<circle cx="420.4" cy="157.9" r="1.62"/>
<circle cx="428.0" cy="164.7" r="1.62"/>
<circle cx="395.7" cy="160.7" r="1.62"/>
<circle cx="372.3" cy="162.1" r="1.62"/>
<circle cx="406.7" cy="161.1" r="1.62"/>
<circle cx="383.6" cy="161.5" r="1.62"/>
<circle cx="376.0" cy="168.7" r="1.62"/>
<circle cx="393.3" cy="168.6" r="1.62"/>
<circle cx="368.5" cy="168.9" r="1.62"/>
<circle cx="400.1" cy="167.6" r="1.62"/>
<circle cx="397.9" cy="159.9" r="1.62"/>
<circle cx="434.7" cy="162.1" r="1.62"/>
<circle cx="396.7" cy="159.9" r="1.62"/>
<circle cx="406.6" cy="162.4" r="1.62"/>
<circle cx="408.7" cy="166.0" r="1.62"/>
<circle cx="381.6" cy="157.2" r="1.62"/>
<circle cx="413.0" cy="168.9" r="1.62"/>
<circle cx="420.3" cy="158.6" r="1.62"/>
<circle cx="417.8" cy="166.2" r="1.62"/>
<circle cx="408.8" cy="166.4" r="1.62"/>
<circle cx="391.8" cy="165.4" r="1.62"/>
<circle cx="426.8" cy="161.8" r="1.62"/>
<circle cx="360.5" cy="163.8" r="1.62"/>
<circle cx="406.3" cy="155.1" r="1.62"/>
<circle cx="381.9" cy="167.2" r="1.62"/>
<circle cx="396.6" cy="164.8" r="1.62"/>
<circle cx="365.6" cy="168.8" r="1.62"/>
<circle cx="450.0" cy="163.3" r="1.62"/>
<circle cx="380.3" cy="158.5" r="1.62"/>
<circle cx="425.8" cy="164.8" r="1.62"/>
<circle cx="378.6" cy="170.4" r="1.62"/>
<circle cx="422.3" cy="167.3" r="1.62"/>
<circle cx="351.6" cy="163.8" r="1.62"/>
<circle cx="418.4" cy="158.2" r="1.62"/>
<circle cx="426.9" cy="171.5" r="1.62"/>
<circle cx="429.8" cy="160.7" r="1.62"/>
<circle cx="381.0" cy="169.0" r="1.62"/>
<circle cx="428.7" cy="170.4" r="1.62"/>
<circle cx="434.5" cy="163.8" r="1.62"/>
<circle cx="389.4" cy="155.0" r="1.62"/>
<circle cx="422.8" cy="175.7" r="1.62"/>
<circle cx="387.9" cy="161.9" r="1.62"/>
<circle cx="419.0" cy="166.2" r="1.62"/>
<circle cx="362.5" cy="160.7" r="1.62"/>
<circle cx="370.1" cy="174.4" r="1.62"/>
<circle cx="380.8" cy="168.6" r="1.62"/>
<circle cx="440.8" cy="172.4" r="1.62"/>
<circle cx="366.3" cy="162.6" r="1.62"/>
<circle cx="380.5" cy="162.8" r="1.62"/>
<circle cx="416.5" cy="158.1" r="1.62"/>
<circle cx="438.3" cy="170.8" r="1.62"/>
<circle cx="386.5" cy="174.6" r="1.62"/>
<circle cx="402.9" cy="170.8" r="1.62"/>
<circle cx="409.6" cy="161.5" r="1.62"/>
<circle cx="390.2" cy="163.7" r="1.62"/>
<circle cx="418.1" cy="164.9" r="1.62"/>
<circle cx="387.8" cy="160.7" r="1.62"/>
<circle cx="379.1" cy="157.1" r="1.62"/>
<circle cx="373.3" cy="168.8" r="1.62"/>
<circle cx="402.5" cy="163.4" r="1.62"/>
<circle cx="410.7" cy="169.6" r="1.62"/>
<circle cx="418.1" cy="168.2" r="1.62"/>
<circle cx="385.2" cy="163.0" r="1.62"/>
<circle cx="379.1" cy="163.8" r="1.62"/>
<circle cx="378.0" cy="162.4" r="1.62"/>
<circle cx="396.0" cy="163.2" r="1.62"/>
<circle cx="393.4" cy="161.8" r="1.62"/>
<circle cx="437.5" cy="162.6" r="1.62"/>
<circle cx="372.5" cy="165.3" r="1.62"/>
<circle cx="370.4" cy="158.9" r="1.62"/>
<circle cx="403.2" cy="156.0" r="1.62"/>
<circle cx="429.8" cy="155.9" r="1.62"/>
<circle cx="375.7" cy="167.2" r="1.62"/>
<circle cx="345.2" cy="159.9" r="1.62"/>
<circle cx="367.1" cy="163.3" r="1.62"/>
<circle cx="345.6" cy="168.8" r="1.62"/>
<circle cx="396.8" cy="165.8" r="1.62"/>
<circle cx="391.7" cy="153.7" r="1.62"/>
<circle cx="396.6" cy="157.6" r="1.62"/>
<circle cx="401.1" cy="160.0" r="1.62"/>
<circle cx="392.0" cy="163.2" r="1.62"/>
<circle cx="422.5" cy="168.1" r="1.62"/>
<circle cx="372.7" cy="164.2" r="1.62"/>
<circle cx="441.7" cy="166.8" r="1.62"/>
<circle cx="380.4" cy="163.7" r="1.62"/>
<circle cx="391.1" cy="169.0" r="1.62"/>
<circle cx="401.8" cy="166.2" r="1.62"/>
<circle cx="372.5" cy="155.6" r="1.62"/>
<circle cx="356.3" cy="168.6" r="1.62"/>
<circle cx="409.0" cy="172.5" r="1.62"/>
<circle cx="345.6" cy="159.9" r="1.62"/>
<circle cx="441.3" cy="169.4" r="1.62"/>
<circle cx="425.6" cy="168.7" r="1.62"/>
<circle cx="401.8" cy="164.2" r="1.62"/>
<circle cx="401.8" cy="168.5" r="1.62"/>
<circle cx="396.3" cy="165.9" r="1.62"/>
<circle cx="441.5" cy="158.7" r="1.62"/>
<circle cx="379.8" cy="167.1" r="1.62"/>
<circle cx="393.5" cy="163.5" r="1.62"/>
<circle cx="389.2" cy="169.8" r="1.62"/>
<circle cx="382.1" cy="164.9" r="1.62"/>
<circle cx="383.0" cy="175.2" r="1.62"/>
<circle cx="415.6" cy="162.3" r="1.62"/>
<circle cx="414.6" cy="160.3" r="1.62"/>
<circle cx="383.9" cy="164.8" r="1.62"/>
<circle cx="412.6" cy="171.1" r="1.62"/>
<circle cx="421.6" cy="173.9" r="1.62"/>
<circle cx="413.5" cy="165.0" r="1.62"/>
<circle cx="397.2" cy="160.0" r="1.62"/>
<circle cx="446.6" cy="158.4" r="1.62"/>
<circle cx="397.4" cy="161.7" r="1.62"/>
<circle cx="378.9" cy="153.2" r="1.62"/>
<circle cx="390.2" cy="165.0" r="1.62"/>
<circle cx="404.9" cy="168.5" r="1.62"/>
<circle cx="396.3" cy="161.1" r="1.62"/>
<circle cx="409.5" cy="167.6" r="1.62"/>
<circle cx="375.5" cy="156.7" r="1.62"/>
<circle cx="372.1" cy="169.6" r="1.62"/>
<circle cx="428.8" cy="159.9" r="1.62"/>
<circle cx="404.0" cy="168.5" r="1.62"/>
<circle cx="438.1" cy="161.0" r="1.62"/>
<circle cx="394.1" cy="171.3" r="1.62"/>
<circle cx="368.9" cy="166.5" r="1.62"/>
<circle cx="392.5" cy="164.0" r="1.62"/>
<circle cx="382.3" cy="161.9" r="1.62"/>
<circle cx="400.6" cy="173.3" r="1.62"/>
<circle cx="420.4" cy="166.4" r="1.62"/>
<circle cx="401.6" cy="160.5" r="1.62"/>
<circle cx="394.4" cy="170.5" r="1.62"/>
<circle cx="424.1" cy="174.1" r="1.62"/>
<circle cx="408.2" cy="164.2" r="1.62"/>
<circle cx="355.5" cy="166.3" r="1.62"/>
<circle cx="352.6" cy="171.9" r="1.62"/>
<circle cx="383.2" cy="164.3" r="1.62"/>
<circle cx="363.0" cy="161.8" r="1.62"/>
<circle cx="374.8" cy="170.0" r="1.62"/>
<circle cx="407.8" cy="158.4" r="1.62"/>
<circle cx="346.8" cy="164.0" r="1.62"/>
<circle cx="387.2" cy="158.7" r="1.62"/>
<circle cx="417.4" cy="163.4" r="1.62"/>
<circle cx="404.0" cy="161.3" r="1.62"/>
<circle cx="384.9" cy="162.0" r="1.62"/>
<circle cx="356.0" cy="167.4" r="1.62"/>
<circle cx="412.1" cy="155.7" r="1.62"/>
<circle cx="403.7" cy="170.1" r="1.62"/>
<circle cx="407.5" cy="170.8" r="1.62"/>
<circle cx="393.3" cy="164.3" r="1.62"/>
<circle cx="364.5" cy="159.8" r="1.62"/>
<circle cx="349.8" cy="159.8" r="1.62"/>
<circle cx="407.7" cy="166.9" r="1.62"/>
<circle cx="433.4" cy="165.0" r="1.62"/>
<circle cx="373.1" cy="166.5" r="1.62"/>
<circle cx="396.8" cy="173.2" r="1.62"/>
<circle cx="369.0" cy="161.7" r="1.62"/>
<circle cx="406.2" cy="160.7" r="1.62"/>
<circle cx="415.5" cy="167.7" r="1.62"/>
<circle cx="424.3" cy="165.4" r="1.62"/>
<circle cx="376.1" cy="160.1" r="1.62"/>
<circle cx="397.4" cy="170.9" r="1.62"/>
<circle cx="444.9" cy="169.2" r="1.62"/>
<circle cx="411.0" cy="167.7" r="1.62"/>
<circle cx="423.9" cy="170.8" r="1.62"/>
<circle cx="424.8" cy="156.6" r="1.62"/>
<circle cx="427.5" cy="166.2" r="1.62"/>
<circle cx="388.0" cy="166.9" r="1.62"/>
<circle cx="408.9" cy="164.0" r="1.62"/>
<circle cx="353.6" cy="164.9" r="1.62"/>
<circle cx="416.4" cy="164.1" r="1.62"/>
<circle cx="356.4" cy="166.6" r="1.62"/>
<circle cx="421.0" cy="165.2" r="1.62"/>
<circle cx="412.8" cy="162.5" r="1.62"/>
<circle cx="382.4" cy="166.9" r="1.62"/>
<circle cx="390.9" cy="165.2" r="1.62"/>
<circle cx="404.6" cy="156.2" r="1.62"/>
<circle cx="403.5" cy="168.1" r="1.62"/>
<circle cx="381.1" cy="163.1" r="1.62"/>
<circle cx="384.2" cy="167.7" r="1.62"/>
<circle cx="439.1" cy="163.5" r="1.62"/>
<circle cx="428.4" cy="165.6" r="1.62"/>
<circle cx="395.1" cy="162.9" r="1.62"/>
<circle cx="377.0" cy="170.7" r="1.62"/>
<circle cx="425.5" cy="159.3" r="1.62"/>
<circle cx="424.4" cy="160.7" r="1.62"/>
<circle cx="358.7" cy="170.3" r="1.62"/>
<circle cx="365.0" cy="170.2" r="1.62"/>
<circle cx="406.4" cy="168.8" r="1.62"/>
<circle cx="415.2" cy="170.1" r="1.62"/>
<circle cx="410.6" cy="167.2" r="1.62"/>
<circle cx="407.8" cy="169.8" r="1.62"/>
<circle cx="389.9" cy="169.4" r="1.62"/>
<circle cx="443.0" cy="164.0" r="1.62"/>
<circle cx="413.2" cy="161.7" r="1.62"/>
<circle cx="392.8" cy="165.6" r="1.62"/>
<circle cx="391.3" cy="159.9" r="1.62"/>
<circle cx="400.0" cy="165.3" r="1.62"/>
<circle cx="409.9" cy="167.9" r="1.62"/>
<circle cx="351.2" cy="171.4" r="1.62"/>
<circle cx="396.0" cy="160.4" r="1.62"/>
<circle cx="390.5" cy="166.5" r="1.62"/>
<circle cx="425.2" cy="162.5" r="1.62"/>
<circle cx="405.3" cy="156.3" r="1.62"/>
<circle cx="405.6" cy="163.7" r="1.62"/>
<circle cx="388.8" cy="168.7" r="1.62"/>
<circle cx="379.0" cy="171.9" r="1.62"/>
<circle cx="391.5" cy="164.1" r="1.62"/>
<circle cx="384.6" cy="166.6" r="1.62"/>
<circle cx="416.3" cy="165.0" r="1.62"/>
<circle cx="395.0" cy="163.6" r="1.62"/>
<circle cx="389.6" cy="169.2" r="1.62"/>
<circle cx="386.3" cy="163.6" r="1.62"/>
<circle cx="395.0" cy="160.6" r="1.62"/>
<circle cx="394.5" cy="157.0" r="1.62"/>
<circle cx="412.3" cy="167.0" r="1.62"/>
<circle cx="392.5" cy="172.1" r="1.62"/>
<circle cx="377.9" cy="167.1" r="1.62"/>
<circle cx="414.2" cy="161.6" r="1.62"/>
<circle cx="394.1" cy="168.7" r="1.62"/>
<circle cx="402.6" cy="165.7" r="1.62"/>
<circle cx="439.9" cy="165.4" r="1.62"/>
<circle cx="354.2" cy="160.6" r="1.62"/>
<circle cx="424.1" cy="163.7" r="1.62"/>
<circle cx="370.8" cy="154.5" r="1.62"/>
<circle cx="409.9" cy="171.8" r="1.62"/>
<circle cx="365.9" cy="153.5" r="1.62"/>
<circle cx="414.7" cy="161.6" r="1.62"/>
<circle cx="392.7" cy="162.7" r="1.62"/>
<circle cx="375.7" cy="166.5" r="1.62"/>
<circle cx="426.4" cy="166.1" r="1.62"/>
<circle cx="385.4" cy="169.5" r="1.62"/>
<circle cx="397.8" cy="167.2" r="1.62"/>
<circle cx="374.8" cy="167.6" r="1.62"/>
<circle cx="421.5" cy="170.7" r="1.62"/>
<circle cx="401.6" cy="166.5" r="1.62"/>
<circle cx="384.8" cy="168.7" r="1.62"/>
<circle cx="422.5" cy="169.7" r="1.62"/>
<circle cx="390.2" cy="158.2" r="1.62"/>
<circle cx="399.0" cy="163.3" r="1.62"/>
<circle cx="380.2" cy="167.3" r="1.62"/>
<circle cx="427.2" cy="166.3" r="1.62"/>
<circle cx="431.7" cy="166.3" r="1.62"/>
<circle cx="373.8" cy="161.4" r="1.62"/>
<circle cx="391.1" cy="167.7" r="1.62"/>
<circle cx="426.4" cy="165.0" r="1.62"/>
<circle cx="429.0" cy="160.2" r="1.62"/>
<circle cx="397.7" cy="171.7" r="1.62"/>
<circle cx="413.2" cy="169.5" r="1.62"/>
<circle cx="348.7" cy="156.1" r="1.62"/>
<circle cx="377.0" cy="169.3" r="1.62"/>
<circle cx="445.8" cy="161.3" r="1.62"/>
<circle cx="373.7" cy="159.3" r="1.62"/>
<circle cx="376.3" cy="167.1" r="1.62"/>
<circle cx="392.2" cy="173.6" r="1.62"/>
<circle cx="420.8" cy="160.9" r="1.62"/>
<circle cx="407.4" cy="163.6" r="1.62"/>
<circle cx="422.7" cy="168.8" r="1.62"/>
<circle cx="391.3" cy="168.7" r="1.62"/>
<circle cx="416.6" cy="163.9" r="1.62"/>
<circle cx="408.0" cy="167.7" r="1.62"/>
<circle cx="392.2" cy="161.0" r="1.62"/>
<circle cx="435.9" cy="164.3" r="1.62"/>
<circle cx="384.6" cy="166.6" r="1.62"/>
<circle cx="360.3" cy="164.6" r="1.62"/>
<circle cx="363.4" cy="162.2" r="1.62"/>
<circle cx="336.9" cy="133.8" r="1.62"/>
<circle cx="339.2" cy="133.8" r="1.62"/>
<circle cx="341.5" cy="133.9" r="1.62"/>
<circle cx="343.8" cy="134.0" r="1.62"/>
<circle cx="346.1" cy="133.8" r="1.62"/>
<circle cx="348.4" cy="134.0" r="1.62"/>
<circle cx="350.6" cy="133.4" r="1.62"/>
<circle cx="352.9" cy="133.7" r="1.62"/>
<circle cx="355.2" cy="134.0" r="1.62"/>
<circle cx="357.6" cy="133.8" r="1.62"/>
<circle cx="359.9" cy="133.9" r="1.62"/>
<circle cx="362.1" cy="133.5" r="1.62"/>
<circle cx="364.4" cy="133.7" r="1.62"/>
<circle cx="366.8" cy="133.5" r="1.62"/>
<circle cx="369.0" cy="133.7" r="1.62"/>
<circle cx="371.3" cy="133.7" r="1.62"/>
<circle cx="373.6" cy="133.4" r="1.62"/>
<circle cx="375.9" cy="133.5" r="1.62"/>
<circle cx="378.2" cy="133.6" r="1.62"/>
<circle cx="380.5" cy="133.9" r="1.62"/>
<circle cx="382.8" cy="133.9" r="1.62"/>
<circle cx="385.1" cy="133.5" r="1.62"/>
<circle cx="387.4" cy="133.9" r="1.62"/>
<circle cx="389.7" cy="133.5" r="1.62"/>
<circle cx="392.0" cy="133.8" r="1.62"/>
<circle cx="394.3" cy="133.5" r="1.62"/>
<circle cx="396.6" cy="133.4" r="1.62"/>
<circle cx="398.9" cy="133.9" r="1.62"/>
<circle cx="401.2" cy="133.5" r="1.62"/>
<circle cx="403.5" cy="133.5" r="1.62"/>
<circle cx="405.8" cy="134.0" r="1.62"/>
<circle cx="408.1" cy="133.9" r="1.62"/>
<circle cx="410.4" cy="133.6" r="1.62"/>
<circle cx="412.8" cy="134.0" r="1.62"/>
<circle cx="415.1" cy="133.7" r="1.62"/>
<circle cx="417.4" cy="133.8" r="1.62"/>
<circle cx="419.7" cy="133.5" r="1.62"/>
<circle cx="422.0" cy="134.0" r="1.62"/>
<circle cx="424.3" cy="133.8" r="1.62"/>
<circle cx="426.6" cy="134.0" r="1.62"/>
<circle cx="428.9" cy="133.9" r="1.62"/>
<circle cx="431.2" cy="133.6" r="1.62"/>
<circle cx="433.5" cy="133.6" r="1.62"/>
<circle cx="435.8" cy="133.5" r="1.62"/>
<circle cx="438.1" cy="133.5" r="1.62"/>
<circle cx="440.4" cy="133.4" r="1.62"/>
<circle cx="442.7" cy="133.6" r="1.62"/>
<circle cx="445.0" cy="133.8" r="1.62"/>
<circle cx="447.3" cy="133.4" r="1.62"/>
<circle cx="449.6" cy="133.8" r="1.62"/>
<circle cx="451.9" cy="133.6" r="1.62"/>
<circle cx="454.2" cy="133.6" r="1.62"/>
<circle cx="456.5" cy="133.9" r="1.62"/>
<circle cx="458.8" cy="133.7" r="1.62"/>
<circle cx="461.1" cy="133.6" r="1.62"/>
<circle cx="463.4" cy="133.7" r="1.62"/>
<circle cx="465.7" cy="133.8" r="1.62"/>
<circle cx="468.0" cy="133.4" r="1.62"/>
<circle cx="470.3" cy="134.0" r="1.62"/>
<circle cx="472.6" cy="133.4" r="1.62"/>
<circle cx="474.9" cy="133.8" r="1.62"/>
<circle cx="477.2" cy="133.9" r="1.62"/>
<circle cx="479.5" cy="133.4" r="1.62"/>
<circle cx="481.8" cy="133.9" r="1.62"/>
<circle cx="484.1" cy="133.6" r="1.62"/>
<circle cx="486.4" cy="133.7" r="1.62"/>
<circle cx="488.7" cy="133.4" r="1.62"/>
<circle cx="491.0" cy="133.4" r="1.62"/>
<circle cx="493.3" cy="133.5" r="1.62"/>
<circle cx="495.6" cy="134.0" r="1.62"/>
<circle cx="497.9" cy="133.5" r="1.62"/>
<circle cx="500.2" cy="133.9" r="1.62"/>
<circle cx="502.5" cy="134.0" r="1.62"/>
<circle cx="504.8" cy="134.0" r="1.62"/>
<circle cx="507.1" cy="133.6" r="1.62"/>
<circle cx="509.4" cy="133.6" r="1.62"/>
<circle cx="511.7" cy="133.7" r="1.62"/>
<circle cx="514.0" cy="133.9" r="1.62"/>
<circle cx="516.3" cy="133.5" r="1.62"/>
<circle cx="518.6" cy="133.8" r="1.62"/>
<circle cx="520.9" cy="133.9" r="1.62"/>
<circle cx="523.2" cy="133.9" r="1.62"/>
<circle cx="525.5" cy="133.4" r="1.62"/>
<circle cx="527.8" cy="134.0" r="1.62"/>
<circle cx="530.1" cy="133.5" r="1.62"/>
<circle cx="315.2" cy="133.7" r="1.62"/>
<circle cx="322.5" cy="133.7" r="1.62"/>
<circle cx="325.1" cy="133.7" r="1.62"/>
<circle cx="329.5" cy="133.7" r="1.62"/>
<circle cx="332.4" cy="133.7" r="1.62"/>
</g>
<g fill="#00f994">
<circle cx="377.4" cy="89.9" r="1.62"/>
<circle cx="377.4" cy="105.6" r="1.62"/>
<circle cx="354.3" cy="128.1" r="1.62"/>
<circle cx="370.8" cy="124.2" r="1.62"/>
<circle cx="373.1" cy="127.6" r="1.62"/>
<circle cx="381.5" cy="119.5" r="1.62"/>
<circle cx="400.8" cy="66.6" r="1.62"/>
<circle cx="429.6" cy="70.0" r="1.62"/>
<circle cx="439.9" cy="68.9" r="1.62"/>
<circle cx="460.4" cy="74.8" r="1.62"/>
<circle cx="426.7" cy="82.5" r="1.62"/>
<circle cx="427.0" cy="85.4" r="1.62"/>
<circle cx="429.6" cy="86.6" r="1.62"/>
<circle cx="429.9" cy="89.5" r="1.62"/>
<circle cx="429.6" cy="92.0" r="1.62"/>
<circle cx="427.0" cy="93.5" r="1.62"/>
<circle cx="435.1" cy="92.0" r="1.62"/>
<circle cx="439.9" cy="91.0" r="1.62"/>
<circle cx="452.0" cy="92.0" r="1.62"/>
<circle cx="393.1" cy="89.5" r="1.62"/>
<circle cx="422.3" cy="95.0" r="1.62"/>
<circle cx="460.1" cy="94.5" r="1.62"/>
<circle cx="483.1" cy="59.7" r="1.62"/>
<circle cx="523.4" cy="62.6" r="1.62"/>
<circle cx="464.0" cy="67.5" r="1.62"/>
<circle cx="479.3" cy="85.4" r="1.62"/>
<circle cx="500.8" cy="84.2" r="1.62"/>
<circle cx="490.4" cy="87.6" r="1.62"/>
<circle cx="486.4" cy="28.1" r="1.62"/>
<circle cx="493.7" cy="43.9" r="1.62"/>
<circle cx="422.3" cy="102.2" r="1.62"/>
<circle cx="429.6" cy="96.7" r="1.62"/>
<circle cx="429.6" cy="101.9" r="1.62"/>
<circle cx="433.6" cy="99.7" r="1.62"/>
<circle cx="437.6" cy="101.9" r="1.62"/>
<circle cx="432.1" cy="105.6" r="1.62"/>
<circle cx="440.5" cy="108.9" r="1.62"/>
<circle cx="444.6" cy="109.5" r="1.62"/>
<circle cx="448.3" cy="105.6" r="1.62"/>
<circle cx="452.3" cy="104.1" r="1.62"/>
<circle cx="454.9" cy="106.0" r="1.62"/>
<circle cx="447.6" cy="110.0" r="1.62"/>
<circle cx="444.3" cy="112.5" r="1.62"/>
<circle cx="449.0" cy="115.1" r="1.62"/>
<circle cx="452.3" cy="114.8" r="1.62"/>
<circle cx="401.5" cy="110.4" r="1.62"/>
<circle cx="422.9" cy="110.0" r="1.62"/>
<circle cx="427.0" cy="110.7" r="1.62"/>
<circle cx="398.7" cy="118.4" r="1.62"/>
<circle cx="402.3" cy="118.8" r="1.62"/>
<circle cx="409.3" cy="119.5" r="1.62"/>
<circle cx="407.9" cy="122.5" r="1.62"/>
<circle cx="413.0" cy="121.7" r="1.62"/>
<circle cx="421.4" cy="119.5" r="1.62"/>
<circle cx="422.6" cy="115.9" r="1.62"/>
<circle cx="426.2" cy="122.5" r="1.62"/>
<circle cx="427.0" cy="125.4" r="1.62"/>
<circle cx="432.9" cy="121.7" r="1.62"/>
<circle cx="409.3" cy="127.6" r="1.62"/>
<circle cx="413.7" cy="129.5" r="1.62"/>
<circle cx="419.6" cy="130.6" r="1.62"/>
<circle cx="460.8" cy="115.1" r="1.62"/>
<circle cx="460.8" cy="121.7" r="1.62"/>
<circle cx="429.6" cy="106.3" r="1.62"/>
<circle cx="429.6" cy="109.2" r="1.62"/>
<circle cx="429.6" cy="111.4" r="1.62"/>
<circle cx="429.6" cy="113.6" r="1.62"/>
<circle cx="429.6" cy="115.9" r="1.62"/>
<circle cx="429.6" cy="118.1" r="1.62"/>
<circle cx="429.6" cy="120.3" r="1.62"/>
<circle cx="429.6" cy="122.5" r="1.62"/>
<circle cx="429.6" cy="124.7" r="1.62"/>
<circle cx="429.6" cy="126.9" r="1.62"/>
<circle cx="429.6" cy="129.1" r="1.62"/>
<circle cx="429.6" cy="131.3" r="1.62"/>
<circle cx="427.7" cy="127.6" r="1.62"/>
<circle cx="431.4" cy="129.8" r="1.62"/>
<circle cx="483.1" cy="100.7" r="1.62"/>
<circle cx="483.1" cy="115.4" r="1.62"/>
<circle cx="479.3" cy="118.4" r="1.62"/>
<circle cx="500.8" cy="115.9" r="1.62"/>
<circle cx="468.4" cy="131.3" r="1.62"/>
<circle cx="315.4" cy="141.6" r="1.62"/>
<circle cx="322.4" cy="141.1" r="1.62"/>
<circle cx="335.5" cy="148.1" r="1.62"/>
<circle cx="366.1" cy="138.2" r="1.62"/>
<circle cx="377.4" cy="146.6" r="1.62"/>
<circle cx="354.3" cy="152.2" r="1.62"/>
<circle cx="315.4" cy="159.2" r="1.62"/>
<circle cx="360.5" cy="163.2" r="1.62"/>
<circle cx="366.1" cy="162.5" r="1.62"/>
<circle cx="354.3" cy="167.6" r="1.62"/>
<circle cx="354.3" cy="170.1" r="1.62"/>
<circle cx="374.2" cy="165.1" r="1.62"/>
<circle cx="382.3" cy="151.9" r="1.62"/>
<circle cx="388.0" cy="150.7" r="1.62"/>
<circle cx="393.1" cy="151.4" r="1.62"/>
<circle cx="385.8" cy="155.1" r="1.62"/>
<circle cx="393.1" cy="158.8" r="1.62"/>
<circle cx="385.8" cy="162.5" r="1.62"/>
<circle cx="389.5" cy="163.9" r="1.62"/>
<circle cx="397.6" cy="158.1" r="1.62"/>
<circle cx="404.9" cy="158.8" r="1.62"/>
<circle cx="402.0" cy="162.5" r="1.62"/>
<circle cx="396.8" cy="165.4" r="1.62"/>
<circle cx="403.4" cy="167.6" r="1.62"/>
<circle cx="409.3" cy="163.9" r="1.62"/>
<circle cx="413.7" cy="158.1" r="1.62"/>
<circle cx="418.1" cy="159.5" r="1.62"/>
<circle cx="416.7" cy="163.2" r="1.62"/>
<circle cx="412.3" cy="169.1" r="1.62"/>
<circle cx="385.8" cy="171.3" r="1.62"/>
<circle cx="422.6" cy="167.6" r="1.62"/>
<circle cx="420.4" cy="170.6" r="1.62"/>
<circle cx="397.6" cy="138.9" r="1.62"/>
<circle cx="399.0" cy="141.6" r="1.62"/>
<circle cx="404.2" cy="143.4" r="1.62"/>
<circle cx="408.1" cy="138.2" r="1.62"/>
<circle cx="452.0" cy="158.8" r="1.62"/>
<circle cx="440.9" cy="142.6" r="1.62"/>
<circle cx="444.6" cy="143.4" r="1.62"/>
<circle cx="439.5" cy="149.2" r="1.62"/>
<circle cx="437.3" cy="155.1" r="1.62"/>
<circle cx="447.6" cy="137.5" r="1.62"/>
<circle cx="464.3" cy="137.8" r="1.62"/>
<circle cx="468.4" cy="151.0" r="1.62"/>
<circle cx="472.0" cy="151.0" r="1.62"/>
<circle cx="490.4" cy="155.9" r="1.62"/>
<circle cx="483.1" cy="159.8" r="1.62"/>
<circle cx="513.9" cy="147.5" r="1.62"/>
<circle cx="533.0" cy="143.4" r="1.62"/>
<circle cx="533.0" cy="147.0" r="1.62"/>
<circle cx="464.3" cy="167.6" r="1.62"/>
<circle cx="464.3" cy="172.8" r="1.62"/>
<circle cx="479.3" cy="174.5" r="1.62"/>
<circle cx="315.4" cy="188.5" r="1.62"/>
<circle cx="366.1" cy="182.6" r="1.62"/>
<circle cx="388.0" cy="179.2" r="1.62"/>
<circle cx="418.1" cy="176.7" r="1.62"/>
<circle cx="429.6" cy="177.5" r="1.62"/>
<circle cx="429.6" cy="179.7" r="1.62"/>
<circle cx="429.9" cy="181.1" r="1.62"/>
<circle cx="422.3" cy="184.5" r="1.62"/>
<circle cx="429.6" cy="186.6" r="1.62"/>
<circle cx="429.6" cy="191.4" r="1.62"/>
<circle cx="444.3" cy="183.1" r="1.62"/>
<circle cx="452.0" cy="186.0" r="1.62"/>
<circle cx="448.3" cy="194.8" r="1.62"/>
<circle cx="398.3" cy="199.8" r="1.62"/>
<circle cx="429.6" cy="198.1" r="1.62"/>
<circle cx="388.0" cy="205.1" r="1.62"/>
<circle cx="429.6" cy="207.2" r="1.62"/>
<circle cx="429.6" cy="213.9" r="1.62"/>
<circle cx="448.3" cy="210.6" r="1.62"/>
<circle cx="435.8" cy="176.7" r="1.62"/>
<circle cx="475.8" cy="195.9" r="1.62"/>
<circle cx="468.4" cy="198.4" r="1.62"/>
<circle cx="497.4" cy="210.1" r="1.62"/>
<circle cx="523.4" cy="210.6" r="1.62"/>
<circle cx="533.0" cy="215.7" r="1.62"/>
<circle cx="315.4" cy="233.2" r="1.62"/>
<circle cx="426.7" cy="220.6" r="1.62"/>
<circle cx="413.0" cy="225.9" r="1.62"/>
<circle cx="398.3" cy="231.3" r="1.62"/>
<circle cx="393.1" cy="233.2" r="1.62"/>
<circle cx="417.4" cy="233.2" r="1.62"/>
<circle cx="448.3" cy="233.2" r="1.62"/>
<circle cx="464.3" cy="222.9" r="1.62"/>
<circle cx="472.0" cy="233.2" r="1.62"/>
<circle cx="413.4" cy="169.2" r="1.62"/>
<circle cx="389.5" cy="169.4" r="1.62"/>
<circle cx="419.7" cy="164.8" r="1.62"/>
<circle cx="399.4" cy="158.3" r="1.62"/>
<circle cx="382.6" cy="169.5" r="1.62"/>
<circle cx="391.3" cy="166.2" r="1.62"/>
<circle cx="392.2" cy="167.7" r="1.62"/>
<circle cx="407.1" cy="160.8" r="1.62"/>
<circle cx="388.6" cy="166.4" r="1.62"/>
<circle cx="383.9" cy="160.0" r="1.62"/>
<circle cx="405.5" cy="168.1" r="1.62"/>
<circle cx="407.9" cy="160.6" r="1.62"/>
<circle cx="421.2" cy="159.7" r="1.62"/>
<circle cx="381.6" cy="160.5" r="1.62"/>
<circle cx="400.5" cy="157.8" r="1.62"/>
<circle cx="388.6" cy="161.8" r="1.62"/>
<circle cx="430.7" cy="111.8" r="1.62"/>
<circle cx="422.3" cy="127.7" r="1.62"/>
<circle cx="447.1" cy="122.8" r="1.62"/>
<circle cx="435.5" cy="121.3" r="1.62"/>
<circle cx="413.5" cy="109.7" r="1.62"/>
<circle cx="408.6" cy="128.1" r="1.62"/>
<circle cx="435.9" cy="129.2" r="1.62"/>
<circle cx="408.7" cy="122.4" r="1.62"/>
<circle cx="427.1" cy="124.3" r="1.62"/>
<circle cx="420.6" cy="130.0" r="1.62"/>
<circle cx="410.9" cy="120.5" r="1.62"/>
<circle cx="437.3" cy="127.9" r="1.62"/>
<circle cx="437.3" cy="123.8" r="1.62"/>
<circle cx="439.6" cy="128.2" r="1.62"/>
<circle cx="429.1" cy="122.6" r="1.62"/>
<circle cx="431.1" cy="128.7" r="1.62"/>
<circle cx="429.4" cy="126.1" r="1.62"/>
<circle cx="431.0" cy="118.9" r="1.62"/>
<circle cx="430.1" cy="112.6" r="1.62"/>
<circle cx="429.9" cy="120.1" r="1.62"/>
<circle cx="428.1" cy="121.1" r="1.62"/>
<circle cx="431.4" cy="129.0" r="1.62"/>
<circle cx="430.5" cy="112.8" r="1.62"/>
<circle cx="430.5" cy="119.2" r="1.62"/>
<circle cx="429.4" cy="127.7" r="1.62"/>
<circle cx="428.2" cy="124.8" r="1.62"/>
<circle cx="428.0" cy="119.8" r="1.62"/>
<circle cx="429.6" cy="107.6" r="1.62"/>
<circle cx="430.4" cy="116.4" r="1.62"/>
<circle cx="430.1" cy="130.4" r="1.62"/>
<circle cx="428.8" cy="100.4" r="1.62"/>
<circle cx="428.9" cy="122.4" r="1.62"/>
<circle cx="427.7" cy="143.6" r="1.62"/>
<circle cx="432.2" cy="162.7" r="1.62"/>
<circle cx="429.3" cy="171.8" r="1.62"/>
<circle cx="428.5" cy="163.0" r="1.62"/>
<circle cx="427.7" cy="153.8" r="1.62"/>
<circle cx="431.6" cy="172.7" r="1.62"/>
<circle cx="432.1" cy="152.0" r="1.62"/>
<circle cx="430.2" cy="149.3" r="1.62"/>
<circle cx="427.3" cy="156.4" r="1.62"/>
<circle cx="431.8" cy="170.1" r="1.62"/>
<circle cx="431.0" cy="174.1" r="1.62"/>
<circle cx="428.2" cy="143.6" r="1.62"/>
<circle cx="429.3" cy="147.7" r="1.62"/>
<circle cx="427.8" cy="153.1" r="1.62"/>
<circle cx="430.5" cy="156.3" r="1.62"/>
<circle cx="428.5" cy="169.7" r="1.62"/>
<circle cx="432.7" cy="154.6" r="1.62"/>
<circle cx="426.9" cy="138.2" r="1.62"/>
<circle cx="432.0" cy="138.6" r="1.62"/>
<circle cx="431.0" cy="159.3" r="1.62"/>
<circle cx="428.4" cy="167.9" r="1.62"/>
<circle cx="426.6" cy="142.3" r="1.62"/>
<circle cx="429.4" cy="138.0" r="1.62"/>
<circle cx="431.8" cy="146.3" r="1.62"/>
<circle cx="427.4" cy="138.8" r="1.62"/>
<circle cx="430.5" cy="154.4" r="1.62"/>
<circle cx="430.5" cy="162.5" r="1.62"/>
<circle cx="431.6" cy="174.4" r="1.62"/>
<circle cx="430.8" cy="144.8" r="1.62"/>
<circle cx="429.5" cy="144.0" r="1.62"/>
<circle cx="426.5" cy="155.4" r="1.62"/>
<circle cx="431.0" cy="144.0" r="1.62"/>
<circle cx="428.2" cy="150.5" r="1.62"/>
<circle cx="430.9" cy="157.3" r="1.62"/>
<circle cx="430.4" cy="166.5" r="1.62"/>
<circle cx="429.0" cy="167.9" r="1.62"/>
<circle cx="432.2" cy="140.4" r="1.62"/>
<circle cx="432.4" cy="165.2" r="1.62"/>
<circle cx="427.3" cy="154.7" r="1.62"/>
<circle cx="430.5" cy="172.5" r="1.62"/>
<circle cx="428.9" cy="159.2" r="1.62"/>
<circle cx="432.1" cy="168.1" r="1.62"/>
<circle cx="432.5" cy="155.1" r="1.62"/>
<circle cx="430.6" cy="145.0" r="1.62"/>
<circle cx="431.1" cy="168.9" r="1.62"/>
<circle cx="430.6" cy="165.0" r="1.62"/>
<circle cx="427.8" cy="172.1" r="1.62"/>
<circle cx="432.7" cy="175.1" r="1.62"/>
<circle cx="429.9" cy="167.8" r="1.62"/>
<circle cx="428.5" cy="172.5" r="1.62"/>
<circle cx="431.9" cy="150.6" r="1.62"/>
<circle cx="427.0" cy="154.2" r="1.62"/>
<circle cx="430.0" cy="167.0" r="1.62"/>
<circle cx="429.6" cy="138.1" r="1.62"/>
<circle cx="431.6" cy="139.5" r="1.62"/>
<circle cx="431.6" cy="143.7" r="1.62"/>
<circle cx="428.6" cy="167.7" r="1.62"/>
<circle cx="427.3" cy="142.8" r="1.62"/>
<circle cx="429.8" cy="165.2" r="1.62"/>
<circle cx="431.8" cy="163.9" r="1.62"/>
<circle cx="426.0" cy="147.4" r="1.62"/>
<circle cx="426.1" cy="140.5" r="1.62"/>
<circle cx="415.2" cy="148.0" r="1.62"/>
<circle cx="416.2" cy="151.4" r="1.62"/>
<circle cx="421.4" cy="147.9" r="1.62"/>
<circle cx="424.5" cy="148.5" r="1.62"/>
<circle cx="416.5" cy="145.5" r="1.62"/>
<circle cx="424.5" cy="154.3" r="1.62"/>
<circle cx="415.0" cy="153.5" r="1.62"/>
<circle cx="426.4" cy="147.9" r="1.62"/>
<circle cx="420.4" cy="142.4" r="1.62"/>
<circle cx="419.9" cy="147.6" r="1.62"/>
<circle cx="420.9" cy="139.5" r="1.62"/>
<circle cx="426.4" cy="147.8" r="1.62"/>
<circle cx="417.9" cy="152.6" r="1.62"/>
<circle cx="420.3" cy="147.3" r="1.62"/>
<circle cx="422.2" cy="140.1" r="1.62"/>
<circle cx="419.9" cy="146.0" r="1.62"/>
<circle cx="426.2" cy="154.7" r="1.62"/>
<circle cx="415.9" cy="147.0" r="1.62"/>
<circle cx="413.8" cy="146.4" r="1.62"/>
<circle cx="424.1" cy="154.3" r="1.62"/>
<circle cx="419.0" cy="144.4" r="1.62"/>
<circle cx="414.7" cy="149.5" r="1.62"/>
<circle cx="315.2" cy="133.7" r="1.62"/>
<circle cx="323.9" cy="133.7" r="1.62"/>
<circle cx="335.6" cy="133.7" r="1.62"/>
<circle cx="348.2" cy="133.7" r="1.62"/>
<circle cx="354.9" cy="133.7" r="1.62"/>
<circle cx="360.5" cy="133.7" r="1.62"/>
<circle cx="366.4" cy="133.7" r="1.62"/>
<circle cx="372.4" cy="133.7" r="1.62"/>
<circle cx="377.4" cy="133.7" r="1.62"/>
<circle cx="382.9" cy="133.7" r="1.62"/>
<circle cx="388.9" cy="133.7" r="1.62"/>
<circle cx="393.9" cy="133.7" r="1.62"/>
<circle cx="398.9" cy="133.7" r="1.62"/>
<circle cx="403.9" cy="133.7" r="1.62"/>
<circle cx="408.9" cy="133.7" r="1.62"/>
<circle cx="412.9" cy="133.7" r="1.62"/>
<circle cx="416.9" cy="133.7" r="1.62"/>
<circle cx="420.9" cy="133.7" r="1.62"/>
<circle cx="423.9" cy="133.7" r="1.62"/>
<circle cx="426.4" cy="133.7" r="1.62"/>
<circle cx="428.9" cy="133.8" r="1.62"/>
<circle cx="434.1" cy="134.0" r="1.62"/>
<circle cx="436.6" cy="133.6" r="1.62"/>
<circle cx="439.2" cy="133.5" r="1.62"/>
<circle cx="441.9" cy="133.5" r="1.62"/>
<circle cx="444.4" cy="134.0" r="1.62"/>
<circle cx="447.0" cy="133.4" r="1.62"/>
<circle cx="452.2" cy="133.6" r="1.62"/>
<circle cx="454.8" cy="133.8" r="1.62"/>
<circle cx="460.0" cy="133.7" r="1.62"/>
<circle cx="462.6" cy="133.9" r="1.62"/>
<circle cx="465.2" cy="133.7" r="1.62"/>
<circle cx="470.4" cy="133.8" r="1.62"/>
<circle cx="475.6" cy="133.9" r="1.62"/>
<circle cx="478.2" cy="133.7" r="1.62"/>
<circle cx="480.8" cy="133.9" r="1.62"/>
<circle cx="483.4" cy="133.7" r="1.62"/>
<circle cx="493.8" cy="133.7" r="1.62"/>
<circle cx="496.4" cy="133.7" r="1.62"/>
<circle cx="499.0" cy="133.6" r="1.62"/>
<circle cx="501.6" cy="133.6" r="1.62"/>
<circle cx="509.4" cy="133.7" r="1.62"/>
<circle cx="512.0" cy="133.5" r="1.62"/>
<circle cx="514.6" cy="133.9" r="1.62"/>
<circle cx="519.8" cy="133.9" r="1.62"/>
<circle cx="522.4" cy="133.8" r="1.62"/>
<circle cx="525.0" cy="133.9" r="1.62"/>
<circle cx="527.6" cy="133.8" r="1.62"/>
<circle cx="530.2" cy="133.7" r="1.62"/>
<circle cx="532.8" cy="133.8" r="1.62"/>
<circle cx="532.0" cy="133.7" r="1.62"/>
<circle cx="377.6" cy="90.1" r="1.62"/>
<circle cx="379.5" cy="92.0" r="1.62"/>
<circle cx="375.8" cy="94.5" r="1.62"/>
<circle cx="400.6" cy="69.5" r="1.62"/>
<circle cx="402.9" cy="70.7" r="1.62"/>
<circle cx="399.2" cy="72.5" r="1.62"/>
<circle cx="400.6" cy="75.9" r="1.62"/>
<circle cx="403.6" cy="78.1" r="1.62"/>
<circle cx="405.8" cy="77.3" r="1.62"/>
<circle cx="395.5" cy="78.8" r="1.62"/>
<circle cx="397.7" cy="84.7" r="1.62"/>
<circle cx="400.6" cy="85.4" r="1.62"/>
<circle cx="393.3" cy="89.5" r="1.62"/>
<circle cx="398.4" cy="92.0" r="1.62"/>
<circle cx="407.3" cy="72.2" r="1.62"/>
<circle cx="408.7" cy="73.6" r="1.62"/>
<circle cx="439.6" cy="70.0" r="1.62"/>
<circle cx="439.6" cy="72.2" r="1.62"/>
<circle cx="438.1" cy="74.4" r="1.62"/>
<circle cx="437.4" cy="76.6" r="1.62"/>
<circle cx="439.6" cy="77.3" r="1.62"/>
<circle cx="444.8" cy="72.2" r="1.62"/>
<circle cx="448.4" cy="75.1" r="1.62"/>
<circle cx="447.0" cy="78.1" r="1.62"/>
<circle cx="444.8" cy="78.8" r="1.62"/>
<circle cx="452.1" cy="71.9" r="1.62"/>
<circle cx="455.8" cy="74.4" r="1.62"/>
<circle cx="460.2" cy="72.9" r="1.62"/>
<circle cx="430.1" cy="70.0" r="1.62"/>
<circle cx="433.7" cy="82.5" r="1.62"/>
<circle cx="431.5" cy="84.7" r="1.62"/>
<circle cx="427.1" cy="84.7" r="1.62"/>
<circle cx="430.1" cy="87.6" r="1.62"/>
<circle cx="433.0" cy="89.1" r="1.62"/>
<circle cx="427.1" cy="90.6" r="1.62"/>
<circle cx="430.1" cy="92.8" r="1.62"/>
<circle cx="433.7" cy="92.0" r="1.62"/>
<circle cx="435.9" cy="91.3" r="1.62"/>
<circle cx="439.6" cy="90.6" r="1.62"/>
<circle cx="434.5" cy="94.5" r="1.62"/>
<circle cx="409.5" cy="86.9" r="1.62"/>
<circle cx="408.0" cy="89.5" r="1.62"/>
<circle cx="410.2" cy="92.0" r="1.62"/>
<circle cx="422.7" cy="89.1" r="1.62"/>
<circle cx="452.1" cy="90.6" r="1.62"/>
<circle cx="452.9" cy="93.5" r="1.62"/>
<circle cx="455.8" cy="83.9" r="1.62"/>
<circle cx="460.2" cy="94.5" r="1.62"/>
<circle cx="483.3" cy="59.7" r="1.62"/>
<circle cx="488.0" cy="60.4" r="1.62"/>
<circle cx="497.6" cy="61.1" r="1.62"/>
<circle cx="500.5" cy="60.7" r="1.62"/>
<circle cx="519.6" cy="63.6" r="1.62"/>
<circle cx="523.6" cy="62.6" r="1.62"/>
<circle cx="511.2" cy="68.5" r="1.62"/>
<circle cx="497.1" cy="71.4" r="1.62"/>
<circle cx="498.3" cy="74.4" r="1.62"/>
<circle cx="494.6" cy="75.1" r="1.62"/>
<circle cx="490.9" cy="77.8" r="1.62"/>
<circle cx="479.2" cy="78.1" r="1.62"/>
<circle cx="482.1" cy="80.3" r="1.62"/>
<circle cx="485.8" cy="83.6" r="1.62"/>
<circle cx="490.2" cy="86.1" r="1.62"/>
<circle cx="489.5" cy="89.1" r="1.62"/>
<circle cx="488.7" cy="92.0" r="1.62"/>
<circle cx="500.5" cy="84.2" r="1.62"/>
<circle cx="469.2" cy="71.4" r="1.62"/>
<circle cx="465.2" cy="75.9" r="1.62"/>
<circle cx="465.2" cy="82.5" r="1.62"/>
<circle cx="468.9" cy="87.6" r="1.62"/>
<circle cx="465.2" cy="89.8" r="1.62"/>
<circle cx="479.2" cy="84.7" r="1.62"/>
<circle cx="465.2" cy="67.8" r="1.62"/>
<circle cx="485.1" cy="28.9" r="1.62"/>
<circle cx="486.5" cy="27.8" r="1.62"/>
<circle cx="482.6" cy="37.8" r="1.62"/>
<circle cx="486.5" cy="49.5" r="1.62"/>
<circle cx="484.3" cy="51.0" r="1.62"/>
<circle cx="482.1" cy="52.5" r="1.62"/>
<circle cx="480.9" cy="53.9" r="1.62"/>
<circle cx="496.1" cy="54.5" r="1.62"/>
<circle cx="372.9" cy="105.6" r="1.62"/>
<circle cx="377.3" cy="104.5" r="1.62"/>
<circle cx="377.7" cy="107.5" r="1.62"/>
<circle cx="377.3" cy="113.6" r="1.62"/>
<circle cx="377.3" cy="115.9" r="1.62"/>
<circle cx="377.3" cy="118.1" r="1.62"/>
<circle cx="379.5" cy="118.1" r="1.62"/>
<circle cx="377.3" cy="120.3" r="1.62"/>
<circle cx="377.3" cy="122.5" r="1.62"/>
<circle cx="377.3" cy="124.7" r="1.62"/>
<circle cx="377.3" cy="126.9" r="1.62"/>
<circle cx="377.3" cy="129.1" r="1.62"/>
<circle cx="377.3" cy="131.3" r="1.62"/>
<circle cx="367.7" cy="121.7" r="1.62"/>
<circle cx="370.6" cy="123.2" r="1.62"/>
<circle cx="372.1" cy="124.7" r="1.62"/>
<circle cx="372.9" cy="126.9" r="1.62"/>
<circle cx="382.4" cy="118.1" r="1.62"/>
<circle cx="464.5" cy="102.6" r="1.62"/>
<circle cx="473.3" cy="97.5" r="1.62"/>
<circle cx="485.1" cy="98.2" r="1.62"/>
<circle cx="482.9" cy="100.4" r="1.62"/>
<circle cx="482.9" cy="102.6" r="1.62"/>
<circle cx="481.4" cy="105.6" r="1.62"/>
<circle cx="491.2" cy="103.1" r="1.62"/>
<circle cx="471.1" cy="107.0" r="1.62"/>
<circle cx="473.3" cy="108.9" r="1.62"/>
<circle cx="469.6" cy="110.7" r="1.62"/>
<circle cx="466.7" cy="110.7" r="1.62"/>
<circle cx="470.4" cy="112.2" r="1.62"/>
<circle cx="466.7" cy="114.4" r="1.62"/>
<circle cx="482.9" cy="115.1" r="1.62"/>
<circle cx="485.1" cy="116.6" r="1.62"/>
<circle cx="477.7" cy="118.1" r="1.62"/>
<circle cx="475.5" cy="118.8" r="1.62"/>
<circle cx="469.6" cy="119.5" r="1.62"/>
<circle cx="467.4" cy="121.0" r="1.62"/>
<circle cx="471.1" cy="123.2" r="1.62"/>
<circle cx="475.5" cy="122.5" r="1.62"/>
<circle cx="485.8" cy="127.6" r="1.62"/>
<circle cx="490.9" cy="123.9" r="1.62"/>
<circle cx="501.2" cy="115.9" r="1.62"/>
<circle cx="499.0" cy="118.1" r="1.62"/>
<circle cx="509.8" cy="115.1" r="1.62"/>
<circle cx="511.5" cy="123.2" r="1.62"/>
<circle cx="512.3" cy="126.1" r="1.62"/>
<circle cx="501.5" cy="125.4" r="1.62"/>
<circle cx="502.4" cy="128.1" r="1.62"/>
<circle cx="495.4" cy="128.6" r="1.62"/>
<circle cx="470.4" cy="126.9" r="1.62"/>
<circle cx="464.5" cy="127.6" r="1.62"/>
<circle cx="315.5" cy="137.5" r="1.62"/>
<circle cx="315.5" cy="139.7" r="1.62"/>
<circle cx="338.3" cy="137.2" r="1.62"/>
<circle cx="340.5" cy="138.6" r="1.62"/>
<circle cx="344.9" cy="138.2" r="1.62"/>
<circle cx="351.5" cy="138.9" r="1.62"/>
<circle cx="335.4" cy="142.6" r="1.62"/>
<circle cx="340.5" cy="142.6" r="1.62"/>
<circle cx="344.2" cy="141.9" r="1.62"/>
<circle cx="346.4" cy="144.1" r="1.62"/>
<circle cx="350.1" cy="143.1" r="1.62"/>
<circle cx="353.7" cy="151.4" r="1.62"/>
<circle cx="361.5" cy="154.4" r="1.62"/>
<circle cx="366.2" cy="158.1" r="1.62"/>
<circle cx="367.7" cy="159.5" r="1.62"/>
<circle cx="364.8" cy="162.5" r="1.62"/>
<circle cx="369.9" cy="161.0" r="1.62"/>
<circle cx="374.3" cy="163.9" r="1.62"/>
<circle cx="376.5" cy="167.6" r="1.62"/>
<circle cx="379.5" cy="166.1" r="1.62"/>
<circle cx="381.7" cy="169.1" r="1.62"/>
<circle cx="375.1" cy="172.0" r="1.62"/>
<circle cx="354.5" cy="167.6" r="1.62"/>
<circle cx="382.4" cy="150.7" r="1.62"/>
<circle cx="377.3" cy="137.5" r="1.62"/>
<circle cx="372.1" cy="137.5" r="1.62"/>
<circle cx="465.9" cy="138.9" r="1.62"/>
<circle cx="468.9" cy="141.9" r="1.62"/>
<circle cx="465.2" cy="144.8" r="1.62"/>
<circle cx="468.1" cy="150.7" r="1.62"/>
<circle cx="470.4" cy="151.4" r="1.62"/>
<circle cx="484.3" cy="140.4" r="1.62"/>
<circle cx="488.7" cy="141.1" r="1.62"/>
<circle cx="496.1" cy="139.2" r="1.62"/>
<circle cx="499.0" cy="141.6" r="1.62"/>
<circle cx="508.6" cy="144.1" r="1.62"/>
<circle cx="512.3" cy="145.1" r="1.62"/>
<circle cx="513.7" cy="146.6" r="1.62"/>
<circle cx="519.6" cy="144.1" r="1.62"/>
<circle cx="524.8" cy="146.0" r="1.62"/>
<circle cx="528.4" cy="147.8" r="1.62"/>
<circle cx="531.8" cy="147.0" r="1.62"/>
<circle cx="501.2" cy="153.6" r="1.62"/>
<circle cx="490.2" cy="155.9" r="1.62"/>
<circle cx="485.8" cy="156.6" r="1.62"/>
<circle cx="482.9" cy="159.5" r="1.62"/>
<circle cx="478.4" cy="158.1" r="1.62"/>
<circle cx="475.5" cy="163.2" r="1.62"/>
<circle cx="479.2" cy="164.7" r="1.62"/>
<circle cx="482.1" cy="163.9" r="1.62"/>
<circle cx="485.1" cy="164.7" r="1.62"/>
<circle cx="470.4" cy="159.5" r="1.62"/>
<circle cx="466.7" cy="158.1" r="1.62"/>
<circle cx="480.6" cy="167.6" r="1.62"/>
<circle cx="479.9" cy="170.6" r="1.62"/>
<circle cx="475.5" cy="168.4" r="1.62"/>
<circle cx="465.9" cy="167.6" r="1.62"/>
<circle cx="465.2" cy="171.3" r="1.62"/>
<circle cx="480.6" cy="172.8" r="1.62"/>
<circle cx="329.2" cy="181.1" r="1.62"/>
<circle cx="325.1" cy="185.1" r="1.62"/>
<circle cx="317.0" cy="187.0" r="1.62"/>
<circle cx="315.5" cy="188.1" r="1.62"/>
<circle cx="355.9" cy="179.2" r="1.62"/>
<circle cx="367.0" cy="181.9" r="1.62"/>
<circle cx="365.5" cy="182.6" r="1.62"/>
<circle cx="380.2" cy="177.8" r="1.62"/>
<circle cx="382.4" cy="177.2" r="1.62"/>
<circle cx="388.1" cy="179.2" r="1.62"/>
<circle cx="392.6" cy="180.4" r="1.62"/>
<circle cx="399.9" cy="178.9" r="1.62"/>
<circle cx="403.6" cy="181.9" r="1.62"/>
<circle cx="402.1" cy="184.8" r="1.62"/>
<circle cx="405.1" cy="185.6" r="1.62"/>
<circle cx="402.1" cy="188.5" r="1.62"/>
<circle cx="397.7" cy="191.4" r="1.62"/>
<circle cx="404.3" cy="195.1" r="1.62"/>
<circle cx="399.2" cy="198.1" r="1.62"/>
<circle cx="397.0" cy="199.5" r="1.62"/>
<circle cx="390.4" cy="202.5" r="1.62"/>
<circle cx="388.1" cy="203.9" r="1.62"/>
<circle cx="409.5" cy="180.4" r="1.62"/>
<circle cx="412.4" cy="181.9" r="1.62"/>
<circle cx="422.7" cy="184.1" r="1.62"/>
<circle cx="426.4" cy="182.6" r="1.62"/>
<circle cx="430.1" cy="177.8" r="1.62"/>
<circle cx="432.3" cy="180.4" r="1.62"/>
<circle cx="434.5" cy="182.6" r="1.62"/>
<circle cx="436.7" cy="184.1" r="1.62"/>
<circle cx="439.6" cy="185.6" r="1.62"/>
<circle cx="442.6" cy="187.0" r="1.62"/>
<circle cx="443.3" cy="181.9" r="1.62"/>
<circle cx="445.5" cy="184.8" r="1.62"/>
<circle cx="446.2" cy="189.2" r="1.62"/>
<circle cx="448.4" cy="191.4" r="1.62"/>
<circle cx="430.1" cy="190.0" r="1.62"/>
<circle cx="430.1" cy="197.3" r="1.62"/>
<circle cx="427.1" cy="199.5" r="1.62"/>
<circle cx="421.5" cy="203.2" r="1.62"/>
<circle cx="422.4" cy="206.1" r="1.62"/>
<circle cx="418.3" cy="208.4" r="1.62"/>
<circle cx="430.1" cy="207.6" r="1.62"/>
<circle cx="436.7" cy="212.0" r="1.62"/>
<circle cx="439.6" cy="212.0" r="1.62"/>
<circle cx="442.6" cy="212.8" r="1.62"/>
<circle cx="448.4" cy="209.8" r="1.62"/>
<circle cx="452.1" cy="206.9" r="1.62"/>
<circle cx="394.0" cy="212.8" r="1.62"/>
<circle cx="438.9" cy="177.5" r="1.62"/>
<circle cx="441.8" cy="178.9" r="1.62"/>
<circle cx="447.7" cy="178.2" r="1.62"/>
<circle cx="430.1" cy="213.9" r="1.62"/>
<circle cx="449.2" cy="193.6" r="1.62"/>
<circle cx="476.2" cy="178.2" r="1.62"/>
<circle cx="474.8" cy="181.9" r="1.62"/>
<circle cx="471.1" cy="184.1" r="1.62"/>
<circle cx="468.1" cy="186.3" r="1.62"/>
<circle cx="465.9" cy="188.5" r="1.62"/>
<circle cx="464.5" cy="190.7" r="1.62"/>
<circle cx="474.8" cy="186.3" r="1.62"/>
<circle cx="474.8" cy="188.9" r="1.62"/>
<circle cx="468.9" cy="192.2" r="1.62"/>
<circle cx="469.6" cy="193.6" r="1.62"/>
<circle cx="475.9" cy="195.9" r="1.62"/>
<circle cx="477.7" cy="199.2" r="1.62"/>
<circle cx="481.4" cy="201.7" r="1.62"/>
<circle cx="485.8" cy="202.8" r="1.62"/>
<circle cx="488.0" cy="204.7" r="1.62"/>
<circle cx="490.2" cy="206.1" r="1.62"/>
<circle cx="493.1" cy="207.6" r="1.62"/>
<circle cx="494.6" cy="211.0" r="1.62"/>
<circle cx="497.6" cy="210.1" r="1.62"/>
<circle cx="501.2" cy="211.0" r="1.62"/>
<circle cx="499.0" cy="200.7" r="1.62"/>
<circle cx="468.1" cy="198.1" r="1.62"/>
<circle cx="464.5" cy="212.8" r="1.62"/>
<circle cx="483.3" cy="215.4" r="1.62"/>
<circle cx="523.6" cy="210.6" r="1.62"/>
<circle cx="533.1" cy="215.7" r="1.62"/>
<circle cx="428.6" cy="212.9" r="1.62"/>
<circle cx="435.2" cy="212.6" r="1.62"/>
<circle cx="448.4" cy="211.2" r="1.62"/>
<circle cx="422.4" cy="217.4" r="1.62"/>
<circle cx="426.8" cy="220.6" r="1.62"/>
<circle cx="413.1" cy="225.9" r="1.62"/>
<circle cx="423.4" cy="227.4" r="1.62"/>
<circle cx="433.7" cy="228.4" r="1.62"/>
<circle cx="435.2" cy="229.4" r="1.62"/>
<circle cx="443.3" cy="224.0" r="1.62"/>
<circle cx="447.0" cy="226.5" r="1.62"/>
<circle cx="460.2" cy="223.2" r="1.62"/>
<circle cx="462.4" cy="222.5" r="1.62"/>
<circle cx="397.7" cy="230.6" r="1.62"/>
<circle cx="398.4" cy="232.4" r="1.62"/>
<circle cx="402.1" cy="232.1" r="1.62"/>
<circle cx="393.3" cy="233.2" r="1.62"/>
<circle cx="417.6" cy="231.3" r="1.62"/>
<circle cx="418.3" cy="233.2" r="1.62"/>
<circle cx="421.5" cy="232.8" r="1.62"/>
<circle cx="435.2" cy="233.2" r="1.62"/>
<circle cx="448.4" cy="233.2" r="1.62"/>
<circle cx="452.9" cy="232.8" r="1.62"/>
<circle cx="455.1" cy="231.3" r="1.62"/>
<circle cx="485.1" cy="222.5" r="1.62"/>
<circle cx="506.8" cy="224.0" r="1.62"/>
<circle cx="520.1" cy="217.6" r="1.62"/>
<circle cx="488.7" cy="228.8" r="1.62"/>
<circle cx="490.2" cy="228.4" r="1.62"/>
<circle cx="464.5" cy="224.0" r="1.62"/>
<circle cx="466.7" cy="225.9" r="1.62"/>
<circle cx="463.7" cy="222.5" r="1.62"/>
<circle cx="468.9" cy="233.2" r="1.62"/>
<circle cx="472.1" cy="233.2" r="1.62"/>
<circle cx="474.5" cy="232.8" r="1.62"/>
<circle cx="426.8" cy="124.8" r="1.62"/>
<circle cx="430.3" cy="112.4" r="1.62"/>
<circle cx="418.2" cy="118.0" r="1.62"/>
<circle cx="423.1" cy="128.4" r="1.62"/>
<circle cx="430.8" cy="123.4" r="1.62"/>
<circle cx="428.3" cy="124.9" r="1.62"/>
<circle cx="420.7" cy="119.6" r="1.62"/>
<circle cx="421.0" cy="130.7" r="1.62"/>
<circle cx="419.1" cy="128.7" r="1.62"/>
<circle cx="419.4" cy="125.5" r="1.62"/>
<circle cx="424.2" cy="118.7" r="1.62"/>
<circle cx="433.6" cy="109.4" r="1.62"/>
<circle cx="419.1" cy="131.0" r="1.62"/>
<circle cx="427.4" cy="111.2" r="1.62"/>
<circle cx="436.3" cy="131.7" r="1.62"/>
<circle cx="420.1" cy="119.2" r="1.62"/>
<circle cx="420.5" cy="116.5" r="1.62"/>
<circle cx="429.5" cy="112.9" r="1.62"/>
<circle cx="430.9" cy="110.2" r="1.62"/>
<circle cx="421.2" cy="128.6" r="1.62"/>
<circle cx="425.4" cy="119.1" r="1.62"/>
<circle cx="429.0" cy="120.4" r="1.62"/>
<circle cx="425.1" cy="109.7" r="1.62"/>
<circle cx="431.4" cy="132.2" r="1.62"/>
<circle cx="436.1" cy="124.9" r="1.62"/>
<circle cx="424.6" cy="117.7" r="1.62"/>
<circle cx="430.8" cy="125.2" r="1.62"/>
<circle cx="420.1" cy="114.6" r="1.62"/>
<circle cx="424.7" cy="121.3" r="1.62"/>
<circle cx="433.0" cy="121.0" r="1.62"/>
<circle cx="418.5" cy="128.7" r="1.62"/>
<circle cx="426.0" cy="121.5" r="1.62"/>
<circle cx="422.1" cy="119.3" r="1.62"/>
<circle cx="425.2" cy="127.5" r="1.62"/>
<circle cx="419.9" cy="122.2" r="1.62"/>
<circle cx="421.3" cy="125.7" r="1.62"/>
<circle cx="418.7" cy="115.6" r="1.62"/>
<circle cx="424.4" cy="124.3" r="1.62"/>
<circle cx="419.0" cy="120.0" r="1.62"/>
<circle cx="421.9" cy="115.8" r="1.62"/>
<circle cx="426.8" cy="132.0" r="1.62"/>
<circle cx="426.9" cy="131.9" r="1.62"/>
<circle cx="421.1" cy="131.2" r="1.62"/>
<circle cx="424.7" cy="113.5" r="1.62"/>
<circle cx="431.8" cy="130.9" r="1.62"/>
<circle cx="418.1" cy="115.4" r="1.62"/>
<circle cx="432.3" cy="117.2" r="1.62"/>
<circle cx="422.5" cy="109.2" r="1.62"/>
<circle cx="418.7" cy="123.9" r="1.62"/>
<circle cx="436.2" cy="133.0" r="1.62"/>
<circle cx="427.3" cy="109.6" r="1.62"/>
<circle cx="424.0" cy="127.9" r="1.62"/>
<circle cx="433.4" cy="124.3" r="1.62"/>
<circle cx="422.2" cy="121.7" r="1.62"/>
<circle cx="426.8" cy="124.0" r="1.62"/>
<circle cx="422.9" cy="131.7" r="1.62"/>
<circle cx="434.5" cy="112.9" r="1.62"/>
<circle cx="423.4" cy="130.0" r="1.62"/>
<circle cx="423.1" cy="131.7" r="1.62"/>
<circle cx="427.5" cy="125.7" r="1.62"/>
<circle cx="431.0" cy="114.1" r="1.62"/>
<circle cx="423.3" cy="115.1" r="1.62"/>
<circle cx="430.6" cy="125.7" r="1.62"/>
<circle cx="420.4" cy="130.3" r="1.62"/>
<circle cx="425.8" cy="114.8" r="1.62"/>
<circle cx="426.1" cy="132.5" r="1.62"/>
<circle cx="428.4" cy="124.0" r="1.62"/>
<circle cx="435.0" cy="132.1" r="1.62"/>
<circle cx="432.1" cy="119.0" r="1.62"/>
<circle cx="428.9" cy="130.6" r="1.62"/>
<circle cx="432.6" cy="122.9" r="1.62"/>
<circle cx="424.4" cy="117.8" r="1.62"/>
<circle cx="431.6" cy="122.5" r="1.62"/>
<circle cx="418.3" cy="126.0" r="1.62"/>
<circle cx="434.7" cy="128.1" r="1.62"/>
<circle cx="434.6" cy="130.9" r="1.62"/>
<circle cx="427.9" cy="127.9" r="1.62"/>
<circle cx="425.0" cy="111.4" r="1.62"/>
<circle cx="424.5" cy="116.5" r="1.62"/>
<circle cx="435.3" cy="125.5" r="1.62"/>
<circle cx="428.0" cy="123.9" r="1.62"/>
<circle cx="420.3" cy="121.8" r="1.62"/>
<circle cx="431.0" cy="118.5" r="1.62"/>
<circle cx="422.5" cy="118.8" r="1.62"/>
<circle cx="424.0" cy="125.4" r="1.62"/>
<circle cx="420.6" cy="111.2" r="1.62"/>
<circle cx="423.8" cy="125.7" r="1.62"/>
<circle cx="432.1" cy="124.8" r="1.62"/>
<circle cx="435.3" cy="117.8" r="1.62"/>
<circle cx="418.6" cy="120.7" r="1.62"/>
<circle cx="426.2" cy="113.3" r="1.62"/>
<circle cx="430.3" cy="117.2" r="1.62"/>
<circle cx="422.4" cy="116.9" r="1.62"/>
<circle cx="435.5" cy="109.2" r="1.62"/>
<circle cx="424.7" cy="115.7" r="1.62"/>
<circle cx="421.7" cy="119.4" r="1.62"/>
<circle cx="422.1" cy="131.1" r="1.62"/>
<circle cx="427.3" cy="125.8" r="1.62"/>
<circle cx="421.0" cy="120.2" r="1.62"/>
<circle cx="429.2" cy="129.2" r="1.62"/>
<circle cx="422.6" cy="120.0" r="1.62"/>
<circle cx="433.8" cy="129.0" r="1.62"/>
<circle cx="422.2" cy="121.9" r="1.62"/>
<circle cx="432.1" cy="118.5" r="1.62"/>
<circle cx="430.5" cy="124.9" r="1.62"/>
<circle cx="436.0" cy="122.3" r="1.62"/>
<circle cx="430.6" cy="117.4" r="1.62"/>
<circle cx="431.5" cy="116.7" r="1.62"/>
<circle cx="427.2" cy="117.7" r="1.62"/>
<circle cx="423.7" cy="112.3" r="1.62"/>
<circle cx="422.2" cy="122.1" r="1.62"/>
<circle cx="422.7" cy="110.1" r="1.62"/>
<circle cx="432.9" cy="115.9" r="1.62"/>
<circle cx="435.3" cy="123.4" r="1.62"/>
<circle cx="425.2" cy="130.0" r="1.62"/>
<circle cx="434.6" cy="116.7" r="1.62"/>
<circle cx="420.3" cy="124.4" r="1.62"/>
<circle cx="433.6" cy="123.6" r="1.62"/>
<circle cx="432.5" cy="118.9" r="1.62"/>
<circle cx="429.4" cy="115.3" r="1.62"/>
<circle cx="425.5" cy="118.1" r="1.62"/>
<circle cx="425.1" cy="118.6" r="1.62"/>
<circle cx="432.9" cy="113.1" r="1.62"/>
<circle cx="421.8" cy="115.1" r="1.62"/>
<circle cx="436.0" cy="121.5" r="1.62"/>
<circle cx="419.0" cy="129.0" r="1.62"/>
<circle cx="434.2" cy="128.7" r="1.62"/>
<circle cx="424.6" cy="126.6" r="1.62"/>
<circle cx="423.7" cy="112.3" r="1.62"/>
<circle cx="434.0" cy="129.0" r="1.62"/>
<circle cx="421.9" cy="130.1" r="1.62"/>
<circle cx="418.5" cy="116.4" r="1.62"/>
<circle cx="418.2" cy="113.1" r="1.62"/>
<circle cx="421.0" cy="126.2" r="1.62"/>
<circle cx="423.5" cy="113.6" r="1.62"/>
<circle cx="421.4" cy="116.5" r="1.62"/>
<circle cx="434.0" cy="123.6" r="1.62"/>
<circle cx="419.9" cy="125.4" r="1.62"/>
<circle cx="427.9" cy="119.8" r="1.62"/>
<circle cx="427.8" cy="124.6" r="1.62"/>
<circle cx="432.8" cy="121.1" r="1.62"/>
<circle cx="429.8" cy="120.2" r="1.62"/>
<circle cx="429.7" cy="118.3" r="1.62"/>
<circle cx="425.7" cy="121.4" r="1.62"/>
<circle cx="431.2" cy="115.7" r="1.62"/>
<circle cx="435.1" cy="120.8" r="1.62"/>
<circle cx="433.8" cy="125.6" r="1.62"/>
<circle cx="435.7" cy="125.4" r="1.62"/>
<circle cx="425.9" cy="118.7" r="1.62"/>
<circle cx="429.2" cy="127.1" r="1.62"/>
<circle cx="433.5" cy="112.1" r="1.62"/>
<circle cx="419.2" cy="111.6" r="1.62"/>
<circle cx="419.6" cy="110.4" r="1.62"/>
<circle cx="418.2" cy="115.0" r="1.62"/>
<circle cx="420.1" cy="125.4" r="1.62"/>
<circle cx="429.4" cy="132.2" r="1.62"/>
<circle cx="435.8" cy="126.9" r="1.62"/>
<circle cx="435.6" cy="109.7" r="1.62"/>
<circle cx="422.2" cy="131.2" r="1.62"/>
<circle cx="426.8" cy="114.0" r="1.62"/>
<circle cx="432.0" cy="119.2" r="1.62"/>
<circle cx="428.0" cy="116.6" r="1.62"/>
<circle cx="422.5" cy="111.1" r="1.62"/>
<circle cx="429.2" cy="131.9" r="1.62"/>
<circle cx="436.3" cy="127.4" r="1.62"/>
<circle cx="435.3" cy="117.7" r="1.62"/>
<circle cx="423.5" cy="131.2" r="1.62"/>
<circle cx="429.1" cy="125.1" r="1.62"/>
<circle cx="418.2" cy="114.5" r="1.62"/>
<circle cx="426.9" cy="126.5" r="1.62"/>
<circle cx="436.4" cy="130.3" r="1.62"/>
<circle cx="417.9" cy="126.2" r="1.62"/>
<circle cx="437.8" cy="132.9" r="1.62"/>
<circle cx="423.4" cy="124.1" r="1.62"/>
<circle cx="428.7" cy="127.9" r="1.62"/>
<circle cx="418.7" cy="124.5" r="1.62"/>
<circle cx="419.6" cy="128.7" r="1.62"/>
<circle cx="409.8" cy="128.0" r="1.62"/>
<circle cx="441.2" cy="130.2" r="1.62"/>
<circle cx="414.6" cy="126.6" r="1.62"/>
<circle cx="408.9" cy="130.1" r="1.62"/>
<circle cx="429.0" cy="123.9" r="1.62"/>
<circle cx="425.8" cy="128.6" r="1.62"/>
<circle cx="426.9" cy="126.2" r="1.62"/>
<circle cx="416.8" cy="125.9" r="1.62"/>
<circle cx="442.9" cy="125.6" r="1.62"/>
<circle cx="424.1" cy="127.1" r="1.62"/>
<circle cx="411.6" cy="126.4" r="1.62"/>
<circle cx="412.8" cy="125.5" r="1.62"/>
<circle cx="419.0" cy="125.8" r="1.62"/>
<circle cx="440.6" cy="125.3" r="1.62"/>
<circle cx="417.6" cy="129.2" r="1.62"/>
<circle cx="420.1" cy="127.7" r="1.62"/>
<circle cx="429.6" cy="122.8" r="1.62"/>
<circle cx="430.5" cy="123.1" r="1.62"/>
<circle cx="414.5" cy="130.9" r="1.62"/>
<circle cx="442.6" cy="129.4" r="1.62"/>
<circle cx="411.5" cy="126.8" r="1.62"/>
<circle cx="415.7" cy="131.3" r="1.62"/>
<circle cx="413.9" cy="124.2" r="1.62"/>
<circle cx="429.2" cy="129.0" r="1.62"/>
<circle cx="427.4" cy="127.3" r="1.62"/>
<circle cx="441.4" cy="127.0" r="1.62"/>
<circle cx="440.6" cy="126.3" r="1.62"/>
<circle cx="422.7" cy="126.0" r="1.62"/>
<circle cx="432.2" cy="130.3" r="1.62"/>
<circle cx="414.1" cy="127.8" r="1.62"/>
<circle cx="432.6" cy="127.5" r="1.62"/>
<circle cx="430.2" cy="128.8" r="1.62"/>
<circle cx="432.1" cy="125.9" r="1.62"/>
<circle cx="416.6" cy="122.3" r="1.62"/>
<circle cx="438.8" cy="130.7" r="1.62"/>
<circle cx="419.8" cy="132.6" r="1.62"/>
<circle cx="439.3" cy="123.7" r="1.62"/>
<circle cx="436.8" cy="126.6" r="1.62"/>
<circle cx="416.9" cy="124.9" r="1.62"/>
<circle cx="420.7" cy="122.6" r="1.62"/>
<circle cx="406.9" cy="123.3" r="1.62"/>
<circle cx="416.7" cy="123.7" r="1.62"/>
<circle cx="409.6" cy="131.2" r="1.62"/>
<circle cx="419.4" cy="127.4" r="1.62"/>
<circle cx="427.8" cy="132.3" r="1.62"/>
<circle cx="410.6" cy="124.5" r="1.62"/>
<circle cx="437.7" cy="132.0" r="1.62"/>
<circle cx="440.4" cy="127.8" r="1.62"/>
<circle cx="418.9" cy="124.1" r="1.62"/>
<circle cx="439.6" cy="130.4" r="1.62"/>
<circle cx="426.0" cy="130.7" r="1.62"/>
<circle cx="414.9" cy="127.9" r="1.62"/>
<circle cx="439.4" cy="123.2" r="1.62"/>
<circle cx="428.5" cy="124.0" r="1.62"/>
<circle cx="436.8" cy="131.2" r="1.62"/>
<circle cx="429.5" cy="126.8" r="1.62"/>
<circle cx="405.8" cy="127.4" r="1.62"/>
<circle cx="418.6" cy="126.4" r="1.62"/>
<circle cx="408.0" cy="132.1" r="1.62"/>
<circle cx="424.8" cy="128.2" r="1.62"/>
<circle cx="437.0" cy="131.9" r="1.62"/>
<circle cx="425.9" cy="128.0" r="1.62"/>
<circle cx="437.2" cy="126.1" r="1.62"/>
<circle cx="439.2" cy="122.3" r="1.62"/>
<circle cx="435.3" cy="127.8" r="1.62"/>
<circle cx="428.7" cy="132.9" r="1.62"/>
<circle cx="413.4" cy="126.5" r="1.62"/>
<circle cx="435.4" cy="130.2" r="1.62"/>
<circle cx="424.9" cy="130.5" r="1.62"/>
<circle cx="430.7" cy="131.6" r="1.62"/>
<circle cx="429.7" cy="126.0" r="1.62"/>
<circle cx="415.9" cy="122.9" r="1.62"/>
<circle cx="409.7" cy="122.5" r="1.62"/>
<circle cx="442.1" cy="123.5" r="1.62"/>
<circle cx="427.9" cy="123.5" r="1.62"/>
<circle cx="441.7" cy="127.9" r="1.62"/>
<circle cx="411.7" cy="131.1" r="1.62"/>
<circle cx="437.7" cy="132.8" r="1.62"/>
<circle cx="413.5" cy="126.4" r="1.62"/>
<circle cx="430.1" cy="125.1" r="1.62"/>
<circle cx="426.6" cy="129.7" r="1.62"/>
<circle cx="433.6" cy="131.1" r="1.62"/>
<circle cx="433.5" cy="125.1" r="1.62"/>
<circle cx="409.4" cy="112.2" r="1.62"/>
<circle cx="388.9" cy="97.7" r="1.62"/>
<circle cx="404.8" cy="109.5" r="1.62"/>
<circle cx="386.3" cy="114.2" r="1.62"/>
<circle cx="397.5" cy="108.4" r="1.62"/>
<circle cx="402.8" cy="115.9" r="1.62"/>
<circle cx="401.5" cy="131.6" r="1.62"/>
<circle cx="414.7" cy="107.5" r="1.62"/>
<circle cx="413.5" cy="108.0" r="1.62"/>
<circle cx="415.8" cy="99.0" r="1.62"/>
<circle cx="394.1" cy="129.6" r="1.62"/>
<circle cx="406.2" cy="121.7" r="1.62"/>
<circle cx="390.2" cy="101.3" r="1.62"/>
<circle cx="416.6" cy="99.3" r="1.62"/>
<circle cx="389.1" cy="112.1" r="1.62"/>
<circle cx="411.7" cy="120.8" r="1.62"/>
<circle cx="417.9" cy="124.3" r="1.62"/>
<circle cx="398.3" cy="128.9" r="1.62"/>
<circle cx="394.1" cy="98.8" r="1.62"/>
<circle cx="416.6" cy="127.8" r="1.62"/>
<circle cx="406.1" cy="113.8" r="1.62"/>
<circle cx="390.1" cy="104.7" r="1.62"/>
<circle cx="385.4" cy="100.3" r="1.62"/>
<circle cx="399.8" cy="128.4" r="1.62"/>
<circle cx="415.6" cy="115.0" r="1.62"/>
<circle cx="406.6" cy="113.4" r="1.62"/>
<circle cx="410.2" cy="121.7" r="1.62"/>
<circle cx="417.5" cy="126.6" r="1.62"/>
<circle cx="406.7" cy="117.7" r="1.62"/>
<circle cx="388.9" cy="113.5" r="1.62"/>
<circle cx="398.7" cy="102.4" r="1.62"/>
<circle cx="390.1" cy="111.4" r="1.62"/>
<circle cx="425.8" cy="105.9" r="1.62"/>
<circle cx="427.3" cy="109.9" r="1.62"/>
<circle cx="430.8" cy="104.7" r="1.62"/>
<circle cx="428.3" cy="103.3" r="1.62"/>
<circle cx="426.0" cy="109.6" r="1.62"/>
<circle cx="433.1" cy="106.2" r="1.62"/>
<circle cx="430.5" cy="100.6" r="1.62"/>
<circle cx="429.4" cy="100.8" r="1.62"/>
<circle cx="427.2" cy="105.5" r="1.62"/>
<circle cx="425.7" cy="101.6" r="1.62"/>
<circle cx="431.3" cy="104.3" r="1.62"/>
<circle cx="432.9" cy="100.8" r="1.62"/>
<circle cx="424.9" cy="109.3" r="1.62"/>
<circle cx="430.1" cy="106.6" r="1.62"/>
<circle cx="429.6" cy="100.6" r="1.62"/>
<circle cx="433.8" cy="104.5" r="1.62"/>
<circle cx="433.1" cy="100.6" r="1.62"/>
<circle cx="426.8" cy="105.0" r="1.62"/>
<circle cx="426.5" cy="108.5" r="1.62"/>
<circle cx="426.6" cy="99.9" r="1.62"/>
<circle cx="425.6" cy="102.0" r="1.62"/>
<circle cx="433.5" cy="108.7" r="1.62"/>
<circle cx="432.7" cy="102.0" r="1.62"/>
<circle cx="418.9" cy="107.6" r="1.62"/>
<circle cx="420.8" cy="98.8" r="1.62"/>
<circle cx="427.6" cy="108.1" r="1.62"/>
<circle cx="422.0" cy="96.9" r="1.62"/>
<circle cx="438.0" cy="96.1" r="1.62"/>
<circle cx="434.2" cy="98.0" r="1.62"/>
<circle cx="424.6" cy="98.9" r="1.62"/>
<circle cx="427.7" cy="108.9" r="1.62"/>
<circle cx="436.5" cy="103.5" r="1.62"/>
<circle cx="419.9" cy="98.5" r="1.62"/>
<circle cx="424.5" cy="107.1" r="1.62"/>
<circle cx="438.2" cy="96.4" r="1.62"/>
<circle cx="425.4" cy="109.4" r="1.62"/>
<circle cx="421.3" cy="97.1" r="1.62"/>
<circle cx="423.8" cy="108.4" r="1.62"/>
<circle cx="423.8" cy="106.1" r="1.62"/>
<circle cx="420.6" cy="105.2" r="1.62"/>
<circle cx="421.7" cy="104.3" r="1.62"/>
<circle cx="434.3" cy="108.3" r="1.62"/>
<circle cx="427.6" cy="109.8" r="1.62"/>
<circle cx="426.9" cy="109.3" r="1.62"/>
<circle cx="438.1" cy="110.0" r="1.62"/>
<circle cx="420.3" cy="99.8" r="1.62"/>
<circle cx="433.3" cy="108.4" r="1.62"/>
<circle cx="423.6" cy="106.8" r="1.62"/>
<circle cx="428.5" cy="96.1" r="1.62"/>
<circle cx="419.9" cy="96.1" r="1.62"/>
<circle cx="442.9" cy="129.6" r="1.62"/>
<circle cx="454.7" cy="127.2" r="1.62"/>
<circle cx="460.8" cy="110.7" r="1.62"/>
<circle cx="455.1" cy="119.9" r="1.62"/>
<circle cx="455.0" cy="100.2" r="1.62"/>
<circle cx="460.1" cy="102.5" r="1.62"/>
<circle cx="448.6" cy="121.1" r="1.62"/>
<circle cx="456.4" cy="125.9" r="1.62"/>
<circle cx="445.1" cy="107.4" r="1.62"/>
<circle cx="455.9" cy="98.6" r="1.62"/>
<circle cx="459.7" cy="108.0" r="1.62"/>
<circle cx="447.2" cy="108.0" r="1.62"/>
<circle cx="455.6" cy="103.1" r="1.62"/>
<circle cx="440.5" cy="99.3" r="1.62"/>
<circle cx="440.4" cy="118.8" r="1.62"/>
<circle cx="462.7" cy="97.2" r="1.62"/>
<circle cx="449.0" cy="109.4" r="1.62"/>
<circle cx="445.1" cy="109.0" r="1.62"/>
<circle cx="439.8" cy="111.8" r="1.62"/>
<circle cx="443.9" cy="99.1" r="1.62"/>
<circle cx="440.5" cy="129.5" r="1.62"/>
<circle cx="455.7" cy="131.4" r="1.62"/>
<circle cx="458.2" cy="122.8" r="1.62"/>
<circle cx="442.9" cy="100.8" r="1.62"/>
<circle cx="462.6" cy="121.0" r="1.62"/>
<circle cx="455.8" cy="102.0" r="1.62"/>
<circle cx="457.6" cy="115.7" r="1.62"/>
<circle cx="439.3" cy="104.4" r="1.62"/>
<circle cx="462.2" cy="118.8" r="1.62"/>
<circle cx="439.4" cy="99.8" r="1.62"/>
<circle cx="456.5" cy="109.3" r="1.62"/>
<circle cx="449.4" cy="101.8" r="1.62"/>
<circle cx="441.6" cy="114.4" r="1.62"/>
<circle cx="448.1" cy="103.5" r="1.62"/>
<circle cx="440.9" cy="112.6" r="1.62"/>
<circle cx="439.9" cy="99.2" r="1.62"/>
<circle cx="449.3" cy="98.8" r="1.62"/>
<circle cx="456.1" cy="123.9" r="1.62"/>
<circle cx="455.3" cy="130.3" r="1.62"/>
<circle cx="441.3" cy="111.8" r="1.62"/>
<circle cx="447.8" cy="99.5" r="1.62"/>
<circle cx="459.4" cy="98.4" r="1.62"/>
<circle cx="462.6" cy="120.6" r="1.62"/>
<circle cx="462.6" cy="99.1" r="1.62"/>
<circle cx="460.2" cy="130.7" r="1.62"/>
<circle cx="457.2" cy="117.3" r="1.62"/>
<circle cx="453.9" cy="113.9" r="1.62"/>
<circle cx="459.2" cy="117.2" r="1.62"/>
<circle cx="451.2" cy="111.2" r="1.62"/>
<circle cx="453.3" cy="117.5" r="1.62"/>
<circle cx="461.4" cy="124.1" r="1.62"/>
<circle cx="445.6" cy="122.2" r="1.62"/>
<circle cx="443.1" cy="113.9" r="1.62"/>
<circle cx="450.7" cy="122.4" r="1.62"/>
<circle cx="438.9" cy="102.1" r="1.62"/>
<circle cx="441.7" cy="118.7" r="1.62"/>
<circle cx="441.4" cy="116.6" r="1.62"/>
<circle cx="459.9" cy="112.0" r="1.62"/>
<circle cx="442.8" cy="117.9" r="1.62"/>
<circle cx="447.7" cy="112.3" r="1.62"/>
<circle cx="441.6" cy="120.9" r="1.62"/>
<circle cx="446.0" cy="131.5" r="1.62"/>
<circle cx="449.9" cy="120.9" r="1.62"/>
<circle cx="461.0" cy="131.4" r="1.62"/>
<circle cx="437.6" cy="129.5" r="1.62"/>
<circle cx="439.7" cy="130.2" r="1.62"/>
<circle cx="457.5" cy="106.0" r="1.62"/>
<circle cx="455.6" cy="116.7" r="1.62"/>
<circle cx="448.8" cy="118.9" r="1.62"/>
<circle cx="448.9" cy="120.0" r="1.62"/>
<circle cx="455.1" cy="97.2" r="1.62"/>
<circle cx="453.6" cy="121.7" r="1.62"/>
<circle cx="459.5" cy="115.8" r="1.62"/>
<circle cx="451.1" cy="102.1" r="1.62"/>
<circle cx="442.1" cy="128.3" r="1.62"/>
<circle cx="466.0" cy="125.1" r="1.62"/>
<circle cx="468.4" cy="127.0" r="1.62"/>
<circle cx="482.9" cy="126.6" r="1.62"/>
<circle cx="478.3" cy="114.3" r="1.62"/>
<circle cx="485.9" cy="114.1" r="1.62"/>
<circle cx="478.2" cy="130.2" r="1.62"/>
<circle cx="469.5" cy="121.1" r="1.62"/>
<circle cx="480.9" cy="124.3" r="1.62"/>
<circle cx="471.1" cy="119.9" r="1.62"/>
<circle cx="442.2" cy="146.0" r="1.62"/>
<circle cx="415.8" cy="145.5" r="1.62"/>
<circle cx="440.6" cy="144.4" r="1.62"/>
<circle cx="442.1" cy="139.7" r="1.62"/>
<circle cx="420.1" cy="148.1" r="1.62"/>
<circle cx="418.9" cy="137.8" r="1.62"/>
<circle cx="414.9" cy="148.4" r="1.62"/>
<circle cx="439.5" cy="138.8" r="1.62"/>
<circle cx="436.6" cy="138.8" r="1.62"/>
<circle cx="432.2" cy="136.1" r="1.62"/>
<circle cx="430.6" cy="146.5" r="1.62"/>
<circle cx="427.9" cy="144.8" r="1.62"/>
<circle cx="413.8" cy="142.4" r="1.62"/>
<circle cx="438.1" cy="141.2" r="1.62"/>
<circle cx="436.6" cy="144.4" r="1.62"/>
<circle cx="439.0" cy="146.3" r="1.62"/>
<circle cx="420.6" cy="147.5" r="1.62"/>
<circle cx="439.3" cy="142.0" r="1.62"/>
<circle cx="435.7" cy="141.8" r="1.62"/>
<circle cx="430.5" cy="140.5" r="1.62"/>
<circle cx="426.4" cy="140.3" r="1.62"/>
<circle cx="442.1" cy="144.6" r="1.62"/>
<circle cx="431.9" cy="143.3" r="1.62"/>
<circle cx="426.4" cy="138.4" r="1.62"/>
<circle cx="433.1" cy="142.2" r="1.62"/>
<circle cx="422.1" cy="143.2" r="1.62"/>
<circle cx="414.3" cy="145.1" r="1.62"/>
<circle cx="438.1" cy="141.1" r="1.62"/>
<circle cx="415.4" cy="149.6" r="1.62"/>
<circle cx="432.1" cy="140.5" r="1.62"/>
<circle cx="412.8" cy="144.0" r="1.62"/>
<circle cx="417.5" cy="148.6" r="1.62"/>
<circle cx="435.7" cy="139.9" r="1.62"/>
<circle cx="424.4" cy="137.2" r="1.62"/>
<circle cx="417.7" cy="143.8" r="1.62"/>
<circle cx="441.7" cy="142.0" r="1.62"/>
<circle cx="444.6" cy="139.6" r="1.62"/>
<circle cx="413.3" cy="147.8" r="1.62"/>
<circle cx="423.3" cy="139.9" r="1.62"/>
<circle cx="425.7" cy="144.6" r="1.62"/>
<circle cx="417.5" cy="137.5" r="1.62"/>
<circle cx="431.3" cy="145.2" r="1.62"/>
<circle cx="430.0" cy="138.2" r="1.62"/>
<circle cx="440.9" cy="142.0" r="1.62"/>
<circle cx="429.3" cy="148.4" r="1.62"/>
<circle cx="414.4" cy="142.9" r="1.62"/>
<circle cx="425.0" cy="144.9" r="1.62"/>
<circle cx="417.7" cy="139.4" r="1.62"/>
<circle cx="417.8" cy="143.8" r="1.62"/>
<circle cx="420.5" cy="149.0" r="1.62"/>
<circle cx="441.3" cy="146.2" r="1.62"/>
<circle cx="424.3" cy="147.5" r="1.62"/>
<circle cx="430.5" cy="147.0" r="1.62"/>
<circle cx="444.4" cy="137.7" r="1.62"/>
<circle cx="437.3" cy="148.7" r="1.62"/>
<circle cx="424.3" cy="140.8" r="1.62"/>
<circle cx="410.7" cy="148.5" r="1.62"/>
<circle cx="417.0" cy="136.1" r="1.62"/>
<circle cx="412.8" cy="143.2" r="1.62"/>
<circle cx="434.4" cy="148.7" r="1.62"/>
<circle cx="433.7" cy="137.4" r="1.62"/>
<circle cx="443.4" cy="148.2" r="1.62"/>
<circle cx="439.0" cy="148.6" r="1.62"/>
<circle cx="440.0" cy="145.6" r="1.62"/>
<circle cx="437.5" cy="136.3" r="1.62"/>
<circle cx="445.6" cy="136.1" r="1.62"/>
<circle cx="425.0" cy="144.0" r="1.62"/>
<circle cx="428.1" cy="140.7" r="1.62"/>
<circle cx="428.0" cy="140.4" r="1.62"/>
<circle cx="433.7" cy="136.4" r="1.62"/>
<circle cx="422.1" cy="145.1" r="1.62"/>
<circle cx="426.2" cy="136.3" r="1.62"/>
<circle cx="426.3" cy="149.0" r="1.62"/>
<circle cx="428.6" cy="146.2" r="1.62"/>
<circle cx="423.5" cy="149.7" r="1.62"/>
<circle cx="428.7" cy="147.3" r="1.62"/>
<circle cx="432.3" cy="147.4" r="1.62"/>
<circle cx="423.8" cy="149.0" r="1.62"/>
<circle cx="445.6" cy="148.6" r="1.62"/>
<circle cx="442.6" cy="141.1" r="1.62"/>
<circle cx="421.9" cy="148.5" r="1.62"/>
<circle cx="439.6" cy="144.3" r="1.62"/>
<circle cx="429.9" cy="136.2" r="1.62"/>
<circle cx="429.9" cy="136.8" r="1.62"/>
<circle cx="428.7" cy="139.1" r="1.62"/>
<circle cx="431.7" cy="138.2" r="1.62"/>
<circle cx="421.5" cy="146.8" r="1.62"/>
<circle cx="430.7" cy="137.9" r="1.62"/>
<circle cx="445.4" cy="136.3" r="1.62"/>
<circle cx="424.6" cy="146.0" r="1.62"/>
<circle cx="430.7" cy="145.1" r="1.62"/>
<circle cx="442.5" cy="137.3" r="1.62"/>
<circle cx="428.1" cy="139.5" r="1.62"/>
<circle cx="431.4" cy="142.5" r="1.62"/>
<circle cx="432.5" cy="147.2" r="1.62"/>
<circle cx="427.8" cy="141.9" r="1.62"/>
<circle cx="429.8" cy="138.4" r="1.62"/>
<circle cx="442.8" cy="141.5" r="1.62"/>
<circle cx="427.7" cy="147.8" r="1.62"/>
<circle cx="439.9" cy="150.0" r="1.62"/>
<circle cx="435.4" cy="143.4" r="1.62"/>
<circle cx="425.2" cy="146.9" r="1.62"/>
<circle cx="432.2" cy="136.1" r="1.62"/>
<circle cx="430.1" cy="145.4" r="1.62"/>
<circle cx="422.6" cy="147.6" r="1.62"/>
<circle cx="436.6" cy="148.4" r="1.62"/>
<circle cx="420.2" cy="145.3" r="1.62"/>
<circle cx="430.0" cy="140.8" r="1.62"/>
<circle cx="420.4" cy="137.2" r="1.62"/>
<circle cx="440.0" cy="139.9" r="1.62"/>
<circle cx="422.1" cy="139.6" r="1.62"/>
<circle cx="429.8" cy="142.9" r="1.62"/>
<circle cx="441.1" cy="137.1" r="1.62"/>
<circle cx="422.0" cy="147.7" r="1.62"/>
<circle cx="438.5" cy="136.9" r="1.62"/>
<circle cx="425.8" cy="149.9" r="1.62"/>
<circle cx="445.3" cy="140.5" r="1.62"/>
<circle cx="436.7" cy="140.6" r="1.62"/>
<circle cx="411.9" cy="148.6" r="1.62"/>
<circle cx="414.1" cy="149.9" r="1.62"/>
<circle cx="426.0" cy="147.9" r="1.62"/>
<circle cx="426.9" cy="148.6" r="1.62"/>
<circle cx="436.7" cy="138.4" r="1.62"/>
<circle cx="410.4" cy="138.4" r="1.62"/>
<circle cx="431.6" cy="137.5" r="1.62"/>
<circle cx="412.2" cy="141.3" r="1.62"/>
<circle cx="411.5" cy="140.3" r="1.62"/>
<circle cx="432.5" cy="139.2" r="1.62"/>
<circle cx="438.4" cy="139.6" r="1.62"/>
<circle cx="422.8" cy="141.7" r="1.62"/>
<circle cx="440.5" cy="136.7" r="1.62"/>
<circle cx="439.1" cy="137.3" r="1.62"/>
<circle cx="444.9" cy="143.8" r="1.62"/>
<circle cx="436.9" cy="143.2" r="1.62"/>
<circle cx="434.0" cy="145.6" r="1.62"/>
<circle cx="414.8" cy="138.7" r="1.62"/>
<circle cx="442.7" cy="139.1" r="1.62"/>
<circle cx="418.4" cy="136.7" r="1.62"/>
<circle cx="435.5" cy="147.0" r="1.62"/>
<circle cx="410.9" cy="148.1" r="1.62"/>
<circle cx="413.7" cy="142.9" r="1.62"/>
<circle cx="428.3" cy="139.5" r="1.62"/>
<circle cx="421.3" cy="142.9" r="1.62"/>
<circle cx="438.1" cy="139.6" r="1.62"/>
<circle cx="418.0" cy="149.7" r="1.62"/>
<circle cx="419.2" cy="137.4" r="1.62"/>
<circle cx="443.5" cy="149.0" r="1.62"/>
<circle cx="417.3" cy="143.4" r="1.62"/>
<circle cx="441.4" cy="140.5" r="1.62"/>
<circle cx="421.9" cy="136.1" r="1.62"/>
<circle cx="414.2" cy="144.5" r="1.62"/>
<circle cx="427.6" cy="148.1" r="1.62"/>
<circle cx="425.8" cy="139.8" r="1.62"/>
<circle cx="423.9" cy="138.0" r="1.62"/>
<circle cx="427.0" cy="145.7" r="1.62"/>
<circle cx="416.2" cy="144.2" r="1.62"/>
<circle cx="445.9" cy="145.8" r="1.62"/>
<circle cx="421.1" cy="145.0" r="1.62"/>
<circle cx="413.5" cy="137.5" r="1.62"/>
<circle cx="439.0" cy="145.9" r="1.62"/>
<circle cx="432.3" cy="143.9" r="1.62"/>
<circle cx="422.3" cy="147.7" r="1.62"/>
<circle cx="428.3" cy="147.6" r="1.62"/>
<circle cx="436.3" cy="140.7" r="1.62"/>
<circle cx="439.3" cy="140.9" r="1.62"/>
<circle cx="432.0" cy="147.8" r="1.62"/>
<circle cx="444.3" cy="144.7" r="1.62"/>
<circle cx="416.8" cy="138.3" r="1.62"/>
<circle cx="439.8" cy="140.3" r="1.62"/>
<circle cx="414.8" cy="144.1" r="1.62"/>
<circle cx="424.7" cy="146.4" r="1.62"/>
<circle cx="416.1" cy="143.2" r="1.62"/>
<circle cx="444.4" cy="138.4" r="1.62"/>
<circle cx="423.7" cy="141.5" r="1.62"/>
<circle cx="414.2" cy="138.0" r="1.62"/>
<circle cx="421.0" cy="143.7" r="1.62"/>
<circle cx="414.5" cy="144.9" r="1.62"/>
<circle cx="423.2" cy="140.2" r="1.62"/>
<circle cx="440.5" cy="146.4" r="1.62"/>
<circle cx="425.8" cy="139.6" r="1.62"/>
<circle cx="428.1" cy="145.1" r="1.62"/>
<circle cx="437.3" cy="145.3" r="1.62"/>
<circle cx="409.5" cy="138.2" r="1.62"/>
<circle cx="445.9" cy="143.7" r="1.62"/>
<circle cx="428.2" cy="137.6" r="1.62"/>
<circle cx="438.2" cy="147.6" r="1.62"/>
<circle cx="420.8" cy="139.8" r="1.62"/>
<circle cx="412.2" cy="140.3" r="1.62"/>
<circle cx="428.2" cy="142.3" r="1.62"/>
<circle cx="409.8" cy="137.4" r="1.62"/>
<circle cx="418.1" cy="147.6" r="1.62"/>
<circle cx="444.7" cy="148.1" r="1.62"/>
<circle cx="427.5" cy="141.1" r="1.62"/>
<circle cx="442.2" cy="146.6" r="1.62"/>
<circle cx="433.1" cy="145.8" r="1.62"/>
<circle cx="443.7" cy="143.4" r="1.62"/>
<circle cx="418.8" cy="146.3" r="1.62"/>
<circle cx="443.5" cy="139.2" r="1.62"/>
<circle cx="423.5" cy="146.7" r="1.62"/>
<circle cx="438.7" cy="136.7" r="1.62"/>
<circle cx="438.9" cy="139.4" r="1.62"/>
<circle cx="414.1" cy="136.7" r="1.62"/>
<circle cx="426.3" cy="142.3" r="1.62"/>
<circle cx="416.3" cy="146.0" r="1.62"/>
<circle cx="416.3" cy="149.0" r="1.62"/>
<circle cx="445.9" cy="140.7" r="1.62"/>
<circle cx="410.3" cy="137.0" r="1.62"/>
<circle cx="429.0" cy="141.0" r="1.62"/>
<circle cx="437.9" cy="141.7" r="1.62"/>
<circle cx="418.9" cy="138.3" r="1.62"/>
<circle cx="441.8" cy="162.2" r="1.62"/>
<circle cx="433.1" cy="153.5" r="1.62"/>
<circle cx="426.4" cy="162.1" r="1.62"/>
<circle cx="432.1" cy="154.4" r="1.62"/>
<circle cx="423.8" cy="163.0" r="1.62"/>
<circle cx="415.5" cy="160.4" r="1.62"/>
<circle cx="433.8" cy="158.3" r="1.62"/>
<circle cx="429.5" cy="164.8" r="1.62"/>
<circle cx="423.1" cy="162.0" r="1.62"/>
<circle cx="434.2" cy="161.8" r="1.62"/>
<circle cx="415.9" cy="161.1" r="1.62"/>
<circle cx="424.5" cy="152.1" r="1.62"/>
<circle cx="439.4" cy="154.2" r="1.62"/>
<circle cx="427.0" cy="154.9" r="1.62"/>
<circle cx="417.1" cy="154.7" r="1.62"/>
<circle cx="431.2" cy="160.2" r="1.62"/>
<circle cx="434.9" cy="152.4" r="1.62"/>
<circle cx="421.7" cy="163.3" r="1.62"/>
<circle cx="428.7" cy="161.8" r="1.62"/>
<circle cx="426.9" cy="156.7" r="1.62"/>
<circle cx="414.9" cy="163.5" r="1.62"/>
<circle cx="439.3" cy="161.4" r="1.62"/>
<circle cx="420.1" cy="160.1" r="1.62"/>
<circle cx="433.0" cy="154.5" r="1.62"/>
<circle cx="424.5" cy="164.2" r="1.62"/>
<circle cx="421.4" cy="159.8" r="1.62"/>
<circle cx="415.3" cy="150.4" r="1.62"/>
<circle cx="415.2" cy="154.9" r="1.62"/>
<circle cx="440.0" cy="159.2" r="1.62"/>
<circle cx="427.6" cy="152.4" r="1.62"/>
<circle cx="429.6" cy="152.1" r="1.62"/>
<circle cx="415.9" cy="155.3" r="1.62"/>
<circle cx="421.2" cy="162.5" r="1.62"/>
<circle cx="429.8" cy="160.2" r="1.62"/>
<circle cx="421.8" cy="156.3" r="1.62"/>
<circle cx="417.2" cy="154.6" r="1.62"/>
<circle cx="441.8" cy="160.7" r="1.62"/>
<circle cx="423.4" cy="160.1" r="1.62"/>
<circle cx="439.5" cy="163.0" r="1.62"/>
<circle cx="428.7" cy="152.5" r="1.62"/>
<circle cx="415.5" cy="151.1" r="1.62"/>
<circle cx="437.0" cy="162.5" r="1.62"/>
<circle cx="433.6" cy="161.6" r="1.62"/>
<circle cx="417.9" cy="159.3" r="1.62"/>
<circle cx="414.3" cy="150.5" r="1.62"/>
<circle cx="431.4" cy="150.1" r="1.62"/>
<circle cx="425.6" cy="155.6" r="1.62"/>
<circle cx="438.4" cy="155.6" r="1.62"/>
<circle cx="419.8" cy="160.9" r="1.62"/>
<circle cx="418.3" cy="165.7" r="1.62"/>
<circle cx="439.8" cy="165.9" r="1.62"/>
<circle cx="431.3" cy="152.9" r="1.62"/>
<circle cx="419.6" cy="161.4" r="1.62"/>
<circle cx="426.3" cy="161.3" r="1.62"/>
<circle cx="419.9" cy="159.1" r="1.62"/>
<circle cx="437.9" cy="154.6" r="1.62"/>
<circle cx="437.4" cy="152.3" r="1.62"/>
<circle cx="432.6" cy="150.7" r="1.62"/>
<circle cx="420.8" cy="151.2" r="1.62"/>
<circle cx="419.5" cy="158.5" r="1.62"/>
<circle cx="436.7" cy="163.0" r="1.62"/>
<circle cx="439.6" cy="154.0" r="1.62"/>
<circle cx="440.2" cy="156.8" r="1.62"/>
<circle cx="432.7" cy="161.6" r="1.62"/>
<circle cx="421.6" cy="154.5" r="1.62"/>
<circle cx="426.2" cy="155.5" r="1.62"/>
<circle cx="434.4" cy="163.9" r="1.62"/>
<circle cx="432.5" cy="150.8" r="1.62"/>
<circle cx="436.3" cy="162.3" r="1.62"/>
<circle cx="441.5" cy="153.0" r="1.62"/>
<circle cx="440.1" cy="156.3" r="1.62"/>
<circle cx="429.5" cy="153.2" r="1.62"/>
<circle cx="421.0" cy="156.7" r="1.62"/>
<circle cx="429.8" cy="154.1" r="1.62"/>
<circle cx="429.5" cy="156.8" r="1.62"/>
<circle cx="420.1" cy="160.4" r="1.62"/>
<circle cx="422.9" cy="150.6" r="1.62"/>
<circle cx="420.8" cy="156.7" r="1.62"/>
<circle cx="431.3" cy="151.1" r="1.62"/>
<circle cx="438.9" cy="151.3" r="1.62"/>
<circle cx="440.5" cy="150.5" r="1.62"/>
<circle cx="422.6" cy="155.4" r="1.62"/>
<circle cx="432.9" cy="151.4" r="1.62"/>
<circle cx="419.8" cy="163.2" r="1.62"/>
<circle cx="439.7" cy="150.9" r="1.62"/>
<circle cx="416.8" cy="155.4" r="1.62"/>
<circle cx="424.1" cy="160.9" r="1.62"/>
<circle cx="440.4" cy="160.2" r="1.62"/>
<circle cx="423.3" cy="153.5" r="1.62"/>
<circle cx="415.8" cy="151.1" r="1.62"/>
<circle cx="438.2" cy="163.8" r="1.62"/>
<circle cx="424.3" cy="153.5" r="1.62"/>
<circle cx="438.2" cy="153.7" r="1.62"/>
<circle cx="425.3" cy="164.2" r="1.62"/>
<circle cx="414.7" cy="155.7" r="1.62"/>
<circle cx="419.6" cy="157.2" r="1.62"/>
<circle cx="440.2" cy="165.3" r="1.62"/>
<circle cx="435.1" cy="163.6" r="1.62"/>
<circle cx="424.5" cy="161.8" r="1.62"/>
<circle cx="434.4" cy="164.5" r="1.62"/>
<circle cx="424.2" cy="163.6" r="1.62"/>
<circle cx="419.3" cy="159.3" r="1.62"/>
<circle cx="440.5" cy="161.9" r="1.62"/>
<circle cx="435.2" cy="152.9" r="1.62"/>
<circle cx="424.4" cy="159.0" r="1.62"/>
<circle cx="436.5" cy="153.8" r="1.62"/>
<circle cx="429.1" cy="161.9" r="1.62"/>
<circle cx="433.3" cy="154.1" r="1.62"/>
<circle cx="416.8" cy="155.8" r="1.62"/>
<circle cx="419.4" cy="159.0" r="1.62"/>
<circle cx="428.7" cy="150.8" r="1.62"/>
<circle cx="440.2" cy="164.6" r="1.62"/>
<circle cx="419.4" cy="154.4" r="1.62"/>
<circle cx="440.8" cy="150.5" r="1.62"/>
<circle cx="418.5" cy="155.9" r="1.62"/>
<circle cx="437.6" cy="150.9" r="1.62"/>
<circle cx="428.8" cy="162.1" r="1.62"/>
<circle cx="431.6" cy="157.1" r="1.62"/>
<circle cx="432.2" cy="161.4" r="1.62"/>
<circle cx="427.6" cy="154.3" r="1.62"/>
<circle cx="431.7" cy="162.9" r="1.62"/>
<circle cx="416.7" cy="160.3" r="1.62"/>
<circle cx="425.7" cy="152.6" r="1.62"/>
<circle cx="423.2" cy="151.1" r="1.62"/>
<circle cx="437.0" cy="159.0" r="1.62"/>
<circle cx="426.2" cy="163.9" r="1.62"/>
<circle cx="437.2" cy="156.3" r="1.62"/>
<circle cx="414.9" cy="159.4" r="1.62"/>
<circle cx="420.5" cy="159.7" r="1.62"/>
<circle cx="416.8" cy="162.8" r="1.62"/>
<circle cx="437.9" cy="152.9" r="1.62"/>
<circle cx="436.9" cy="151.5" r="1.62"/>
<circle cx="418.0" cy="159.0" r="1.62"/>
<circle cx="420.7" cy="156.3" r="1.62"/>
<circle cx="424.4" cy="162.2" r="1.62"/>
<circle cx="435.7" cy="164.2" r="1.62"/>
<circle cx="420.7" cy="154.2" r="1.62"/>
<circle cx="437.3" cy="156.4" r="1.62"/>
<circle cx="417.2" cy="158.1" r="1.62"/>
<circle cx="420.7" cy="160.1" r="1.62"/>
<circle cx="425.3" cy="152.6" r="1.62"/>
<circle cx="435.0" cy="164.3" r="1.62"/>
<circle cx="418.3" cy="153.4" r="1.62"/>
<circle cx="428.0" cy="152.6" r="1.62"/>
<circle cx="440.9" cy="157.0" r="1.62"/>
<circle cx="416.1" cy="153.2" r="1.62"/>
<circle cx="420.1" cy="154.0" r="1.62"/>
<circle cx="431.0" cy="164.1" r="1.62"/>
<circle cx="425.1" cy="158.8" r="1.62"/>
<circle cx="440.8" cy="157.9" r="1.62"/>
<circle cx="424.6" cy="163.9" r="1.62"/>
<circle cx="433.0" cy="156.7" r="1.62"/>
<circle cx="436.8" cy="154.0" r="1.62"/>
<circle cx="416.8" cy="153.7" r="1.62"/>
<circle cx="423.3" cy="163.7" r="1.62"/>
<circle cx="421.1" cy="151.2" r="1.62"/>
<circle cx="417.0" cy="162.8" r="1.62"/>
<circle cx="428.1" cy="165.2" r="1.62"/>
<circle cx="423.4" cy="152.3" r="1.62"/>
<circle cx="419.1" cy="162.0" r="1.62"/>
<circle cx="428.1" cy="163.5" r="1.62"/>
<circle cx="440.6" cy="157.8" r="1.62"/>
<circle cx="416.5" cy="163.6" r="1.62"/>
<circle cx="438.7" cy="159.2" r="1.62"/>
<circle cx="428.9" cy="162.5" r="1.62"/>
<circle cx="424.0" cy="150.3" r="1.62"/>
<circle cx="440.8" cy="157.5" r="1.62"/>
<circle cx="423.5" cy="164.1" r="1.62"/>
<circle cx="439.4" cy="157.0" r="1.62"/>
<circle cx="434.8" cy="166.0" r="1.62"/>
<circle cx="428.5" cy="158.1" r="1.62"/>
<circle cx="440.3" cy="152.1" r="1.62"/>
<circle cx="433.7" cy="153.3" r="1.62"/>
<circle cx="423.1" cy="162.5" r="1.62"/>
<circle cx="416.1" cy="164.7" r="1.62"/>
<circle cx="434.1" cy="164.8" r="1.62"/>
<circle cx="437.7" cy="159.5" r="1.62"/>
<circle cx="425.3" cy="151.5" r="1.62"/>
<circle cx="439.5" cy="162.5" r="1.62"/>
<circle cx="423.0" cy="154.6" r="1.62"/>
<circle cx="441.0" cy="155.3" r="1.62"/>
<circle cx="418.8" cy="153.7" r="1.62"/>
<circle cx="433.8" cy="163.0" r="1.62"/>
<circle cx="421.5" cy="160.9" r="1.62"/>
<circle cx="430.8" cy="160.7" r="1.62"/>
<circle cx="418.6" cy="162.5" r="1.62"/>
<circle cx="416.9" cy="151.7" r="1.62"/>
<circle cx="430.9" cy="164.4" r="1.62"/>
<circle cx="433.3" cy="163.7" r="1.62"/>
<circle cx="438.0" cy="160.7" r="1.62"/>
<circle cx="438.5" cy="175.7" r="1.62"/>
<circle cx="436.7" cy="167.5" r="1.62"/>
<circle cx="425.8" cy="170.5" r="1.62"/>
<circle cx="430.9" cy="170.7" r="1.62"/>
<circle cx="437.8" cy="172.4" r="1.62"/>
<circle cx="438.5" cy="175.9" r="1.62"/>
<circle cx="420.9" cy="168.9" r="1.62"/>
<circle cx="439.7" cy="167.0" r="1.62"/>
<circle cx="427.6" cy="167.7" r="1.62"/>
<circle cx="433.3" cy="170.6" r="1.62"/>
<circle cx="437.4" cy="175.7" r="1.62"/>
<circle cx="437.7" cy="169.1" r="1.62"/>
<circle cx="432.8" cy="175.9" r="1.62"/>
<circle cx="428.4" cy="170.4" r="1.62"/>
<circle cx="439.8" cy="171.7" r="1.62"/>
<circle cx="420.2" cy="171.6" r="1.62"/>
<circle cx="422.6" cy="166.4" r="1.62"/>
<circle cx="437.6" cy="173.5" r="1.62"/>
<circle cx="428.0" cy="175.4" r="1.62"/>
<circle cx="424.4" cy="166.5" r="1.62"/>
<circle cx="421.1" cy="170.9" r="1.62"/>
<circle cx="425.2" cy="172.6" r="1.62"/>
<circle cx="439.4" cy="170.8" r="1.62"/>
<circle cx="436.7" cy="167.1" r="1.62"/>
<circle cx="434.4" cy="168.1" r="1.62"/>
<circle cx="437.1" cy="171.4" r="1.62"/>
<circle cx="427.2" cy="169.9" r="1.62"/>
<circle cx="424.6" cy="173.2" r="1.62"/>
<circle cx="429.7" cy="167.4" r="1.62"/>
<circle cx="425.6" cy="169.8" r="1.62"/>
<circle cx="425.6" cy="167.6" r="1.62"/>
<circle cx="431.0" cy="173.1" r="1.62"/>
<circle cx="420.1" cy="172.9" r="1.62"/>
<circle cx="424.0" cy="171.0" r="1.62"/>
<circle cx="436.2" cy="168.9" r="1.62"/>
<circle cx="436.8" cy="166.9" r="1.62"/>
<circle cx="426.1" cy="166.0" r="1.62"/>
<circle cx="423.1" cy="172.9" r="1.62"/>
<circle cx="438.5" cy="173.7" r="1.62"/>
<circle cx="424.4" cy="172.0" r="1.62"/>
<circle cx="432.7" cy="168.7" r="1.62"/>
<circle cx="421.3" cy="174.6" r="1.62"/>
<circle cx="438.6" cy="169.4" r="1.62"/>
<circle cx="422.1" cy="174.0" r="1.62"/>
<circle cx="423.9" cy="166.5" r="1.62"/>
<circle cx="439.8" cy="168.0" r="1.62"/>
<circle cx="424.8" cy="172.6" r="1.62"/>
<circle cx="434.4" cy="172.5" r="1.62"/>
<circle cx="423.3" cy="175.0" r="1.62"/>
<circle cx="427.3" cy="168.1" r="1.62"/>
<circle cx="435.8" cy="168.3" r="1.62"/>
<circle cx="428.5" cy="168.6" r="1.62"/>
<circle cx="429.5" cy="173.6" r="1.62"/>
<circle cx="422.5" cy="176.0" r="1.62"/>
<circle cx="430.1" cy="174.5" r="1.62"/>
<circle cx="429.0" cy="169.7" r="1.62"/>
<circle cx="431.3" cy="166.7" r="1.62"/>
<circle cx="424.0" cy="167.2" r="1.62"/>
<circle cx="423.5" cy="168.7" r="1.62"/>
<circle cx="423.4" cy="175.2" r="1.62"/>
<circle cx="384.3" cy="139.6" r="1.62"/>
<circle cx="384.8" cy="144.3" r="1.62"/>
<circle cx="406.9" cy="143.7" r="1.62"/>
<circle cx="393.5" cy="147.0" r="1.62"/>
<circle cx="399.1" cy="146.0" r="1.62"/>
<circle cx="402.6" cy="139.6" r="1.62"/>
<circle cx="384.9" cy="140.2" r="1.62"/>
<circle cx="388.6" cy="146.4" r="1.62"/>
<circle cx="405.8" cy="136.9" r="1.62"/>
<circle cx="398.6" cy="143.5" r="1.62"/>
<circle cx="395.0" cy="139.3" r="1.62"/>
<circle cx="409.8" cy="147.2" r="1.62"/>
<circle cx="403.8" cy="147.5" r="1.62"/>
<circle cx="408.0" cy="148.4" r="1.62"/>
<circle cx="404.1" cy="145.4" r="1.62"/>
<circle cx="383.8" cy="140.5" r="1.62"/>
<circle cx="392.0" cy="146.9" r="1.62"/>
<circle cx="383.8" cy="146.2" r="1.62"/>
<circle cx="394.4" cy="137.4" r="1.62"/>
<circle cx="393.2" cy="139.8" r="1.62"/>
<circle cx="401.1" cy="139.6" r="1.62"/>
<circle cx="389.6" cy="147.4" r="1.62"/>
<circle cx="393.7" cy="146.8" r="1.62"/>
<circle cx="386.7" cy="141.3" r="1.62"/>
<circle cx="385.6" cy="155.4" r="1.62"/>
<circle cx="396.2" cy="169.1" r="1.62"/>
<circle cx="396.1" cy="169.2" r="1.62"/>
<circle cx="390.8" cy="151.4" r="1.62"/>
<circle cx="406.8" cy="156.4" r="1.62"/>
<circle cx="389.4" cy="165.0" r="1.62"/>
<circle cx="411.9" cy="161.7" r="1.62"/>
<circle cx="396.4" cy="155.1" r="1.62"/>
<circle cx="382.1" cy="157.8" r="1.62"/>
<circle cx="386.8" cy="161.9" r="1.62"/>
<circle cx="384.2" cy="155.6" r="1.62"/>
<circle cx="388.8" cy="150.6" r="1.62"/>
<circle cx="405.5" cy="157.9" r="1.62"/>
<circle cx="402.6" cy="166.1" r="1.62"/>
<circle cx="403.0" cy="161.5" r="1.62"/>
<circle cx="386.3" cy="163.4" r="1.62"/>
<circle cx="390.8" cy="155.9" r="1.62"/>
<circle cx="406.6" cy="169.4" r="1.62"/>
<circle cx="407.2" cy="169.9" r="1.62"/>
<circle cx="399.5" cy="168.4" r="1.62"/>
<circle cx="400.1" cy="169.7" r="1.62"/>
<circle cx="386.3" cy="154.0" r="1.62"/>
<circle cx="383.0" cy="158.7" r="1.62"/>
<circle cx="411.5" cy="162.5" r="1.62"/>
<circle cx="389.1" cy="164.1" r="1.62"/>
<circle cx="390.3" cy="163.3" r="1.62"/>
<circle cx="403.4" cy="165.7" r="1.62"/>
<circle cx="398.8" cy="159.0" r="1.62"/>
<circle cx="385.7" cy="152.0" r="1.62"/>
<circle cx="383.2" cy="157.8" r="1.62"/>
<circle cx="407.1" cy="169.1" r="1.62"/>
<circle cx="386.3" cy="166.0" r="1.62"/>
<circle cx="391.8" cy="158.2" r="1.62"/>
<circle cx="408.8" cy="162.9" r="1.62"/>
<circle cx="397.8" cy="170.2" r="1.62"/>
<circle cx="389.2" cy="156.5" r="1.62"/>
<circle cx="383.6" cy="156.4" r="1.62"/>
<circle cx="402.8" cy="151.4" r="1.62"/>
<circle cx="396.1" cy="153.4" r="1.62"/>
<circle cx="396.3" cy="151.1" r="1.62"/>
<circle cx="401.0" cy="160.4" r="1.62"/>
<circle cx="407.6" cy="155.2" r="1.62"/>
<circle cx="384.7" cy="162.7" r="1.62"/>
<circle cx="390.1" cy="170.9" r="1.62"/>
<circle cx="400.7" cy="168.9" r="1.62"/>
<circle cx="399.3" cy="165.3" r="1.62"/>
<circle cx="388.0" cy="161.4" r="1.62"/>
<circle cx="386.8" cy="164.6" r="1.62"/>
<circle cx="394.3" cy="170.3" r="1.62"/>
<circle cx="399.1" cy="166.0" r="1.62"/>
<circle cx="383.4" cy="171.7" r="1.62"/>
<circle cx="404.7" cy="155.6" r="1.62"/>
<circle cx="401.9" cy="165.2" r="1.62"/>
<circle cx="390.9" cy="156.4" r="1.62"/>
<circle cx="382.6" cy="152.8" r="1.62"/>
<circle cx="391.0" cy="156.0" r="1.62"/>
<circle cx="386.5" cy="169.3" r="1.62"/>
<circle cx="386.5" cy="158.5" r="1.62"/>
<circle cx="383.5" cy="159.1" r="1.62"/>
<circle cx="382.1" cy="154.3" r="1.62"/>
<circle cx="407.4" cy="163.0" r="1.62"/>
<circle cx="400.0" cy="161.6" r="1.62"/>
<circle cx="455.8" cy="142.3" r="1.62"/>
<circle cx="445.7" cy="158.5" r="1.62"/>
<circle cx="449.1" cy="136.6" r="1.62"/>
<circle cx="460.4" cy="160.6" r="1.62"/>
<circle cx="458.6" cy="147.6" r="1.62"/>
<circle cx="448.5" cy="166.8" r="1.62"/>
<circle cx="448.3" cy="147.6" r="1.62"/>
<circle cx="462.1" cy="162.6" r="1.62"/>
<circle cx="459.1" cy="168.9" r="1.62"/>
<circle cx="446.9" cy="140.5" r="1.62"/>
<circle cx="449.5" cy="172.4" r="1.62"/>
<circle cx="461.2" cy="140.4" r="1.62"/>
<circle cx="454.5" cy="138.2" r="1.62"/>
<circle cx="453.5" cy="168.8" r="1.62"/>
<circle cx="453.1" cy="146.5" r="1.62"/>
<circle cx="448.4" cy="167.2" r="1.62"/>
<circle cx="454.3" cy="137.1" r="1.62"/>
<circle cx="448.8" cy="139.6" r="1.62"/>
<circle cx="453.1" cy="141.8" r="1.62"/>
<circle cx="452.2" cy="141.8" r="1.62"/>
<circle cx="463.0" cy="165.6" r="1.62"/>
<circle cx="445.7" cy="164.4" r="1.62"/>
<circle cx="446.9" cy="167.5" r="1.62"/>
<circle cx="455.3" cy="166.4" r="1.62"/>
<circle cx="453.1" cy="165.3" r="1.62"/>
<circle cx="451.8" cy="162.5" r="1.62"/>
<circle cx="449.9" cy="141.6" r="1.62"/>
<circle cx="457.4" cy="173.4" r="1.62"/>
<circle cx="456.1" cy="145.1" r="1.62"/>
<circle cx="448.8" cy="144.5" r="1.62"/>
<circle cx="453.1" cy="151.4" r="1.62"/>
<circle cx="450.6" cy="160.0" r="1.62"/>
<circle cx="449.7" cy="176.2" r="1.62"/>
<circle cx="467.9" cy="153.2" r="1.62"/>
<circle cx="465.1" cy="155.8" r="1.62"/>
<circle cx="449.9" cy="141.1" r="1.62"/>
<circle cx="454.7" cy="155.3" r="1.62"/>
<circle cx="469.9" cy="165.9" r="1.62"/>
<circle cx="473.0" cy="172.9" r="1.62"/>
<circle cx="453.5" cy="159.4" r="1.62"/>
<circle cx="471.2" cy="150.7" r="1.62"/>
<circle cx="450.1" cy="148.9" r="1.62"/>
<circle cx="465.9" cy="183.9" r="1.62"/>
<circle cx="471.3" cy="179.0" r="1.62"/>
<circle cx="453.0" cy="182.0" r="1.62"/>
<circle cx="455.5" cy="155.1" r="1.62"/>
<circle cx="454.8" cy="181.1" r="1.62"/>
<circle cx="454.8" cy="176.2" r="1.62"/>
<circle cx="452.3" cy="173.5" r="1.62"/>
<circle cx="472.9" cy="161.3" r="1.62"/>
<circle cx="465.6" cy="177.2" r="1.62"/>
<circle cx="452.0" cy="168.5" r="1.62"/>
<circle cx="454.0" cy="143.1" r="1.62"/>
<circle cx="447.4" cy="164.6" r="1.62"/>
<circle cx="315.2" cy="133.6" r="1.62"/>
<circle cx="317.2" cy="133.5" r="1.62"/>
<circle cx="319.1" cy="133.0" r="1.62"/>
<circle cx="321.0" cy="134.4" r="1.62"/>
<circle cx="322.9" cy="132.8" r="1.62"/>
<circle cx="324.8" cy="133.7" r="1.62"/>
<circle cx="326.7" cy="134.5" r="1.62"/>
<circle cx="328.6" cy="132.9" r="1.62"/>
<circle cx="330.4" cy="133.8" r="1.62"/>
<circle cx="332.4" cy="133.9" r="1.62"/>
<circle cx="334.2" cy="132.8" r="1.62"/>
<circle cx="336.1" cy="133.5" r="1.62"/>
<circle cx="338.1" cy="134.1" r="1.62"/>
<circle cx="340.0" cy="133.6" r="1.62"/>
<circle cx="341.9" cy="134.1" r="1.62"/>
<circle cx="343.8" cy="133.0" r="1.62"/>
<circle cx="345.7" cy="133.2" r="1.62"/>
<circle cx="347.6" cy="133.0" r="1.62"/>
<circle cx="349.5" cy="133.7" r="1.62"/>
<circle cx="351.4" cy="134.5" r="1.62"/>
<circle cx="353.3" cy="133.9" r="1.62"/>
<circle cx="355.2" cy="134.2" r="1.62"/>
<circle cx="357.1" cy="133.5" r="1.62"/>
<circle cx="359.0" cy="134.2" r="1.62"/>
<circle cx="360.9" cy="132.9" r="1.62"/>
<circle cx="362.8" cy="133.3" r="1.62"/>
<circle cx="364.7" cy="134.0" r="1.62"/>
<circle cx="366.6" cy="134.1" r="1.62"/>
<circle cx="368.5" cy="133.6" r="1.62"/>
<circle cx="370.4" cy="132.9" r="1.62"/>
<circle cx="372.3" cy="133.3" r="1.62"/>
<circle cx="374.2" cy="133.1" r="1.62"/>
<circle cx="376.1" cy="133.3" r="1.62"/>
<circle cx="378.0" cy="134.3" r="1.62"/>
<circle cx="379.9" cy="133.1" r="1.62"/>
<circle cx="381.8" cy="134.4" r="1.62"/>
<circle cx="383.7" cy="134.4" r="1.62"/>
<circle cx="385.6" cy="132.9" r="1.62"/>
<circle cx="387.5" cy="133.5" r="1.62"/>
<circle cx="389.4" cy="133.7" r="1.62"/>
<circle cx="391.3" cy="132.8" r="1.62"/>
<circle cx="393.2" cy="133.6" r="1.62"/>
<circle cx="395.1" cy="134.5" r="1.62"/>
<circle cx="397.0" cy="133.0" r="1.62"/>
<circle cx="398.9" cy="133.9" r="1.62"/>
<circle cx="400.8" cy="133.0" r="1.62"/>
<circle cx="402.7" cy="133.8" r="1.62"/>
<circle cx="404.6" cy="134.5" r="1.62"/>
<circle cx="406.5" cy="133.1" r="1.62"/>
<circle cx="408.4" cy="132.8" r="1.62"/>
<circle cx="410.3" cy="132.9" r="1.62"/>
<circle cx="412.2" cy="133.8" r="1.62"/>
<circle cx="414.1" cy="132.8" r="1.62"/>
<circle cx="416.0" cy="132.9" r="1.62"/>
<circle cx="417.9" cy="133.7" r="1.62"/>
<circle cx="419.8" cy="134.5" r="1.62"/>
<circle cx="421.7" cy="133.5" r="1.62"/>
<circle cx="423.6" cy="133.5" r="1.62"/>
<circle cx="425.5" cy="134.0" r="1.62"/>
<circle cx="427.4" cy="132.9" r="1.62"/>
<circle cx="429.3" cy="133.9" r="1.62"/>
<circle cx="431.2" cy="133.1" r="1.62"/>
<circle cx="433.1" cy="133.9" r="1.62"/>
<circle cx="435.0" cy="134.6" r="1.62"/>
<circle cx="436.9" cy="132.9" r="1.62"/>
<circle cx="438.8" cy="133.8" r="1.62"/>
<circle cx="440.7" cy="133.9" r="1.62"/>
<circle cx="442.6" cy="133.0" r="1.62"/>
<circle cx="444.5" cy="133.3" r="1.62"/>
<circle cx="446.4" cy="134.6" r="1.62"/>
<circle cx="448.3" cy="134.6" r="1.62"/>
<circle cx="450.2" cy="133.0" r="1.62"/>
<circle cx="452.1" cy="134.1" r="1.62"/>
<circle cx="454.0" cy="134.6" r="1.62"/>
<circle cx="455.9" cy="133.2" r="1.62"/>
<circle cx="457.8" cy="133.9" r="1.62"/>
<circle cx="459.7" cy="132.8" r="1.62"/>
<circle cx="461.6" cy="133.4" r="1.62"/>
<circle cx="463.5" cy="134.0" r="1.62"/>
<circle cx="465.4" cy="133.9" r="1.62"/>
<circle cx="467.3" cy="134.2" r="1.62"/>
<circle cx="469.2" cy="132.9" r="1.62"/>
<circle cx="471.1" cy="133.4" r="1.62"/>
<circle cx="473.0" cy="134.4" r="1.62"/>
<circle cx="474.9" cy="133.9" r="1.62"/>
<circle cx="476.8" cy="133.6" r="1.62"/>
<circle cx="478.7" cy="133.5" r="1.62"/>
<circle cx="480.6" cy="134.6" r="1.62"/>
<circle cx="482.5" cy="133.8" r="1.62"/>
<circle cx="484.4" cy="132.8" r="1.62"/>
<circle cx="486.3" cy="134.3" r="1.62"/>
<circle cx="488.2" cy="133.4" r="1.62"/>
<circle cx="490.1" cy="133.6" r="1.62"/>
<circle cx="492.0" cy="133.2" r="1.62"/>
<circle cx="493.9" cy="133.6" r="1.62"/>
<circle cx="495.8" cy="133.4" r="1.62"/>
<circle cx="497.7" cy="132.9" r="1.62"/>
<circle cx="499.6" cy="133.9" r="1.62"/>
<circle cx="501.5" cy="132.9" r="1.62"/>
<circle cx="503.4" cy="134.2" r="1.62"/>
<circle cx="505.3" cy="132.8" r="1.62"/>
<circle cx="507.2" cy="134.2" r="1.62"/>
<circle cx="509.1" cy="134.3" r="1.62"/>
<circle cx="511.0" cy="133.7" r="1.62"/>
<circle cx="512.9" cy="134.1" r="1.62"/>
<circle cx="514.8" cy="133.2" r="1.62"/>
<circle cx="516.7" cy="134.2" r="1.62"/>
<circle cx="518.6" cy="133.6" r="1.62"/>
<circle cx="520.5" cy="133.2" r="1.62"/>
<circle cx="522.4" cy="134.6" r="1.62"/>
<circle cx="524.3" cy="133.5" r="1.62"/>
<circle cx="526.2" cy="133.5" r="1.62"/>
<circle cx="528.1" cy="134.4" r="1.62"/>
<circle cx="530.0" cy="133.5" r="1.62"/>
<circle cx="531.9" cy="134.0" r="1.62"/>
<circle cx="315.2" cy="133.7" r="1.62"/>
</g>
<rect x="304.6" y="17.9" width="239.6" height="225.8" fill="none" stroke="#2a2a2a" stroke-width="1"/>
<line x1="318.8" y1="243.7" x2="318.8" y2="246.7" stroke="#222" stroke-width="0.8"/>
<text transform="translate(318.8,255.4) scale(0.856,1)" text-anchor="middle" class="t">−4</text>
<line x1="346.1" y1="243.7" x2="346.1" y2="246.7" stroke="#222" stroke-width="0.8"/>
<text transform="translate(346.1,255.4) scale(0.856,1)" text-anchor="middle" class="t">−3</text>
<line x1="373.5" y1="243.7" x2="373.5" y2="246.7" stroke="#222" stroke-width="0.8"/>
<text transform="translate(373.5,255.4) scale(0.856,1)" text-anchor="middle" class="t">−2</text>
<line x1="400.8" y1="243.7" x2="400.8" y2="246.7" stroke="#222" stroke-width="0.8"/>
<text transform="translate(400.8,255.4) scale(0.856,1)" text-anchor="middle" class="t">−1</text>
<line x1="428.2" y1="243.7" x2="428.2" y2="246.7" stroke="#222" stroke-width="0.8"/>
<text transform="translate(428.2,255.4) scale(0.856,1)" text-anchor="middle" class="t">0</text>
<line x1="455.5" y1="243.7" x2="455.5" y2="246.7" stroke="#222" stroke-width="0.8"/>
<text transform="translate(455.5,255.4) scale(0.856,1)" text-anchor="middle" class="t">1</text>
<line x1="482.9" y1="243.7" x2="482.9" y2="246.7" stroke="#222" stroke-width="0.8"/>
<text transform="translate(482.9,255.4) scale(0.856,1)" text-anchor="middle" class="t">2</text>
<line x1="510.2" y1="243.7" x2="510.2" y2="246.7" stroke="#222" stroke-width="0.8"/>
<text transform="translate(510.2,255.4) scale(0.856,1)" text-anchor="middle" class="t">3</text>
<line x1="537.6" y1="243.7" x2="537.6" y2="246.7" stroke="#222" stroke-width="0.8"/>
<text transform="translate(537.6,255.4) scale(0.856,1)" text-anchor="middle" class="t">4</text>
<line x1="301.6" y1="225.1" x2="304.2" y2="225.1" stroke="#222" stroke-width="0.8"/>
<text transform="translate(299.4,228.3) scale(0.856,1)" text-anchor="end" class="t">−4</text>
<line x1="301.6" y1="179.7" x2="304.2" y2="179.7" stroke="#222" stroke-width="0.8"/>
<text transform="translate(299.4,182.9) scale(0.856,1)" text-anchor="end" class="t">−2</text>
<line x1="301.6" y1="134.4" x2="304.2" y2="134.4" stroke="#222" stroke-width="0.8"/>
<text transform="translate(299.4,137.6) scale(0.856,1)" text-anchor="end" class="t">0</text>
<line x1="301.6" y1="89.1" x2="304.2" y2="89.1" stroke="#222" stroke-width="0.8"/>
<text transform="translate(299.4,92.3) scale(0.856,1)" text-anchor="end" class="t">2</text>
<line x1="301.6" y1="43.7" x2="304.2" y2="43.7" stroke="#222" stroke-width="0.8"/>
<text transform="translate(299.4,46.9) scale(0.856,1)" text-anchor="end" class="t">4</text>
<text transform="translate(424.1,266.3) scale(0.856,1)" text-anchor="middle" class="t">HDL</text>
<text transform="translate(285.8,131.8) rotate(-90) scale(0.856,1)" text-anchor="middle" class="t">LDL</text>
<text transform="translate(424.1,13.6) scale(0.92,1)" text-anchor="middle" class="ti">Training Set With Borderline-SMOTE</text>
<rect x="308.2" y="21.8" width="169.5" height="42.5" rx="2" ry="2" fill="#fff" stroke="#1a1a1a" stroke-width="0.95"/>
<circle cx="318.9" cy="30.1" r="1.65" fill="#fb820c"/>
<text transform="translate(333.6,32.2) scale(0.861,1)" class="l">Dementia (<tspan font-style="italic">n</tspan> = 6201, 33.33%)</text>
<circle cx="318.9" cy="43.8" r="1.65" fill="#1b5aec"/>
<text transform="translate(333.6,45.9) scale(0.861,1)" class="l">Heart Failure (<tspan font-style="italic">n</tspan> = 6201, 33.33%)</text>
<circle cx="318.9" cy="57.5" r="1.65" fill="#00f994"/>
<text transform="translate(333.6,59.5) scale(0.861,1)" class="l">Aortic Valve Disorder (<tspan font-style="italic">n</tspan> = 6201, 33.33%)</text>
</svg>
</body></html>
